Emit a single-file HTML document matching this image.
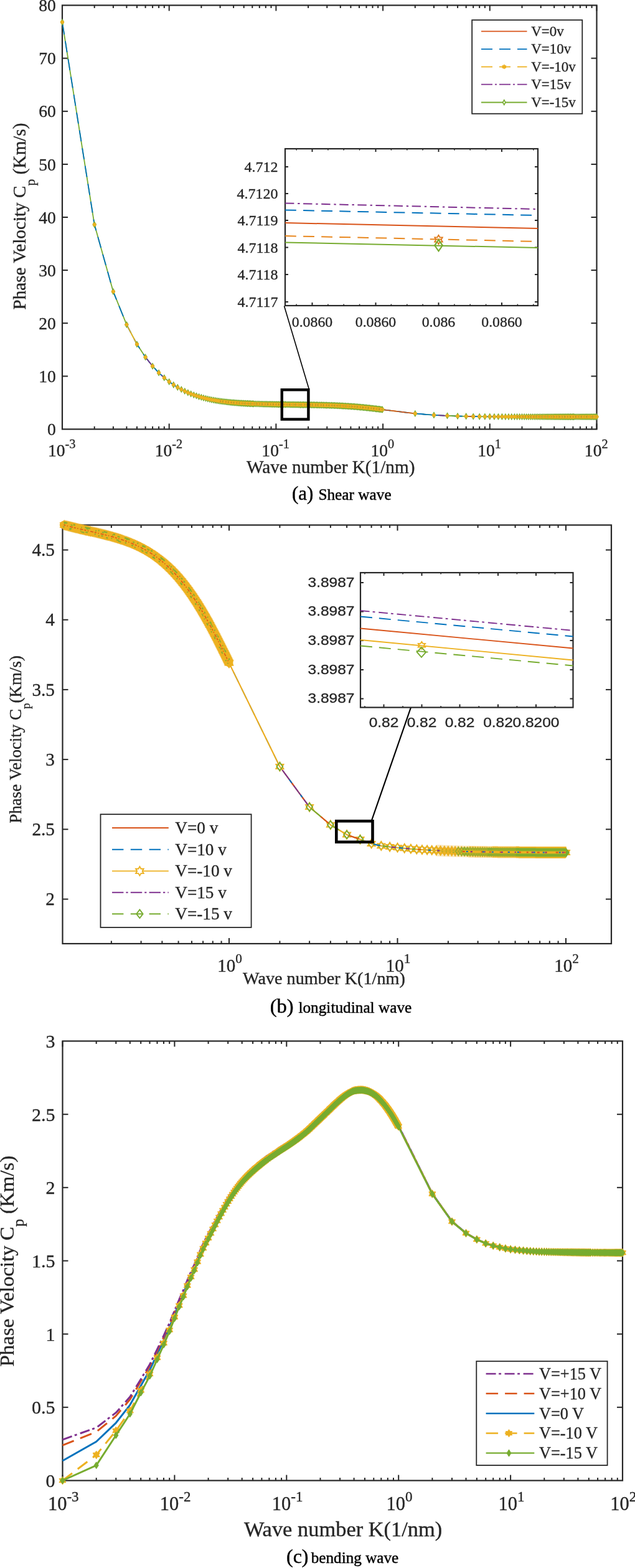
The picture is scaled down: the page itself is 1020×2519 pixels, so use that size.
<!DOCTYPE html>
<html lang="en"><head><meta charset="utf-8"><title>Phase velocity dispersion curves</title>
<style>html,body{margin:0;padding:0;background:#fff}svg{display:block}text{stroke:#262626;stroke-width:0.35px}text.cap{fill:#000;stroke:#000;stroke-width:0.45px}</style></head>
<body>
<svg width="1020" height="2519" viewBox="0 0 1020 2519" role="img" aria-label="Phase velocity versus wave number for shear, longitudinal and bending waves">
<rect width="1020" height="2519" fill="#fff"/>
<defs>
<marker id="aY" markerWidth="10" markerHeight="10" refX="5" refY="5" markerUnits="userSpaceOnUse" overflow="visible"><polygon points="5,2.1 3.9,3.1 2.5,3.5 2.8,5 2.5,6.4 3.9,6.9 5,7.9 6.1,6.9 7.5,6.5 7.2,5 7.5,3.5 6.1,3.1" fill="#EDB120" stroke="#EDB120" stroke-width="1"/></marker>
<marker id="aG" markerWidth="10" markerHeight="12" refX="5" refY="6" markerUnits="userSpaceOnUse" overflow="visible"><polygon points="5,1.5 7.6,6 5,10.5 2.4,6" fill="#77AC30" stroke="#77AC30" stroke-width="1.2"/></marker>
<marker id="bY" markerWidth="22" markerHeight="22" refX="11" refY="11" markerUnits="userSpaceOnUse" overflow="visible"><polygon points="11,3.9 9,7.4 4.9,7.4 6.9,11 4.9,14.5 9,14.6 11,18.1 13,14.6 17.1,14.6 15.1,11 17.1,7.5 13,7.5" fill="none" stroke="#EDB120" stroke-width="1.8"/></marker>
<marker id="bG" markerWidth="16" markerHeight="20" refX="8" refY="10" markerUnits="userSpaceOnUse" overflow="visible"><polygon points="8,3.6 12.8,10 8,16.4 3.2,10" fill="none" stroke="#77AC30" stroke-width="1.8"/></marker>
<marker id="cY" markerWidth="16" markerHeight="16" refX="8" refY="8" markerUnits="userSpaceOnUse" overflow="visible"><polygon points="8,1.6 6.1,4.7 2.5,4.8 4.2,8 2.5,11.2 6.1,11.3 8,14.4 9.9,11.3 13.5,11.2 11.8,8 13.5,4.8 9.9,4.7" fill="#EDB120" stroke="#EDB120" stroke-width="1"/></marker>
<marker id="cG" markerWidth="12" markerHeight="16" refX="6" refY="8" markerUnits="userSpaceOnUse" overflow="visible"><polygon points="6,2.6 9.6,8 6,13.4 2.4,8" fill="#77AC30" stroke="#77AC30" stroke-width="1"/></marker>
</defs>
<g id="panel-a">
<rect x="100" y="8.5" width="858.5" height="681" fill="none" stroke="#262626" stroke-width="2.2"/>
<line x1="100" y1="689.5" x2="100" y2="680.5" stroke="#262626" stroke-width="2"/>
<line x1="100" y1="8.5" x2="100" y2="17.5" stroke="#262626" stroke-width="2"/>
<line x1="151.7" y1="689.5" x2="151.7" y2="685" stroke="#262626" stroke-width="2"/>
<line x1="151.7" y1="8.5" x2="151.7" y2="13" stroke="#262626" stroke-width="2"/>
<line x1="181.9" y1="689.5" x2="181.9" y2="685" stroke="#262626" stroke-width="2"/>
<line x1="181.9" y1="8.5" x2="181.9" y2="13" stroke="#262626" stroke-width="2"/>
<line x1="203.4" y1="689.5" x2="203.4" y2="685" stroke="#262626" stroke-width="2"/>
<line x1="203.4" y1="8.5" x2="203.4" y2="13" stroke="#262626" stroke-width="2"/>
<line x1="220" y1="689.5" x2="220" y2="685" stroke="#262626" stroke-width="2"/>
<line x1="220" y1="8.5" x2="220" y2="13" stroke="#262626" stroke-width="2"/>
<line x1="233.6" y1="689.5" x2="233.6" y2="685" stroke="#262626" stroke-width="2"/>
<line x1="233.6" y1="8.5" x2="233.6" y2="13" stroke="#262626" stroke-width="2"/>
<line x1="245.1" y1="689.5" x2="245.1" y2="685" stroke="#262626" stroke-width="2"/>
<line x1="245.1" y1="8.5" x2="245.1" y2="13" stroke="#262626" stroke-width="2"/>
<line x1="255.1" y1="689.5" x2="255.1" y2="685" stroke="#262626" stroke-width="2"/>
<line x1="255.1" y1="8.5" x2="255.1" y2="13" stroke="#262626" stroke-width="2"/>
<line x1="263.8" y1="689.5" x2="263.8" y2="685" stroke="#262626" stroke-width="2"/>
<line x1="263.8" y1="8.5" x2="263.8" y2="13" stroke="#262626" stroke-width="2"/>
<line x1="271.7" y1="689.5" x2="271.7" y2="680.5" stroke="#262626" stroke-width="2"/>
<line x1="271.7" y1="8.5" x2="271.7" y2="17.5" stroke="#262626" stroke-width="2"/>
<line x1="323.4" y1="689.5" x2="323.4" y2="685" stroke="#262626" stroke-width="2"/>
<line x1="323.4" y1="8.5" x2="323.4" y2="13" stroke="#262626" stroke-width="2"/>
<line x1="353.6" y1="689.5" x2="353.6" y2="685" stroke="#262626" stroke-width="2"/>
<line x1="353.6" y1="8.5" x2="353.6" y2="13" stroke="#262626" stroke-width="2"/>
<line x1="375.1" y1="689.5" x2="375.1" y2="685" stroke="#262626" stroke-width="2"/>
<line x1="375.1" y1="8.5" x2="375.1" y2="13" stroke="#262626" stroke-width="2"/>
<line x1="391.7" y1="689.5" x2="391.7" y2="685" stroke="#262626" stroke-width="2"/>
<line x1="391.7" y1="8.5" x2="391.7" y2="13" stroke="#262626" stroke-width="2"/>
<line x1="405.3" y1="689.5" x2="405.3" y2="685" stroke="#262626" stroke-width="2"/>
<line x1="405.3" y1="8.5" x2="405.3" y2="13" stroke="#262626" stroke-width="2"/>
<line x1="416.8" y1="689.5" x2="416.8" y2="685" stroke="#262626" stroke-width="2"/>
<line x1="416.8" y1="8.5" x2="416.8" y2="13" stroke="#262626" stroke-width="2"/>
<line x1="426.8" y1="689.5" x2="426.8" y2="685" stroke="#262626" stroke-width="2"/>
<line x1="426.8" y1="8.5" x2="426.8" y2="13" stroke="#262626" stroke-width="2"/>
<line x1="435.5" y1="689.5" x2="435.5" y2="685" stroke="#262626" stroke-width="2"/>
<line x1="435.5" y1="8.5" x2="435.5" y2="13" stroke="#262626" stroke-width="2"/>
<line x1="443.4" y1="689.5" x2="443.4" y2="680.5" stroke="#262626" stroke-width="2"/>
<line x1="443.4" y1="8.5" x2="443.4" y2="17.5" stroke="#262626" stroke-width="2"/>
<line x1="495.1" y1="689.5" x2="495.1" y2="685" stroke="#262626" stroke-width="2"/>
<line x1="495.1" y1="8.5" x2="495.1" y2="13" stroke="#262626" stroke-width="2"/>
<line x1="525.3" y1="689.5" x2="525.3" y2="685" stroke="#262626" stroke-width="2"/>
<line x1="525.3" y1="8.5" x2="525.3" y2="13" stroke="#262626" stroke-width="2"/>
<line x1="546.8" y1="689.5" x2="546.8" y2="685" stroke="#262626" stroke-width="2"/>
<line x1="546.8" y1="8.5" x2="546.8" y2="13" stroke="#262626" stroke-width="2"/>
<line x1="563.4" y1="689.5" x2="563.4" y2="685" stroke="#262626" stroke-width="2"/>
<line x1="563.4" y1="8.5" x2="563.4" y2="13" stroke="#262626" stroke-width="2"/>
<line x1="577" y1="689.5" x2="577" y2="685" stroke="#262626" stroke-width="2"/>
<line x1="577" y1="8.5" x2="577" y2="13" stroke="#262626" stroke-width="2"/>
<line x1="588.5" y1="689.5" x2="588.5" y2="685" stroke="#262626" stroke-width="2"/>
<line x1="588.5" y1="8.5" x2="588.5" y2="13" stroke="#262626" stroke-width="2"/>
<line x1="598.5" y1="689.5" x2="598.5" y2="685" stroke="#262626" stroke-width="2"/>
<line x1="598.5" y1="8.5" x2="598.5" y2="13" stroke="#262626" stroke-width="2"/>
<line x1="607.2" y1="689.5" x2="607.2" y2="685" stroke="#262626" stroke-width="2"/>
<line x1="607.2" y1="8.5" x2="607.2" y2="13" stroke="#262626" stroke-width="2"/>
<line x1="615.1" y1="689.5" x2="615.1" y2="680.5" stroke="#262626" stroke-width="2"/>
<line x1="615.1" y1="8.5" x2="615.1" y2="17.5" stroke="#262626" stroke-width="2"/>
<line x1="666.8" y1="689.5" x2="666.8" y2="685" stroke="#262626" stroke-width="2"/>
<line x1="666.8" y1="8.5" x2="666.8" y2="13" stroke="#262626" stroke-width="2"/>
<line x1="697" y1="689.5" x2="697" y2="685" stroke="#262626" stroke-width="2"/>
<line x1="697" y1="8.5" x2="697" y2="13" stroke="#262626" stroke-width="2"/>
<line x1="718.5" y1="689.5" x2="718.5" y2="685" stroke="#262626" stroke-width="2"/>
<line x1="718.5" y1="8.5" x2="718.5" y2="13" stroke="#262626" stroke-width="2"/>
<line x1="735.1" y1="689.5" x2="735.1" y2="685" stroke="#262626" stroke-width="2"/>
<line x1="735.1" y1="8.5" x2="735.1" y2="13" stroke="#262626" stroke-width="2"/>
<line x1="748.7" y1="689.5" x2="748.7" y2="685" stroke="#262626" stroke-width="2"/>
<line x1="748.7" y1="8.5" x2="748.7" y2="13" stroke="#262626" stroke-width="2"/>
<line x1="760.2" y1="689.5" x2="760.2" y2="685" stroke="#262626" stroke-width="2"/>
<line x1="760.2" y1="8.5" x2="760.2" y2="13" stroke="#262626" stroke-width="2"/>
<line x1="770.2" y1="689.5" x2="770.2" y2="685" stroke="#262626" stroke-width="2"/>
<line x1="770.2" y1="8.5" x2="770.2" y2="13" stroke="#262626" stroke-width="2"/>
<line x1="778.9" y1="689.5" x2="778.9" y2="685" stroke="#262626" stroke-width="2"/>
<line x1="778.9" y1="8.5" x2="778.9" y2="13" stroke="#262626" stroke-width="2"/>
<line x1="786.8" y1="689.5" x2="786.8" y2="680.5" stroke="#262626" stroke-width="2"/>
<line x1="786.8" y1="8.5" x2="786.8" y2="17.5" stroke="#262626" stroke-width="2"/>
<line x1="838.5" y1="689.5" x2="838.5" y2="685" stroke="#262626" stroke-width="2"/>
<line x1="838.5" y1="8.5" x2="838.5" y2="13" stroke="#262626" stroke-width="2"/>
<line x1="868.7" y1="689.5" x2="868.7" y2="685" stroke="#262626" stroke-width="2"/>
<line x1="868.7" y1="8.5" x2="868.7" y2="13" stroke="#262626" stroke-width="2"/>
<line x1="890.2" y1="689.5" x2="890.2" y2="685" stroke="#262626" stroke-width="2"/>
<line x1="890.2" y1="8.5" x2="890.2" y2="13" stroke="#262626" stroke-width="2"/>
<line x1="906.8" y1="689.5" x2="906.8" y2="685" stroke="#262626" stroke-width="2"/>
<line x1="906.8" y1="8.5" x2="906.8" y2="13" stroke="#262626" stroke-width="2"/>
<line x1="920.4" y1="689.5" x2="920.4" y2="685" stroke="#262626" stroke-width="2"/>
<line x1="920.4" y1="8.5" x2="920.4" y2="13" stroke="#262626" stroke-width="2"/>
<line x1="931.9" y1="689.5" x2="931.9" y2="685" stroke="#262626" stroke-width="2"/>
<line x1="931.9" y1="8.5" x2="931.9" y2="13" stroke="#262626" stroke-width="2"/>
<line x1="941.9" y1="689.5" x2="941.9" y2="685" stroke="#262626" stroke-width="2"/>
<line x1="941.9" y1="8.5" x2="941.9" y2="13" stroke="#262626" stroke-width="2"/>
<line x1="950.6" y1="689.5" x2="950.6" y2="685" stroke="#262626" stroke-width="2"/>
<line x1="950.6" y1="8.5" x2="950.6" y2="13" stroke="#262626" stroke-width="2"/>
<line x1="958.5" y1="689.5" x2="958.5" y2="680.5" stroke="#262626" stroke-width="2"/>
<line x1="958.5" y1="8.5" x2="958.5" y2="17.5" stroke="#262626" stroke-width="2"/>
<text x="89.8" y="699.1" font-size="27.6" text-anchor="end" font-family="'Liberation Serif', 'Times New Roman', serif" fill="#262626">0</text>
<line x1="100" y1="604.4" x2="109" y2="604.4" stroke="#262626" stroke-width="2"/>
<line x1="958.5" y1="604.4" x2="949.5" y2="604.4" stroke="#262626" stroke-width="2"/>
<text x="89.8" y="614" font-size="27.6" text-anchor="end" font-family="'Liberation Serif', 'Times New Roman', serif" fill="#262626">10</text>
<line x1="100" y1="519.2" x2="109" y2="519.2" stroke="#262626" stroke-width="2"/>
<line x1="958.5" y1="519.2" x2="949.5" y2="519.2" stroke="#262626" stroke-width="2"/>
<text x="89.8" y="528.9" font-size="27.6" text-anchor="end" font-family="'Liberation Serif', 'Times New Roman', serif" fill="#262626">20</text>
<line x1="100" y1="434.1" x2="109" y2="434.1" stroke="#262626" stroke-width="2"/>
<line x1="958.5" y1="434.1" x2="949.5" y2="434.1" stroke="#262626" stroke-width="2"/>
<text x="89.8" y="443.7" font-size="27.6" text-anchor="end" font-family="'Liberation Serif', 'Times New Roman', serif" fill="#262626">30</text>
<line x1="100" y1="349" x2="109" y2="349" stroke="#262626" stroke-width="2"/>
<line x1="958.5" y1="349" x2="949.5" y2="349" stroke="#262626" stroke-width="2"/>
<text x="89.8" y="358.6" font-size="27.6" text-anchor="end" font-family="'Liberation Serif', 'Times New Roman', serif" fill="#262626">40</text>
<line x1="100" y1="263.9" x2="109" y2="263.9" stroke="#262626" stroke-width="2"/>
<line x1="958.5" y1="263.9" x2="949.5" y2="263.9" stroke="#262626" stroke-width="2"/>
<text x="89.8" y="273.5" font-size="27.6" text-anchor="end" font-family="'Liberation Serif', 'Times New Roman', serif" fill="#262626">50</text>
<line x1="100" y1="178.8" x2="109" y2="178.8" stroke="#262626" stroke-width="2"/>
<line x1="958.5" y1="178.8" x2="949.5" y2="178.8" stroke="#262626" stroke-width="2"/>
<text x="89.8" y="188.4" font-size="27.6" text-anchor="end" font-family="'Liberation Serif', 'Times New Roman', serif" fill="#262626">60</text>
<line x1="100" y1="93.6" x2="109" y2="93.6" stroke="#262626" stroke-width="2"/>
<line x1="958.5" y1="93.6" x2="949.5" y2="93.6" stroke="#262626" stroke-width="2"/>
<text x="89.8" y="103.2" font-size="27.6" text-anchor="end" font-family="'Liberation Serif', 'Times New Roman', serif" fill="#262626">70</text>
<text x="89.8" y="18.1" font-size="27.6" text-anchor="end" font-family="'Liberation Serif', 'Times New Roman', serif" fill="#262626">80</text>
<text x="99.2" y="733" font-size="27.6" text-anchor="middle" font-family="'Liberation Serif', 'Times New Roman', serif" fill="#262626">10<tspan dy="-12.6" font-size="20.3">-3</tspan></text>
<text x="270.9" y="733" font-size="27.6" text-anchor="middle" font-family="'Liberation Serif', 'Times New Roman', serif" fill="#262626">10<tspan dy="-12.6" font-size="20.3">-2</tspan></text>
<text x="442.6" y="733" font-size="27.6" text-anchor="middle" font-family="'Liberation Serif', 'Times New Roman', serif" fill="#262626">10<tspan dy="-12.6" font-size="20.3">-1</tspan></text>
<text x="614.3" y="733" font-size="27.6" text-anchor="middle" font-family="'Liberation Serif', 'Times New Roman', serif" fill="#262626">10<tspan dy="-12.6" font-size="20.3">0</tspan></text>
<text x="786" y="733" font-size="27.6" text-anchor="middle" font-family="'Liberation Serif', 'Times New Roman', serif" fill="#262626">10<tspan dy="-12.6" font-size="20.3">1</tspan></text>
<text x="957.7" y="733" font-size="27.6" text-anchor="middle" font-family="'Liberation Serif', 'Times New Roman', serif" fill="#262626">10<tspan dy="-12.6" font-size="20.3">2</tspan></text>
<text x="396" y="759.6" font-size="29.4" textLength="270.4" lengthAdjust="spacingAndGlyphs" font-family="'Liberation Serif', 'Times New Roman', serif" fill="#262626">Wave number K(1/nm)</text>
<text transform="translate(41.4,497.6) rotate(-90)" font-size="29.3" textLength="300.2" lengthAdjust="spacingAndGlyphs" font-family="'Liberation Serif', 'Times New Roman', serif" fill="#262626">Phase Velocity C<tspan dy="15" font-size="22">p</tspan><tspan dy="-15"> (Km/s)</tspan></text>
<text class="cap" x="469" y="802.5" font-size="31" font-family="'Liberation Serif', 'Times New Roman', serif" fill="#262626">(a)<tspan font-size="25.3" dx="8">Shear wave</tspan></text>
<polyline points="100,35.6 151.7,360.8 181.9,468.4 203.4,521.6 220,553.1 233.6,573.8 245.1,588.2 255.1,598.9 263.8,606.9 271.7,613.2 278.8,618.2 285.3,622.3 291.3,625.6 296.8,628.4 301.9,630.8 306.7,632.8 311.3,634.5 315.5,635.9 319.6,637.2 323.4,638.3 327,639.3 330.5,640.1 333.8,640.9 337,641.6 340,642.2 343,642.7 345.8,643.2 348.5,643.7 351.1,644.1 353.6,644.5 356.1,644.8 358.4,645.1 360.7,645.4 363,645.6 365.1,645.9 367.2,646.1 369.3,646.3 371.2,646.5 373.2,646.7 375.1,646.8 376.9,647 378.7,647.1 380.5,647.2 382.2,647.4 383.9,647.5 385.5,647.6 387.1,647.7 388.7,647.8 390.2,647.9 391.7,648 393.2,648 394.6,648.1 396.1,648.2 397.5,648.3 398.8,648.3 400.2,648.4 401.5,648.5 402.8,648.5 404.1,648.6 405.3,648.6 406.5,648.7 407.8,648.7 408.9,648.7 410.1,648.8 411.3,648.8 412.4,648.9 413.5,648.9 414.6,648.9 415.7,649 416.8,649 417.9,649 418.9,649.1 419.9,649.1 420.9,649.1 421.9,649.2 422.9,649.2 423.9,649.2 424.9,649.2 425.8,649.3 426.8,649.3 427.7,649.3 428.6,649.3 429.5,649.3 430.4,649.4 431.3,649.4 432.2,649.4 433,649.4 433.9,649.4 434.7,649.5 435.5,649.5 436.4,649.5 437.2,649.5 438,649.5 438.8,649.5 439.6,649.5 440.4,649.6 441.1,649.6 441.9,649.6 442.7,649.6 443.4,649.6 444.1,649.6 444.9,649.6 445.6,649.7 446.3,649.7 447,649.7 447.7,649.7 448.4,649.7 449.8,649.7 451.2,649.7 452.5,649.8 453.8,649.8 455.1,649.8 456.4,649.8 457.6,649.8 458.8,649.9 460,649.9 461.2,649.9 462.4,649.9 463.5,649.9 464.7,649.9 465.8,650 466.9,650 468,650 469,650 470.1,650 471.1,650 472.1,650 473.1,650.1 474.1,650.1 475.1,650.1 476.1,650.1 477,650.1 478,650.1 478.9,650.1 479.8,650.1 480.7,650.2 481.6,650.2 482.5,650.2 483.4,650.2 484.3,650.2 485.1,650.2 486,650.2 486.8,650.2 487.6,650.3 488.5,650.3 489.3,650.3 490.1,650.3 490.9,650.3 491.7,650.3 492.4,650.3 493.2,650.3 494,650.4 494.7,650.4 495.5,650.4 496.2,650.4 496.9,650.4 497.7,650.4 498.4,650.4 499.1,650.4 499.8,650.5 500.8,650.5 501.9,650.5 502.9,650.5 503.9,650.5 504.9,650.5 505.8,650.6 506.8,650.6 507.7,650.6 508.7,650.6 509.6,650.6 510.5,650.7 511.4,650.7 512.3,650.7 513.2,650.7 514.1,650.7 514.9,650.8 515.8,650.8 516.6,650.8 517.5,650.8 518.3,650.9 519.1,650.9 519.9,650.9 520.7,650.9 521.5,650.9 522.3,651 523.1,651 523.8,651 524.6,651 525.3,651.1 526.1,651.1 526.8,651.1 527.5,651.1 528.2,651.1 529,651.2 529.7,651.2 530.4,651.2 531.3,651.2 532.2,651.3 533.1,651.3 534,651.3 534.9,651.4 535.7,651.4 536.6,651.4 537.5,651.5 538.3,651.5 539.1,651.5 539.9,651.6 540.8,651.6 541.6,651.7 542.4,651.7 543.1,651.7 543.9,651.8 544.7,651.8 545.5,651.8 546.2,651.9 547,651.9 547.7,651.9 548.4,652 549.2,652 549.9,652.1 550.6,652.1 551.3,652.1 552.2,652.2 553,652.2 553.9,652.3 554.7,652.3 555.6,652.4 556.4,652.4 557.2,652.5 558,652.5 558.8,652.6 559.6,652.6 560.4,652.7 561.1,652.7 561.9,652.8 562.7,652.8 563.4,652.9 564.2,652.9 564.9,653 565.6,653 566.3,653.1 567.1,653.1 567.8,653.2 568.5,653.2 569.3,653.3 570.1,653.4 570.9,653.4 571.7,653.5 572.5,653.6 573.3,653.6 574.1,653.7 574.9,653.8 575.6,653.8 576.4,653.9 577.1,653.9 577.9,654 578.6,654.1 579.3,654.1 580.1,654.2 580.8,654.3 581.5,654.3 582.2,654.4 583,654.5 583.8,654.6 584.6,654.6 585.3,654.7 586.1,654.8 586.9,654.9 587.6,654.9 588.4,655 589.1,655.1 589.9,655.2 590.6,655.2 591.3,655.3 592,655.4 592.7,655.5 593.4,655.5 594.2,655.6 595,655.7 595.8,655.8 596.6,655.9 597.3,656 598.1,656.1 598.8,656.1 599.6,656.2 600.3,656.3 601,656.4 601.7,656.5 602.5,656.6 603.2,656.6 603.9,656.7 604.6,656.8 605.4,656.9 606.2,657 606.9,657.1 607.7,657.2 608.4,657.3 609.1,657.4 609.8,657.4 610.6,657.5 611.3,657.6 612,657.7 612.7,657.8 613.4,657.9 614.2,658 615,658.1 666.8,664.4 697,666.9 718.5,667.9 735.1,668.5 748.7,668.8 760.2,669.1 770.2,669.2 778.9,669.3 786.8,669.3 793.9,669.4 800.4,669.4 806.4,669.4 811.9,669.5 817,669.5 821.8,669.5 826.4,669.5 830.6,669.5 834.7,669.5 838.5,669.5 842.1,669.5 845.6,669.6 848.9,669.6 852.1,669.6 855.1,669.6 858.1,669.6 860.9,669.6 863.6,669.6 866.2,669.6 868.7,669.6 871.2,669.6 873.5,669.6 875.8,669.6 878.1,669.6 880.2,669.6 882.3,669.6 884.4,669.6 886.3,669.6 888.3,669.6 890.2,669.6 892,669.6 893.8,669.6 895.6,669.6 897.3,669.6 899,669.6 900.6,669.6 902.2,669.6 903.8,669.6 905.3,669.6 906.8,669.6 908.3,669.6 909.7,669.6 911.2,669.6 912.6,669.6 913.9,669.6 915.3,669.6 916.6,669.6 917.9,669.6 919.2,669.6 920.4,669.6 921.6,669.6 922.9,669.6 924,669.6 925.2,669.6 926.4,669.6 927.5,669.6 928.6,669.6 929.7,669.6 930.8,669.6 931.9,669.6 933,669.6 934,669.6 935,669.6 936,669.6 937,669.6 938,669.6 939,669.6 940,669.6 940.9,669.6 941.9,669.6 942.8,669.6 943.7,669.6 944.6,669.6 945.5,669.6 946.4,669.6 947.3,669.6 948.1,669.6 949,669.6 949.8,669.6 950.6,669.6 951.5,669.6 952.3,669.6 953.1,669.6 953.9,669.6 954.7,669.6 955.5,669.6 956.2,669.6 957,669.6 957.8,669.6 958.5,669.6" fill="none" stroke="#77AC30" stroke-width="1.8" stroke-linejoin="round"/>
<polyline points="100,35.6 151.7,360.8 181.9,468.4 203.4,521.6 220,553.1 233.6,573.8 245.1,588.2 255.1,598.9 263.8,606.9 271.7,613.2 278.8,618.2 285.3,622.3 291.3,625.6 296.8,628.4 301.9,630.8 306.7,632.8 311.3,634.5 315.5,635.9 319.6,637.2 323.4,638.3 327,639.3 330.5,640.1 333.8,640.9 337,641.6 340,642.2 343,642.7 345.8,643.2 348.5,643.7 351.1,644.1 353.6,644.5 356.1,644.8 358.4,645.1 360.7,645.4 363,645.6 365.1,645.9 367.2,646.1 369.3,646.3 371.2,646.5 373.2,646.7 375.1,646.8 376.9,647 378.7,647.1 380.5,647.2 382.2,647.4 383.9,647.5 385.5,647.6 387.1,647.7 388.7,647.8 390.2,647.9 391.7,648 393.2,648 394.6,648.1 396.1,648.2 397.5,648.3 398.8,648.3 400.2,648.4 401.5,648.5 402.8,648.5 404.1,648.6 405.3,648.6 406.5,648.7 407.8,648.7 408.9,648.7 410.1,648.8 411.3,648.8 412.4,648.9 413.5,648.9 414.6,648.9 415.7,649 416.8,649 417.9,649 418.9,649.1 419.9,649.1 420.9,649.1 421.9,649.2 422.9,649.2 423.9,649.2 424.9,649.2 425.8,649.3 426.8,649.3 427.7,649.3 428.6,649.3 429.5,649.3 430.4,649.4 431.3,649.4 432.2,649.4 433,649.4 433.9,649.4 434.7,649.5 435.5,649.5 436.4,649.5 437.2,649.5 438,649.5 438.8,649.5 439.6,649.5 440.4,649.6 441.1,649.6 441.9,649.6 442.7,649.6 443.4,649.6 444.1,649.6 444.9,649.6 445.6,649.7 446.3,649.7 447,649.7 447.7,649.7 448.4,649.7 449.8,649.7 451.2,649.7 452.5,649.8 453.8,649.8 455.1,649.8 456.4,649.8 457.6,649.8 458.8,649.9 460,649.9 461.2,649.9 462.4,649.9 463.5,649.9 464.7,649.9 465.8,650 466.9,650 468,650 469,650 470.1,650 471.1,650 472.1,650 473.1,650.1 474.1,650.1 475.1,650.1 476.1,650.1 477,650.1 478,650.1 478.9,650.1 479.8,650.1 480.7,650.2 481.6,650.2 482.5,650.2 483.4,650.2 484.3,650.2 485.1,650.2 486,650.2 486.8,650.2 487.6,650.3 488.5,650.3 489.3,650.3 490.1,650.3 490.9,650.3 491.7,650.3 492.4,650.3 493.2,650.3 494,650.4 494.7,650.4 495.5,650.4 496.2,650.4 496.9,650.4 497.7,650.4 498.4,650.4 499.1,650.4 499.8,650.5 500.8,650.5 501.9,650.5 502.9,650.5 503.9,650.5 504.9,650.5 505.8,650.6 506.8,650.6 507.7,650.6 508.7,650.6 509.6,650.6 510.5,650.7 511.4,650.7 512.3,650.7 513.2,650.7 514.1,650.7 514.9,650.8 515.8,650.8 516.6,650.8 517.5,650.8 518.3,650.9 519.1,650.9 519.9,650.9 520.7,650.9 521.5,650.9 522.3,651 523.1,651 523.8,651 524.6,651 525.3,651.1 526.1,651.1 526.8,651.1 527.5,651.1 528.2,651.1 529,651.2 529.7,651.2 530.4,651.2 531.3,651.2 532.2,651.3 533.1,651.3 534,651.3 534.9,651.4 535.7,651.4 536.6,651.4 537.5,651.5 538.3,651.5 539.1,651.5 539.9,651.6 540.8,651.6 541.6,651.7 542.4,651.7 543.1,651.7 543.9,651.8 544.7,651.8 545.5,651.8 546.2,651.9 547,651.9 547.7,651.9 548.4,652 549.2,652 549.9,652.1 550.6,652.1 551.3,652.1 552.2,652.2 553,652.2 553.9,652.3 554.7,652.3 555.6,652.4 556.4,652.4 557.2,652.5 558,652.5 558.8,652.6 559.6,652.6 560.4,652.7 561.1,652.7 561.9,652.8 562.7,652.8 563.4,652.9 564.2,652.9 564.9,653 565.6,653 566.3,653.1 567.1,653.1 567.8,653.2 568.5,653.2 569.3,653.3 570.1,653.4 570.9,653.4 571.7,653.5 572.5,653.6 573.3,653.6 574.1,653.7 574.9,653.8 575.6,653.8 576.4,653.9 577.1,653.9 577.9,654 578.6,654.1 579.3,654.1 580.1,654.2 580.8,654.3 581.5,654.3 582.2,654.4 583,654.5 583.8,654.6 584.6,654.6 585.3,654.7 586.1,654.8 586.9,654.9 587.6,654.9 588.4,655 589.1,655.1 589.9,655.2 590.6,655.2 591.3,655.3 592,655.4 592.7,655.5 593.4,655.5 594.2,655.6 595,655.7 595.8,655.8 596.6,655.9 597.3,656 598.1,656.1 598.8,656.1 599.6,656.2 600.3,656.3 601,656.4 601.7,656.5 602.5,656.6 603.2,656.6 603.9,656.7 604.6,656.8 605.4,656.9 606.2,657 606.9,657.1 607.7,657.2 608.4,657.3 609.1,657.4 609.8,657.4 610.6,657.5 611.3,657.6 612,657.7 612.7,657.8 613.4,657.9 614.2,658 615,658.1 666.8,664.4 697,666.9 718.5,667.9 735.1,668.5 748.7,668.8 760.2,669.1 770.2,669.2 778.9,669.3 786.8,669.3 793.9,669.4 800.4,669.4 806.4,669.4 811.9,669.5 817,669.5 821.8,669.5 826.4,669.5 830.6,669.5 834.7,669.5 838.5,669.5 842.1,669.5 845.6,669.6 848.9,669.6 852.1,669.6 855.1,669.6 858.1,669.6 860.9,669.6 863.6,669.6 866.2,669.6 868.7,669.6 871.2,669.6 873.5,669.6 875.8,669.6 878.1,669.6 880.2,669.6 882.3,669.6 884.4,669.6 886.3,669.6 888.3,669.6 890.2,669.6 892,669.6 893.8,669.6 895.6,669.6 897.3,669.6 899,669.6 900.6,669.6 902.2,669.6 903.8,669.6 905.3,669.6 906.8,669.6 908.3,669.6 909.7,669.6 911.2,669.6 912.6,669.6 913.9,669.6 915.3,669.6 916.6,669.6 917.9,669.6 919.2,669.6 920.4,669.6 921.6,669.6 922.9,669.6 924,669.6 925.2,669.6 926.4,669.6 927.5,669.6 928.6,669.6 929.7,669.6 930.8,669.6 931.9,669.6 933,669.6 934,669.6 935,669.6 936,669.6 937,669.6 938,669.6 939,669.6 940,669.6 940.9,669.6 941.9,669.6 942.8,669.6 943.7,669.6 944.6,669.6 945.5,669.6 946.4,669.6 947.3,669.6 948.1,669.6 949,669.6 949.8,669.6 950.6,669.6 951.5,669.6 952.3,669.6 953.1,669.6 953.9,669.6 954.7,669.6 955.5,669.6 956.2,669.6 957,669.6 957.8,669.6 958.5,669.6" fill="none" stroke="#0072BD" stroke-width="1.8" stroke-linejoin="round" stroke-dasharray="18 11" stroke-dashoffset="-2"/>
<polyline points="203.4,521.6 204.9,524.5 206.4,527.3 207.9,530.2 209.4,533.1 210.9,535.9 212.4,538.8 214,541.7 215.5,544.5 217,547.4 218.5,550.3 220,553.1" fill="none" stroke="#EDB120" stroke-width="1.6" stroke-linejoin="round"/>
<polyline points="233.6,573.8 234.7,575.1 235.7,576.4 236.7,577.7 237.8,579 238.8,580.4 239.9,581.7 240.9,583 242,584.3 243,585.6 244.1,586.9 245.1,588.2" fill="none" stroke="#7E2F8E" stroke-width="1.6" stroke-linejoin="round"/>
<polyline points="259.6,603 260.2,603.6 260.8,604.1 261.4,604.7 262,605.3 262.6,605.8 263.2,606.4 263.8,606.9 264.5,607.4 265.1,607.9 265.7,608.4 266.3,608.9" fill="none" stroke="#7E2F8E" stroke-width="1.6" stroke-linejoin="round"/>
<polyline points="615.1,658.1 619.8,658.7 624.5,659.2 629.2,659.8 633.9,660.4 638.6,661 643.3,661.5 648,662.1 652.7,662.7 657.4,663.2 662.1,663.8 666.8,664.4" fill="none" stroke="#D95319" stroke-width="1.6" stroke-linejoin="round"/>
<polyline points="673.9,665 675.8,665.1 677.6,665.3 679.5,665.4 681.4,665.6 683.3,665.7 685.1,665.9 687,666 688.9,666.2 690.7,666.3 692.6,666.5 694.5,666.7" fill="none" stroke="#0072BD" stroke-width="1.6" stroke-linejoin="round"/>
<polyline points="704.1,667.2 705.3,667.3 706.4,667.3 707.5,667.4 708.7,667.4 709.8,667.5 710.9,667.6 712.1,667.6 713.2,667.7 714.3,667.7 715.5,667.8 716.6,667.9" fill="none" stroke="#7E2F8E" stroke-width="1.6" stroke-linejoin="round"/>
<polyline points="722.1,668.1 723.2,668.1 724.2,668.2 725.2,668.2 726.3,668.2 727.3,668.3 728.4,668.3 729.4,668.3 730.5,668.4 731.5,668.4 732.6,668.5 733.6,668.5" fill="none" stroke="#77AC30" stroke-width="1.6" stroke-linejoin="round"/>
<polyline points="751.2,668.9 751.9,668.9 752.6,668.9 753.3,668.9 754.1,669 754.8,669 755.5,669 756.2,669 757,669 757.7,669 758.4,669.1 759.1,669.1" fill="none" stroke="#D95319" stroke-width="1.6" stroke-linejoin="round"/>
<polyline points="762.3,669.1 762.9,669.1 763.6,669.1 764.2,669.1 764.8,669.2 765.4,669.2 766.1,669.2 766.7,669.2 767.3,669.2 768,669.2 768.6,669.2 769.2,669.2" fill="none" stroke="#0072BD" stroke-width="1.6" stroke-linejoin="round"/>
<polyline points="100,35.6 151.7,360.8 181.9,468.4 203.4,521.6 220,553.1 233.6,573.8 245.1,588.2 255.1,598.9 263.8,606.9 271.7,613.2 278.8,618.2 285.3,622.3 291.3,625.6 296.8,628.4 301.9,630.8 306.7,632.8 311.3,634.5 315.5,635.9 319.6,637.2 323.4,638.3 327,639.3 330.5,640.1 333.8,640.9 337,641.6 340,642.2 343,642.7 345.8,643.2 348.5,643.7 351.1,644.1 353.6,644.5 356.1,644.8 358.4,645.1 360.7,645.4 363,645.6 365.1,645.9 367.2,646.1 369.3,646.3 371.2,646.5 373.2,646.7 375.1,646.8 376.9,647 378.7,647.1 380.5,647.2 382.2,647.4 383.9,647.5 385.5,647.6 387.1,647.7 388.7,647.8 390.2,647.9 391.7,648 393.2,648 394.6,648.1 396.1,648.2 397.5,648.3 398.8,648.3 400.2,648.4 401.5,648.5 402.8,648.5 404.1,648.6 405.3,648.6 406.5,648.7 407.8,648.7 410.1,648.8 412.4,648.9 414.6,648.9 416.8,649 418.9,649.1 420.9,649.1 422.9,649.2 424.9,649.2 426.8,649.3 428.6,649.3 430.4,649.4 432.2,649.4 433.9,649.4 435.5,649.5 437.2,649.5 438.8,649.5 440.4,649.6 441.9,649.6 443.4,649.6 444.9,649.6 446.3,649.7 447.7,649.7 449.1,649.7 450.5,649.7 451.9,649.8 453.2,649.8 454.5,649.8 455.7,649.8 457,649.8 458.2,649.8 459.4,649.9 461.2,649.9 463,649.9 464.7,649.9 466.3,650 468,650 469.5,650 471.1,650 472.6,650 474.1,650.1 475.6,650.1 477,650.1 478.4,650.1 479.8,650.1 481.2,650.2 482.5,650.2 483.8,650.2 485.1,650.2 486.4,650.2 487.6,650.3 488.9,650.3 490.1,650.3 491.7,650.3 493.2,650.3 494.7,650.4 496.2,650.4 497.7,650.4 499.1,650.4 500.5,650.5 501.9,650.5 503.2,650.5 504.5,650.5 505.8,650.6 507.1,650.6 508.4,650.6 509.6,650.6 510.8,650.7 512.3,650.7 513.8,650.7 515.2,650.8 516.6,650.8 518,650.8 519.4,650.9 520.7,650.9 522,651 523.3,651 524.6,651 525.8,651.1 527,651.1 528.2,651.1 529.7,651.2 531.1,651.2 532.4,651.3 533.8,651.3 535.1,651.4 536.4,651.4 537.7,651.5 538.9,651.5 540.1,651.6 541.4,651.6 542.8,651.7 544.1,651.8 545.5,651.8 546.8,651.9 548.1,652 549.3,652 550.6,652.1 551.8,652.2 553,652.2 554.4,652.3 555.7,652.4 557,652.5 558.3,652.5 559.6,652.6 560.8,652.7 562.1,652.8 563.3,652.9 564.6,653 565.9,653 567.2,653.1 568.5,653.2 569.7,653.3 570.9,653.4 572.1,653.5 573.4,653.6 574.7,653.7 576,653.8 577.3,654 578.5,654.1 579.7,654.2 581,654.3 582.3,654.4 583.5,654.5 584.8,654.7 586,654.8 587.2,654.9 588.5,655 589.8,655.2 591,655.3 592.2,655.4 593.4,655.5 594.7,655.7 596,655.8 597.2,656 598.5,656.1 599.7,656.2 600.9,656.4 602.2,656.5 603.4,656.7 604.6,656.8 605.8,657 607.1,657.1 608.3,657.3 609.5,657.4 610.7,657.5 612,657.7 613.2,657.9 614.4,658 666.8,664.4 697,666.9 718.5,667.9 735.1,668.5 748.7,668.8 760.2,669.1 770.2,669.2 778.9,669.3 786.8,669.3 793.9,669.4 800.4,669.4 806.4,669.4 811.9,669.5 817,669.5 821.8,669.5 826.4,669.5 830.6,669.5 834.7,669.5 838.5,669.5 842.1,669.5 845.6,669.6 848.9,669.6 852.1,669.6 855.1,669.6 858.1,669.6 860.9,669.6 863.6,669.6 866.2,669.6 868.7,669.6 871.2,669.6 873.5,669.6 875.8,669.6 878.1,669.6 880.2,669.6 882.3,669.6 884.4,669.6 886.3,669.6 888.3,669.6 890.2,669.6 892,669.6 893.8,669.6 895.6,669.6 897.3,669.6 899,669.6 900.6,669.6 902.2,669.6 903.8,669.6 905.3,669.6 906.8,669.6 908.3,669.6 909.7,669.6 911.2,669.6 912.6,669.6 913.9,669.6 915.3,669.6 916.6,669.6 917.9,669.6 919.2,669.6 920.4,669.6 921.6,669.6 922.9,669.6 925.2,669.6 927.5,669.6 929.7,669.6 931.9,669.6 934,669.6 936,669.6 938,669.6 940,669.6 941.9,669.6 943.7,669.6 945.5,669.6 947.3,669.6 949,669.6 950.6,669.6 952.3,669.6 953.9,669.6 955.5,669.6 957,669.6 958.5,669.6" fill="none" stroke="none" stroke-width="0" stroke-linejoin="round" marker-start="url(#aG)" marker-mid="url(#aG)" marker-end="url(#aG)"/>
<polyline points="100,35.6 151.7,360.8 181.9,468.4 203.4,521.6 220,553.1 233.6,573.8 245.1,588.2 255.1,598.9 263.8,606.9 271.7,613.2 278.8,618.2 285.3,622.3 291.3,625.6 296.8,628.4 301.9,630.8 306.7,632.8 311.3,634.5 315.5,635.9 319.6,637.2 323.4,638.3 327,639.3 330.5,640.1 333.8,640.9 337,641.6 340,642.2 343,642.7 345.8,643.2 348.5,643.7 351.1,644.1 353.6,644.5 356.1,644.8 358.4,645.1 360.7,645.4 363,645.6 365.1,645.9 367.2,646.1 369.3,646.3 371.2,646.5 373.2,646.7 375.1,646.8 376.9,647 378.7,647.1 380.5,647.2 382.2,647.4 383.9,647.5 385.5,647.6 387.1,647.7 388.7,647.8 390.2,647.9 391.7,648 393.2,648 394.6,648.1 396.1,648.2 397.5,648.3 398.8,648.3 400.2,648.4 401.5,648.5 402.8,648.5 404.1,648.6 405.3,648.6 406.5,648.7 407.8,648.7 410.1,648.8 412.4,648.9 414.6,648.9 416.8,649 418.9,649.1 420.9,649.1 422.9,649.2 424.9,649.2 426.8,649.3 428.6,649.3 430.4,649.4 432.2,649.4 433.9,649.4 435.5,649.5 437.2,649.5 438.8,649.5 440.4,649.6 441.9,649.6 443.4,649.6 444.9,649.6 446.3,649.7 447.7,649.7 449.1,649.7 450.5,649.7 451.9,649.8 453.2,649.8 454.5,649.8 455.7,649.8 457,649.8 458.2,649.8 459.4,649.9 461.2,649.9 463,649.9 464.7,649.9 466.3,650 468,650 469.5,650 471.1,650 472.6,650 474.1,650.1 475.6,650.1 477,650.1 478.4,650.1 479.8,650.1 481.2,650.2 482.5,650.2 483.8,650.2 485.1,650.2 486.4,650.2 487.6,650.3 488.9,650.3 490.1,650.3 491.7,650.3 493.2,650.3 494.7,650.4 496.2,650.4 497.7,650.4 499.1,650.4 500.5,650.5 501.9,650.5 503.2,650.5 504.5,650.5 505.8,650.6 507.1,650.6 508.4,650.6 509.6,650.6 510.8,650.7 512.3,650.7 513.8,650.7 515.2,650.8 516.6,650.8 518,650.8 519.4,650.9 520.7,650.9 522,651 523.3,651 524.6,651 525.8,651.1 527,651.1 528.2,651.1 529.7,651.2 531.1,651.2 532.4,651.3 533.8,651.3 535.1,651.4 536.4,651.4 537.7,651.5 538.9,651.5 540.1,651.6 541.4,651.6 542.8,651.7 544.1,651.8 545.5,651.8 546.8,651.9 548.1,652 549.3,652 550.6,652.1 551.8,652.2 553,652.2 554.4,652.3 555.7,652.4 557,652.5 558.3,652.5 559.6,652.6 560.8,652.7 562.1,652.8 563.3,652.9 564.6,653 565.9,653 567.2,653.1 568.5,653.2 569.7,653.3 570.9,653.4 572.1,653.5 573.4,653.6 574.7,653.7 576,653.8 577.3,654 578.5,654.1 579.7,654.2 581,654.3 582.3,654.4 583.5,654.5 584.8,654.7 586,654.8 587.2,654.9 588.5,655 589.8,655.2 591,655.3 592.2,655.4 593.4,655.5 594.7,655.7 596,655.8 597.2,656 598.5,656.1 599.7,656.2 600.9,656.4 602.2,656.5 603.4,656.7 604.6,656.8 605.8,657 607.1,657.1 608.3,657.3 609.5,657.4 610.7,657.5 612,657.7 613.2,657.9 614.4,658 666.8,664.4 697,666.9 718.5,667.9 735.1,668.5 748.7,668.8 760.2,669.1 770.2,669.2 778.9,669.3 786.8,669.3 793.9,669.4 800.4,669.4 806.4,669.4 811.9,669.5 817,669.5 821.8,669.5 826.4,669.5 830.6,669.5 834.7,669.5 838.5,669.5 842.1,669.5 845.6,669.6 848.9,669.6 852.1,669.6 855.1,669.6 858.1,669.6 860.9,669.6 863.6,669.6 866.2,669.6 868.7,669.6 871.2,669.6 873.5,669.6 875.8,669.6 878.1,669.6 880.2,669.6 882.3,669.6 884.4,669.6 886.3,669.6 888.3,669.6 890.2,669.6 892,669.6 893.8,669.6 895.6,669.6 897.3,669.6 899,669.6 900.6,669.6 902.2,669.6 903.8,669.6 905.3,669.6 906.8,669.6 908.3,669.6 909.7,669.6 911.2,669.6 912.6,669.6 913.9,669.6 915.3,669.6 916.6,669.6 917.9,669.6 919.2,669.6 920.4,669.6 921.6,669.6 922.9,669.6 925.2,669.6 927.5,669.6 929.7,669.6 931.9,669.6 934,669.6 936,669.6 938,669.6 940,669.6 941.9,669.6 943.7,669.6 945.5,669.6 947.3,669.6 949,669.6 950.6,669.6 952.3,669.6 953.9,669.6 955.5,669.6 957,669.6 958.5,669.6" fill="none" stroke="none" stroke-width="0" stroke-linejoin="round" marker-start="url(#aY)" marker-mid="url(#aY)" marker-end="url(#aY)"/>
<polyline points="353.6,644.5 355.8,644.8 358,645 360.2,645.3 362.4,645.6 364.6,645.8 366.8,646.1 369,646.3 371.2,646.5 373.4,646.7 375.6,646.9 377.8,647 380,647.2 382.2,647.4 384.4,647.5 386.6,647.7 388.8,647.8 391,647.9 393.2,648 395.4,648.2 397.6,648.3 399.8,648.4 402,648.5 404.2,648.6 406.4,648.7 408.6,648.7 410.8,648.8 412.9,648.9 415.1,649 417.3,649 419.5,649.1 421.7,649.2 423.9,649.2 426.1,649.3 428.3,649.3 430.5,649.4 432.7,649.4 434.9,649.5 437.1,649.5 439.3,649.5 441.5,649.6 443.7,649.6 445.9,649.7 448.1,649.7 450.3,649.7 452.5,649.8 454.7,649.8 456.9,649.8 459.1,649.9 461.3,649.9 463.5,649.9 465.7,650 467.9,650 470.1,650 472.3,650 474.5,650.1 476.7,650.1 478.9,650.1 481.1,650.2 483.3,650.2 485.5,650.2 487.7,650.3 489.9,650.3 492.1,650.3 494.2,650.4 496.4,650.4 498.6,650.4 500.8,650.5 503,650.5 505.2,650.6 507.4,650.6 509.6,650.6 511.8,650.7 514,650.7 516.2,650.8 518.4,650.9 520.6,650.9 522.8,651 525,651 527.2,651.1 529.4,651.2 531.6,651.3 533.8,651.3 536,651.4 538.2,651.5 540.4,651.6 542.6,651.7 544.8,651.8 547,651.9 549.2,652 551.4,652.1 553.6,652.3 555.8,652.4 558,652.5 560.2,652.7 562.4,652.8 564.6,653 566.8,653.1 569,653.3 571.2,653.4 573.4,653.6 575.5,653.8 577.7,654 579.9,654.2 582.1,654.4 584.3,654.6 586.5,654.8 588.7,655 590.9,655.3 593.1,655.5 595.3,655.7 597.5,656 599.7,656.2 601.9,656.5 604.1,656.8 606.3,657 608.5,657.3 610.7,657.5 612.9,657.8 615.1,658.1" fill="none" stroke="#77AC30" stroke-width="3.5" stroke-linejoin="round" stroke-dasharray="1 2.5 1.5 4" opacity="0.55"/>
<polyline points="353.6,644.5 355.8,644.8 358,645 360.2,645.3 362.4,645.6 364.6,645.8 366.8,646.1 369,646.3 371.2,646.5 373.4,646.7 375.6,646.9 377.8,647 380,647.2 382.2,647.4 384.4,647.5 386.6,647.7 388.8,647.8 391,647.9 393.2,648 395.4,648.2 397.6,648.3 399.8,648.4 402,648.5 404.2,648.6 406.4,648.7 408.6,648.7 410.8,648.8 412.9,648.9 415.1,649 417.3,649 419.5,649.1 421.7,649.2 423.9,649.2 426.1,649.3 428.3,649.3 430.5,649.4 432.7,649.4 434.9,649.5 437.1,649.5 439.3,649.5 441.5,649.6 443.7,649.6 445.9,649.7 448.1,649.7 450.3,649.7 452.5,649.8 454.7,649.8 456.9,649.8 459.1,649.9 461.3,649.9 463.5,649.9 465.7,650 467.9,650 470.1,650 472.3,650 474.5,650.1 476.7,650.1 478.9,650.1 481.1,650.2 483.3,650.2 485.5,650.2 487.7,650.3 489.9,650.3 492.1,650.3 494.2,650.4 496.4,650.4 498.6,650.4 500.8,650.5 503,650.5 505.2,650.6 507.4,650.6 509.6,650.6 511.8,650.7 514,650.7 516.2,650.8 518.4,650.9 520.6,650.9 522.8,651 525,651 527.2,651.1 529.4,651.2 531.6,651.3 533.8,651.3 536,651.4 538.2,651.5 540.4,651.6 542.6,651.7 544.8,651.8 547,651.9 549.2,652 551.4,652.1 553.6,652.3 555.8,652.4 558,652.5 560.2,652.7 562.4,652.8 564.6,653 566.8,653.1 569,653.3 571.2,653.4 573.4,653.6 575.5,653.8 577.7,654 579.9,654.2 582.1,654.4 584.3,654.6 586.5,654.8 588.7,655 590.9,655.3 593.1,655.5 595.3,655.7 597.5,656 599.7,656.2 601.9,656.5 604.1,656.8 606.3,657 608.5,657.3 610.7,657.5 612.9,657.8 615.1,658.1" fill="none" stroke="#D95319" stroke-width="1.1" stroke-linejoin="round" stroke-dasharray="1.5 2.5 1 3.5" opacity="0.7"/>
<polyline points="830.6,669.5 831.7,669.5 832.8,669.5 833.9,669.5 834.9,669.5 836,669.5 837.1,669.5 838.2,669.5 839.2,669.5 840.3,669.5 841.4,669.5 842.5,669.5 843.5,669.5 844.6,669.6 845.7,669.6 846.7,669.6 847.8,669.6 848.9,669.6 850,669.6 851,669.6 852.1,669.6 853.2,669.6 854.3,669.6 855.3,669.6 856.4,669.6 857.5,669.6 858.6,669.6 859.6,669.6 860.7,669.6 861.8,669.6 862.9,669.6 863.9,669.6 865,669.6 866.1,669.6 867.2,669.6 868.2,669.6 869.3,669.6 870.4,669.6 871.5,669.6 872.5,669.6 873.6,669.6 874.7,669.6 875.8,669.6 876.8,669.6 877.9,669.6 879,669.6 880.1,669.6 881.1,669.6 882.2,669.6 883.3,669.6 884.4,669.6 885.4,669.6 886.5,669.6 887.6,669.6 888.7,669.6 889.7,669.6 890.8,669.6 891.9,669.6 893,669.6 894,669.6 895.1,669.6 896.2,669.6 897.3,669.6 898.3,669.6 899.4,669.6 900.5,669.6 901.5,669.6 902.6,669.6 903.7,669.6 904.8,669.6 905.8,669.6 906.9,669.6 908,669.6 909.1,669.6 910.1,669.6 911.2,669.6 912.3,669.6 913.4,669.6 914.4,669.6 915.5,669.6 916.6,669.6 917.7,669.6 918.7,669.6 919.8,669.6 920.9,669.6 922,669.6 923,669.6 924.1,669.6 925.2,669.6 926.3,669.6 927.3,669.6 928.4,669.6 929.5,669.6 930.6,669.6 931.6,669.6 932.7,669.6 933.8,669.6 934.9,669.6 935.9,669.6 937,669.6 938.1,669.6 939.2,669.6 940.2,669.6 941.3,669.6 942.4,669.6 943.5,669.6 944.5,669.6 945.6,669.6 946.7,669.6 947.8,669.6 948.8,669.6 949.9,669.6 951,669.6 952.1,669.6 953.1,669.6 954.2,669.6 955.3,669.6 956.4,669.6 957.4,669.6 958.5,669.6" fill="none" stroke="#77AC30" stroke-width="3.5" stroke-linejoin="round" stroke-dasharray="1 2.5 1.5 4" opacity="0.55"/>
<polyline points="830.6,669.5 831.7,669.5 832.8,669.5 833.9,669.5 834.9,669.5 836,669.5 837.1,669.5 838.2,669.5 839.2,669.5 840.3,669.5 841.4,669.5 842.5,669.5 843.5,669.5 844.6,669.6 845.7,669.6 846.7,669.6 847.8,669.6 848.9,669.6 850,669.6 851,669.6 852.1,669.6 853.2,669.6 854.3,669.6 855.3,669.6 856.4,669.6 857.5,669.6 858.6,669.6 859.6,669.6 860.7,669.6 861.8,669.6 862.9,669.6 863.9,669.6 865,669.6 866.1,669.6 867.2,669.6 868.2,669.6 869.3,669.6 870.4,669.6 871.5,669.6 872.5,669.6 873.6,669.6 874.7,669.6 875.8,669.6 876.8,669.6 877.9,669.6 879,669.6 880.1,669.6 881.1,669.6 882.2,669.6 883.3,669.6 884.4,669.6 885.4,669.6 886.5,669.6 887.6,669.6 888.7,669.6 889.7,669.6 890.8,669.6 891.9,669.6 893,669.6 894,669.6 895.1,669.6 896.2,669.6 897.3,669.6 898.3,669.6 899.4,669.6 900.5,669.6 901.5,669.6 902.6,669.6 903.7,669.6 904.8,669.6 905.8,669.6 906.9,669.6 908,669.6 909.1,669.6 910.1,669.6 911.2,669.6 912.3,669.6 913.4,669.6 914.4,669.6 915.5,669.6 916.6,669.6 917.7,669.6 918.7,669.6 919.8,669.6 920.9,669.6 922,669.6 923,669.6 924.1,669.6 925.2,669.6 926.3,669.6 927.3,669.6 928.4,669.6 929.5,669.6 930.6,669.6 931.6,669.6 932.7,669.6 933.8,669.6 934.9,669.6 935.9,669.6 937,669.6 938.1,669.6 939.2,669.6 940.2,669.6 941.3,669.6 942.4,669.6 943.5,669.6 944.5,669.6 945.6,669.6 946.7,669.6 947.8,669.6 948.8,669.6 949.9,669.6 951,669.6 952.1,669.6 953.1,669.6 954.2,669.6 955.3,669.6 956.4,669.6 957.4,669.6 958.5,669.6" fill="none" stroke="#D95319" stroke-width="1.1" stroke-linejoin="round" stroke-dasharray="1.5 2.5 1 3.5" opacity="0.7"/>
<rect x="452.8" y="626.2" width="42.6" height="47.4" fill="none" stroke="#000" stroke-width="4.4"/>
<line x1="456.5" y1="491.5" x2="496.3" y2="625" stroke="#000" stroke-width="1.6"/>
<rect x="458" y="239" width="406" height="252" fill="#fff" stroke="none"/>
<rect x="458" y="239" width="406" height="252" fill="none" stroke="#262626" stroke-width="2.2"/>
<line x1="458" y1="268" x2="463" y2="268" stroke="#262626" stroke-width="2"/>
<line x1="864" y1="268" x2="859" y2="268" stroke="#262626" stroke-width="2"/>
<text x="446.5" y="276.2" font-size="24" text-anchor="end" font-family="'Liberation Serif', 'Times New Roman', serif" fill="#262626">4.712</text>
<line x1="458" y1="311" x2="463" y2="311" stroke="#262626" stroke-width="2"/>
<line x1="864" y1="311" x2="859" y2="311" stroke="#262626" stroke-width="2"/>
<text x="446.5" y="319.2" font-size="24" text-anchor="end" font-family="'Liberation Serif', 'Times New Roman', serif" fill="#262626">4.7120</text>
<line x1="458" y1="354" x2="463" y2="354" stroke="#262626" stroke-width="2"/>
<line x1="864" y1="354" x2="859" y2="354" stroke="#262626" stroke-width="2"/>
<text x="446.5" y="362.2" font-size="24" text-anchor="end" font-family="'Liberation Serif', 'Times New Roman', serif" fill="#262626">4.7119</text>
<line x1="458" y1="397.5" x2="463" y2="397.5" stroke="#262626" stroke-width="2"/>
<line x1="864" y1="397.5" x2="859" y2="397.5" stroke="#262626" stroke-width="2"/>
<text x="446.5" y="405.7" font-size="24" text-anchor="end" font-family="'Liberation Serif', 'Times New Roman', serif" fill="#262626">4.7118</text>
<line x1="458" y1="441" x2="463" y2="441" stroke="#262626" stroke-width="2"/>
<line x1="864" y1="441" x2="859" y2="441" stroke="#262626" stroke-width="2"/>
<text x="446.5" y="449.2" font-size="24" text-anchor="end" font-family="'Liberation Serif', 'Times New Roman', serif" fill="#262626">4.7118</text>
<line x1="458" y1="485" x2="463" y2="485" stroke="#262626" stroke-width="2"/>
<line x1="864" y1="485" x2="859" y2="485" stroke="#262626" stroke-width="2"/>
<text x="446.5" y="493.2" font-size="24" text-anchor="end" font-family="'Liberation Serif', 'Times New Roman', serif" fill="#262626">4.7117</text>
<line x1="501.5" y1="491" x2="501.5" y2="486" stroke="#262626" stroke-width="2"/>
<line x1="501.5" y1="239" x2="501.5" y2="244" stroke="#262626" stroke-width="2"/>
<text x="501.5" y="525" font-size="23.8" text-anchor="middle" font-family="'Liberation Serif', 'Times New Roman', serif" fill="#262626">0.0860</text>
<line x1="603.5" y1="491" x2="603.5" y2="486" stroke="#262626" stroke-width="2"/>
<line x1="603.5" y1="239" x2="603.5" y2="244" stroke="#262626" stroke-width="2"/>
<text x="603.5" y="525" font-size="23.8" text-anchor="middle" font-family="'Liberation Serif', 'Times New Roman', serif" fill="#262626">0.0860</text>
<line x1="704.5" y1="491" x2="704.5" y2="486" stroke="#262626" stroke-width="2"/>
<line x1="704.5" y1="239" x2="704.5" y2="244" stroke="#262626" stroke-width="2"/>
<text x="704.5" y="525" font-size="23.8" text-anchor="middle" font-family="'Liberation Serif', 'Times New Roman', serif" fill="#262626">0.086</text>
<line x1="806" y1="491" x2="806" y2="486" stroke="#262626" stroke-width="2"/>
<line x1="806" y1="239" x2="806" y2="244" stroke="#262626" stroke-width="2"/>
<text x="806" y="525" font-size="23.8" text-anchor="middle" font-family="'Liberation Serif', 'Times New Roman', serif" fill="#262626">0.0860</text>
<line x1="476.1" y1="491" x2="476.1" y2="488.5" stroke="#262626" stroke-width="1.5"/>
<line x1="476.1" y1="239" x2="476.1" y2="241.5" stroke="#262626" stroke-width="1.5"/>
<line x1="526.9" y1="491" x2="526.9" y2="488.5" stroke="#262626" stroke-width="1.5"/>
<line x1="526.9" y1="239" x2="526.9" y2="241.5" stroke="#262626" stroke-width="1.5"/>
<line x1="552.2" y1="491" x2="552.2" y2="488.5" stroke="#262626" stroke-width="1.5"/>
<line x1="552.2" y1="239" x2="552.2" y2="241.5" stroke="#262626" stroke-width="1.5"/>
<line x1="577.6" y1="491" x2="577.6" y2="488.5" stroke="#262626" stroke-width="1.5"/>
<line x1="577.6" y1="239" x2="577.6" y2="241.5" stroke="#262626" stroke-width="1.5"/>
<line x1="628.4" y1="491" x2="628.4" y2="488.5" stroke="#262626" stroke-width="1.5"/>
<line x1="628.4" y1="239" x2="628.4" y2="241.5" stroke="#262626" stroke-width="1.5"/>
<line x1="653.8" y1="491" x2="653.8" y2="488.5" stroke="#262626" stroke-width="1.5"/>
<line x1="653.8" y1="239" x2="653.8" y2="241.5" stroke="#262626" stroke-width="1.5"/>
<line x1="679.1" y1="491" x2="679.1" y2="488.5" stroke="#262626" stroke-width="1.5"/>
<line x1="679.1" y1="239" x2="679.1" y2="241.5" stroke="#262626" stroke-width="1.5"/>
<line x1="729.9" y1="491" x2="729.9" y2="488.5" stroke="#262626" stroke-width="1.5"/>
<line x1="729.9" y1="239" x2="729.9" y2="241.5" stroke="#262626" stroke-width="1.5"/>
<line x1="755.2" y1="491" x2="755.2" y2="488.5" stroke="#262626" stroke-width="1.5"/>
<line x1="755.2" y1="239" x2="755.2" y2="241.5" stroke="#262626" stroke-width="1.5"/>
<line x1="780.6" y1="491" x2="780.6" y2="488.5" stroke="#262626" stroke-width="1.5"/>
<line x1="780.6" y1="239" x2="780.6" y2="241.5" stroke="#262626" stroke-width="1.5"/>
<line x1="831.4" y1="491" x2="831.4" y2="488.5" stroke="#262626" stroke-width="1.5"/>
<line x1="831.4" y1="239" x2="831.4" y2="241.5" stroke="#262626" stroke-width="1.5"/>
<line x1="856.8" y1="491" x2="856.8" y2="488.5" stroke="#262626" stroke-width="1.5"/>
<line x1="856.8" y1="239" x2="856.8" y2="241.5" stroke="#262626" stroke-width="1.5"/>
<line x1="458" y1="326.5" x2="864" y2="336" stroke="#7E2F8E" stroke-width="2.0" stroke-dasharray="14.4 5.8 3.4 5.5"/>
<line x1="458" y1="337.5" x2="864" y2="346" stroke="#0072BD" stroke-width="2.0" stroke-dasharray="17.8 11.3"/>
<line x1="458" y1="358" x2="864" y2="367" stroke="#D95319" stroke-width="2.0"/>
<line x1="458" y1="379" x2="864" y2="388" stroke="#E8871E" stroke-width="2.0" stroke-dasharray="17.8 11.3"/>
<line x1="458" y1="389.5" x2="864" y2="398" stroke="#77AC30" stroke-width="2.0"/>
<polygon points="704.5,377.8 702.4,381.4 698.3,381.4 700.3,385 698.3,388.6 702.4,388.6 704.5,392.2 706.6,388.6 710.7,388.6 708.7,385 710.7,381.4 706.6,381.4" fill="none" stroke="#E07B1C" stroke-width="1.9"/>
<polygon points="704.5,385.2 710.8,394.3 704.5,403.4 698.2,394.3" fill="none" stroke="#77AC30" stroke-width="2.2"/>
<rect x="758.2" y="32.2" width="177.1" height="150.5" fill="#fff" stroke="#262626" stroke-width="1.8"/>
<line x1="773" y1="50.4" x2="846.5" y2="50.4" stroke="#D95319" stroke-width="1.8"/>
<line x1="773" y1="78.8" x2="846.5" y2="78.8" stroke="#0072BD" stroke-width="1.8" stroke-dasharray="18 11"/>
<line x1="773" y1="107.3" x2="846.5" y2="107.3" stroke="#EDB120" stroke-width="1.8" stroke-dasharray="18 11"/>
<polygon points="809.8,103.7 808.7,105.4 806.7,105.5 807.6,107.3 806.7,109.1 808.7,109.2 809.8,110.9 810.9,109.2 812.9,109.1 812,107.3 812.9,105.5 810.9,105.4" fill="#EDB120" stroke="#EDB120" stroke-width="1"/>
<line x1="773" y1="135.7" x2="846.5" y2="135.7" stroke="#7E2F8E" stroke-width="1.8" stroke-dasharray="18 4 3 4"/>
<line x1="773" y1="164.5" x2="846.5" y2="164.5" stroke="#77AC30" stroke-width="1.8"/>
<polygon points="809.8,160.7 812,164.5 809.8,168.3 807.6,164.5" fill="#fff" stroke="#77AC30" stroke-width="1.6"/>
<text x="853.3" y="58" font-size="22.9" text-anchor="start" font-family="'Liberation Serif', 'Times New Roman', serif" fill="#262626">V=0v</text>
<text x="853.3" y="86.4" font-size="22.9" text-anchor="start" font-family="'Liberation Serif', 'Times New Roman', serif" fill="#262626">V=10v</text>
<text x="853.3" y="114.9" font-size="22.9" text-anchor="start" font-family="'Liberation Serif', 'Times New Roman', serif" fill="#262626">V=-10v</text>
<text x="853.3" y="143.3" font-size="22.9" text-anchor="start" font-family="'Liberation Serif', 'Times New Roman', serif" fill="#262626">V=15v</text>
<text x="853.3" y="172.1" font-size="22.9" text-anchor="start" font-family="'Liberation Serif', 'Times New Roman', serif" fill="#262626">V=-15v</text>
</g>
<g id="panel-b">
<rect x="100.5" y="843.5" width="881.5" height="672.5" fill="none" stroke="#262626" stroke-width="2.2"/>
<line x1="178.9" y1="1516" x2="178.9" y2="1511.5" stroke="#262626" stroke-width="2"/>
<line x1="178.9" y1="843.5" x2="178.9" y2="848" stroke="#262626" stroke-width="2"/>
<line x1="226.6" y1="1516" x2="226.6" y2="1511.5" stroke="#262626" stroke-width="2"/>
<line x1="226.6" y1="843.5" x2="226.6" y2="848" stroke="#262626" stroke-width="2"/>
<line x1="260.4" y1="1516" x2="260.4" y2="1511.5" stroke="#262626" stroke-width="2"/>
<line x1="260.4" y1="843.5" x2="260.4" y2="848" stroke="#262626" stroke-width="2"/>
<line x1="286.6" y1="1516" x2="286.6" y2="1511.5" stroke="#262626" stroke-width="2"/>
<line x1="286.6" y1="843.5" x2="286.6" y2="848" stroke="#262626" stroke-width="2"/>
<line x1="308" y1="1516" x2="308" y2="1511.5" stroke="#262626" stroke-width="2"/>
<line x1="308" y1="843.5" x2="308" y2="848" stroke="#262626" stroke-width="2"/>
<line x1="326.1" y1="1516" x2="326.1" y2="1511.5" stroke="#262626" stroke-width="2"/>
<line x1="326.1" y1="843.5" x2="326.1" y2="848" stroke="#262626" stroke-width="2"/>
<line x1="341.8" y1="1516" x2="341.8" y2="1511.5" stroke="#262626" stroke-width="2"/>
<line x1="341.8" y1="843.5" x2="341.8" y2="848" stroke="#262626" stroke-width="2"/>
<line x1="355.6" y1="1516" x2="355.6" y2="1511.5" stroke="#262626" stroke-width="2"/>
<line x1="355.6" y1="843.5" x2="355.6" y2="848" stroke="#262626" stroke-width="2"/>
<line x1="368" y1="1516" x2="368" y2="1507" stroke="#262626" stroke-width="2"/>
<line x1="368" y1="843.5" x2="368" y2="852.5" stroke="#262626" stroke-width="2"/>
<line x1="449.4" y1="1516" x2="449.4" y2="1511.5" stroke="#262626" stroke-width="2"/>
<line x1="449.4" y1="843.5" x2="449.4" y2="848" stroke="#262626" stroke-width="2"/>
<line x1="497.1" y1="1516" x2="497.1" y2="1511.5" stroke="#262626" stroke-width="2"/>
<line x1="497.1" y1="843.5" x2="497.1" y2="848" stroke="#262626" stroke-width="2"/>
<line x1="530.9" y1="1516" x2="530.9" y2="1511.5" stroke="#262626" stroke-width="2"/>
<line x1="530.9" y1="843.5" x2="530.9" y2="848" stroke="#262626" stroke-width="2"/>
<line x1="557.1" y1="1516" x2="557.1" y2="1511.5" stroke="#262626" stroke-width="2"/>
<line x1="557.1" y1="843.5" x2="557.1" y2="848" stroke="#262626" stroke-width="2"/>
<line x1="578.5" y1="1516" x2="578.5" y2="1511.5" stroke="#262626" stroke-width="2"/>
<line x1="578.5" y1="843.5" x2="578.5" y2="848" stroke="#262626" stroke-width="2"/>
<line x1="596.6" y1="1516" x2="596.6" y2="1511.5" stroke="#262626" stroke-width="2"/>
<line x1="596.6" y1="843.5" x2="596.6" y2="848" stroke="#262626" stroke-width="2"/>
<line x1="612.3" y1="1516" x2="612.3" y2="1511.5" stroke="#262626" stroke-width="2"/>
<line x1="612.3" y1="843.5" x2="612.3" y2="848" stroke="#262626" stroke-width="2"/>
<line x1="626.1" y1="1516" x2="626.1" y2="1511.5" stroke="#262626" stroke-width="2"/>
<line x1="626.1" y1="843.5" x2="626.1" y2="848" stroke="#262626" stroke-width="2"/>
<line x1="638.5" y1="1516" x2="638.5" y2="1507" stroke="#262626" stroke-width="2"/>
<line x1="638.5" y1="843.5" x2="638.5" y2="852.5" stroke="#262626" stroke-width="2"/>
<line x1="719.9" y1="1516" x2="719.9" y2="1511.5" stroke="#262626" stroke-width="2"/>
<line x1="719.9" y1="843.5" x2="719.9" y2="848" stroke="#262626" stroke-width="2"/>
<line x1="767.6" y1="1516" x2="767.6" y2="1511.5" stroke="#262626" stroke-width="2"/>
<line x1="767.6" y1="843.5" x2="767.6" y2="848" stroke="#262626" stroke-width="2"/>
<line x1="801.4" y1="1516" x2="801.4" y2="1511.5" stroke="#262626" stroke-width="2"/>
<line x1="801.4" y1="843.5" x2="801.4" y2="848" stroke="#262626" stroke-width="2"/>
<line x1="827.6" y1="1516" x2="827.6" y2="1511.5" stroke="#262626" stroke-width="2"/>
<line x1="827.6" y1="843.5" x2="827.6" y2="848" stroke="#262626" stroke-width="2"/>
<line x1="849" y1="1516" x2="849" y2="1511.5" stroke="#262626" stroke-width="2"/>
<line x1="849" y1="843.5" x2="849" y2="848" stroke="#262626" stroke-width="2"/>
<line x1="867.1" y1="1516" x2="867.1" y2="1511.5" stroke="#262626" stroke-width="2"/>
<line x1="867.1" y1="843.5" x2="867.1" y2="848" stroke="#262626" stroke-width="2"/>
<line x1="882.8" y1="1516" x2="882.8" y2="1511.5" stroke="#262626" stroke-width="2"/>
<line x1="882.8" y1="843.5" x2="882.8" y2="848" stroke="#262626" stroke-width="2"/>
<line x1="896.6" y1="1516" x2="896.6" y2="1511.5" stroke="#262626" stroke-width="2"/>
<line x1="896.6" y1="843.5" x2="896.6" y2="848" stroke="#262626" stroke-width="2"/>
<line x1="909" y1="1516" x2="909" y2="1507" stroke="#262626" stroke-width="2"/>
<line x1="909" y1="843.5" x2="909" y2="852.5" stroke="#262626" stroke-width="2"/>
<line x1="100.5" y1="1444.5" x2="109.5" y2="1444.5" stroke="#262626" stroke-width="2"/>
<line x1="982" y1="1444.5" x2="973" y2="1444.5" stroke="#262626" stroke-width="2"/>
<text x="88" y="1454.1" font-size="29.3" text-anchor="end" font-family="'Liberation Serif', 'Times New Roman', serif" fill="#262626">2</text>
<line x1="100.5" y1="1332.3" x2="109.5" y2="1332.3" stroke="#262626" stroke-width="2"/>
<line x1="982" y1="1332.3" x2="973" y2="1332.3" stroke="#262626" stroke-width="2"/>
<text x="88" y="1341.9" font-size="29.3" text-anchor="end" font-family="'Liberation Serif', 'Times New Roman', serif" fill="#262626">2.5</text>
<line x1="100.5" y1="1220.1" x2="109.5" y2="1220.1" stroke="#262626" stroke-width="2"/>
<line x1="982" y1="1220.1" x2="973" y2="1220.1" stroke="#262626" stroke-width="2"/>
<text x="88" y="1229.7" font-size="29.3" text-anchor="end" font-family="'Liberation Serif', 'Times New Roman', serif" fill="#262626">3</text>
<line x1="100.5" y1="1107.9" x2="109.5" y2="1107.9" stroke="#262626" stroke-width="2"/>
<line x1="982" y1="1107.9" x2="973" y2="1107.9" stroke="#262626" stroke-width="2"/>
<text x="88" y="1117.5" font-size="29.3" text-anchor="end" font-family="'Liberation Serif', 'Times New Roman', serif" fill="#262626">3.5</text>
<line x1="100.5" y1="995.7" x2="109.5" y2="995.7" stroke="#262626" stroke-width="2"/>
<line x1="982" y1="995.7" x2="973" y2="995.7" stroke="#262626" stroke-width="2"/>
<text x="88" y="1005.3" font-size="29.3" text-anchor="end" font-family="'Liberation Serif', 'Times New Roman', serif" fill="#262626">4</text>
<line x1="100.5" y1="883.5" x2="109.5" y2="883.5" stroke="#262626" stroke-width="2"/>
<line x1="982" y1="883.5" x2="973" y2="883.5" stroke="#262626" stroke-width="2"/>
<text x="88" y="893.1" font-size="29.3" text-anchor="end" font-family="'Liberation Serif', 'Times New Roman', serif" fill="#262626">4.5</text>
<text x="369" y="1560.5" font-size="29" text-anchor="middle" font-family="'Liberation Serif', 'Times New Roman', serif" fill="#262626">10<tspan dy="-13.8" font-size="21.2">0</tspan></text>
<text x="639.5" y="1560.5" font-size="29" text-anchor="middle" font-family="'Liberation Serif', 'Times New Roman', serif" fill="#262626">10<tspan dy="-13.8" font-size="21.2">1</tspan></text>
<text x="910" y="1560.5" font-size="29" text-anchor="middle" font-family="'Liberation Serif', 'Times New Roman', serif" fill="#262626">10<tspan dy="-13.8" font-size="21.2">2</tspan></text>
<text x="390.1" y="1581" font-size="26.5" textLength="260.7" lengthAdjust="spacingAndGlyphs" font-family="'Liberation Serif', 'Times New Roman', serif" fill="#262626">Wave number K(1/nm)</text>
<text transform="translate(34.3,1322.6) rotate(-90)" font-size="27.8" textLength="269.5" lengthAdjust="spacingAndGlyphs" font-family="'Liberation Serif', 'Times New Roman', serif" fill="#262626">Phase Velocity C<tspan dy="13.6" font-size="19.8">p</tspan><tspan dy="-13.6">(Km/s)</tspan></text>
<text class="cap" x="433.8" y="1627" font-size="32.5" font-family="'Liberation Serif', 'Times New Roman', serif" fill="#262626">(b)<tspan font-size="25.3" x="479.4">longitudinal wave</tspan></text>
<polyline points="102.4,843.3 103.3,843.6 104.2,843.8 105.1,844.1 106,844.3 106.9,844.5 107.8,844.8 108.7,845 109.6,845.2 110.4,845.5 111.3,845.7 112.2,845.9 113.1,846.1 114,846.4 114.9,846.6 115.8,846.8 116.7,847 117.5,847.2 118.4,847.4 119.3,847.7 120.2,847.9 121.1,848.1 122,848.3 122.9,848.5 123.8,848.7 124.6,848.9 125.5,849.1 126.4,849.3 127.3,849.5 128.2,849.8 129.1,850 130,850.2 130.9,850.4 131.8,850.6 132.6,850.8 133.5,851 134.4,851.2 135.3,851.4 136.2,851.6 137.1,851.8 138,852 138.9,852.2 139.7,852.4 140.6,852.6 141.5,852.8 142.4,853 143.3,853.2 144.2,853.4 145.1,853.6 146,853.8 146.9,854 147.7,854.2 148.6,854.4 149.5,854.6 150.4,854.8 151.3,855 152.2,855.2 153.1,855.4 154,855.6 154.8,855.8 155.7,856 156.6,856.2 157.5,856.4 158.4,856.7 159.3,856.9 160.2,857.1 161.1,857.3 162,857.5 162.8,857.7 163.7,857.9 164.6,858.2 165.5,858.4 166.4,858.6 167.3,858.8 168.2,859 169.1,859.3 169.9,859.5 170.8,859.7 171.7,859.9 172.6,860.2 173.5,860.4 174.4,860.6 175.3,860.9 176.2,861.1 177,861.4 177.9,861.6 178.8,861.8 179.7,862.1 180.6,862.3 181.5,862.6 182.4,862.8 183.3,863.1 184.2,863.4 185,863.6 185.9,863.9 186.8,864.2 187.7,864.4 188.6,864.7 189.5,865 190.4,865.2 191.3,865.5 192.1,865.8 193,866.1 193.9,866.4 194.8,866.7 195.7,867 196.6,867.3 197.5,867.6 198.4,867.9 199.3,868.2 200.1,868.5 201,868.8 201.9,869.1 202.8,869.5 203.7,869.8 204.6,870.1 205.5,870.5 206.4,870.8 207.2,871.1 208.1,871.5 209,871.8 209.9,872.2 210.8,872.6 211.7,872.9 212.6,873.3 213.5,873.7 214.4,874.1 215.2,874.4 216.1,874.8 217,875.2 217.9,875.6 218.8,876 219.7,876.4 220.6,876.8 221.5,877.3 222.3,877.7 223.2,878.1 224.1,878.5 225,879 225.9,879.4 226.8,879.9 227.7,880.3 228.6,880.8 229.5,881.3 230.3,881.8 231.2,882.2 232.1,882.7 233,883.2 233.9,883.7 234.8,884.2 235.7,884.7 236.6,885.3 237.4,885.8 238.3,886.3 239.2,886.9 240.1,887.4 241,888 241.9,888.5 242.8,889.1 243.7,889.7 244.5,890.2 245.4,890.8 246.3,891.4 247.2,892 248.1,892.7 249,893.3 249.9,893.9 250.8,894.5 251.7,895.2 252.5,895.8 253.4,896.5 254.3,897.2 255.2,897.8 256.1,898.5 257,899.2 257.9,899.9 258.8,900.6 259.6,901.4 260.5,902.1 261.4,902.8 262.3,903.6 263.2,904.3 264.1,905.1 265,905.9 265.9,906.7 266.8,907.5 267.6,908.3 268.5,909.1 269.4,909.9 270.3,910.7 271.2,911.6 272.1,912.4 273,913.3 273.9,914.2 274.7,915 275.6,915.9 276.5,916.8 277.4,917.7 278.3,918.7 279.2,919.6 280.1,920.5 281,921.5 281.9,922.5 282.7,923.4 283.6,924.4 284.5,925.4 285.4,926.4 286.3,927.4 287.2,928.5 288.1,929.5 289,930.6 289.8,931.6 290.7,932.7 291.6,933.8 292.5,934.9 293.4,936 294.3,937.1 295.2,938.2 296.1,939.4 296.9,940.5 297.8,941.7 298.7,942.8 299.6,944 300.5,945.2 301.4,946.4 302.3,947.7 303.2,948.9 304.1,950.1 304.9,951.4 305.8,952.6 306.7,953.9 307.6,955.2 308.5,956.5 309.4,957.8 310.3,959.1 311.2,960.5 312,961.8 312.9,963.2 313.8,964.5 314.7,965.9 315.6,967.3 316.5,968.7 317.4,970.1 318.3,971.5 319.2,972.9 320,974.4 320.9,975.8 321.8,977.3 322.7,978.8 323.6,980.3 324.5,981.7 325.4,983.3 326.3,984.8 327.1,986.3 328,987.8 328.9,989.4 329.8,990.9 330.7,992.5 331.6,994.1 332.5,995.7 333.4,997.2 334.3,998.8 335.1,1000.5 336,1002.1 336.9,1003.7 337.8,1005.4 338.7,1007 339.6,1008.7 340.5,1010.3 341.4,1012 342.2,1013.7 343.1,1015.4 344,1017.1 344.9,1018.8 345.8,1020.5 346.7,1022.2 347.6,1023.9 348.5,1025.6 349.3,1027.4 350.2,1029.1 351.1,1030.9 352,1032.6 352.9,1034.4 353.8,1036.2 354.7,1037.9 355.6,1039.7 356.5,1041.5 357.3,1043.3 358.2,1045.1 359.1,1046.9 360,1048.7 360.9,1050.5 361.8,1052.3 362.7,1054.1 363.6,1056 364.4,1057.8 365.3,1059.6 366.2,1061.4 367.1,1063.3 368,1065.1 449.4,1231.5 497.1,1296.5 530.9,1325.1 557.1,1340.9 578.5,1348.5 596.6,1355.4 612.3,1358.9 626.1,1360.5 638.5,1361.7 649.7,1362.8 659.9,1363.7 669.3,1364.5 678,1365.1 686.1,1365.5 693.7,1365.9 700.8,1366.3 707.6,1366.6 713.9,1366.9 719.9,1367.1 721.8,1367.2 723.7,1367.2 725.7,1367.3 727.6,1367.4 729.5,1367.4 731.4,1367.5 733.3,1367.5 735.2,1367.6 737.1,1367.7 739,1367.7 740.9,1367.8 742.8,1367.8 744.8,1367.9 746.7,1368 748.6,1368 750.5,1368.1 752.4,1368.1 754.3,1368.2 756.2,1368.2 758.1,1368.2 760,1368.3 761.9,1368.3 763.9,1368.4 765.8,1368.4 767.7,1368.4 769.6,1368.5 771.5,1368.5 773.4,1368.5 775.3,1368.5 777.2,1368.6 779.1,1368.6 781,1368.6 783,1368.7 784.9,1368.7 786.8,1368.7 788.7,1368.7 790.6,1368.8 792.5,1368.8 794.4,1368.8 796.3,1368.8 798.2,1368.8 800.1,1368.9 802.1,1368.9 804,1368.9 805.9,1368.9 807.8,1368.9 809.7,1369 811.6,1369 813.5,1369 815.4,1369 817.3,1369 819.2,1369 821.1,1369.1 823.1,1369.1 825,1369.1 826.9,1369.1 828.8,1369.1 830.7,1369.1 832.6,1369.1 834.5,1369.2 836.4,1369.2 838.3,1369.2 840.2,1369.2 842.2,1369.2 844.1,1369.2 846,1369.2 847.9,1369.3 849.8,1369.3 851.7,1369.3 853.6,1369.3 855.5,1369.3 857.4,1369.3 859.3,1369.3 861.3,1369.4 863.2,1369.4 865.1,1369.4 867,1369.4 868.9,1369.4 870.8,1369.4 872.7,1369.4 874.6,1369.4 876.5,1369.5 878.4,1369.5 880.4,1369.5 882.3,1369.5 884.2,1369.5 886.1,1369.5 888,1369.5 889.9,1369.5 891.8,1369.5 893.7,1369.5 895.6,1369.5 897.5,1369.5 899.5,1369.5 901.4,1369.5 903.3,1369.5 905.2,1369.5 907.1,1369.5 909,1369.6" fill="none" stroke="#D95319" stroke-width="1.6" stroke-linejoin="round"/>
<polyline points="102.4,843.3 103.3,843.6 104.2,843.8 105.1,844.1 106,844.3 106.9,844.5 107.8,844.8 108.7,845 109.6,845.2 110.4,845.5 111.3,845.7 112.2,845.9 113.1,846.1 114,846.4 114.9,846.6 115.8,846.8 116.7,847 117.5,847.2 118.4,847.4 119.3,847.7 120.2,847.9 121.1,848.1 122,848.3 122.9,848.5 123.8,848.7 124.6,848.9 125.5,849.1 126.4,849.3 127.3,849.5 128.2,849.8 129.1,850 130,850.2 130.9,850.4 131.8,850.6 132.6,850.8 133.5,851 134.4,851.2 135.3,851.4 136.2,851.6 137.1,851.8 138,852 138.9,852.2 139.7,852.4 140.6,852.6 141.5,852.8 142.4,853 143.3,853.2 144.2,853.4 145.1,853.6 146,853.8 146.9,854 147.7,854.2 148.6,854.4 149.5,854.6 150.4,854.8 151.3,855 152.2,855.2 153.1,855.4 154,855.6 154.8,855.8 155.7,856 156.6,856.2 157.5,856.4 158.4,856.7 159.3,856.9 160.2,857.1 161.1,857.3 162,857.5 162.8,857.7 163.7,857.9 164.6,858.2 165.5,858.4 166.4,858.6 167.3,858.8 168.2,859 169.1,859.3 169.9,859.5 170.8,859.7 171.7,859.9 172.6,860.2 173.5,860.4 174.4,860.6 175.3,860.9 176.2,861.1 177,861.4 177.9,861.6 178.8,861.8 179.7,862.1 180.6,862.3 181.5,862.6 182.4,862.8 183.3,863.1 184.2,863.4 185,863.6 185.9,863.9 186.8,864.2 187.7,864.4 188.6,864.7 189.5,865 190.4,865.2 191.3,865.5 192.1,865.8 193,866.1 193.9,866.4 194.8,866.7 195.7,867 196.6,867.3 197.5,867.6 198.4,867.9 199.3,868.2 200.1,868.5 201,868.8 201.9,869.1 202.8,869.5 203.7,869.8 204.6,870.1 205.5,870.5 206.4,870.8 207.2,871.1 208.1,871.5 209,871.8 209.9,872.2 210.8,872.6 211.7,872.9 212.6,873.3 213.5,873.7 214.4,874.1 215.2,874.4 216.1,874.8 217,875.2 217.9,875.6 218.8,876 219.7,876.4 220.6,876.8 221.5,877.3 222.3,877.7 223.2,878.1 224.1,878.5 225,879 225.9,879.4 226.8,879.9 227.7,880.3 228.6,880.8 229.5,881.3 230.3,881.8 231.2,882.2 232.1,882.7 233,883.2 233.9,883.7 234.8,884.2 235.7,884.7 236.6,885.3 237.4,885.8 238.3,886.3 239.2,886.9 240.1,887.4 241,888 241.9,888.5 242.8,889.1 243.7,889.7 244.5,890.2 245.4,890.8 246.3,891.4 247.2,892 248.1,892.7 249,893.3 249.9,893.9 250.8,894.5 251.7,895.2 252.5,895.8 253.4,896.5 254.3,897.2 255.2,897.8 256.1,898.5 257,899.2 257.9,899.9 258.8,900.6 259.6,901.4 260.5,902.1 261.4,902.8 262.3,903.6 263.2,904.3 264.1,905.1 265,905.9 265.9,906.7 266.8,907.5 267.6,908.3 268.5,909.1 269.4,909.9 270.3,910.7 271.2,911.6 272.1,912.4 273,913.3 273.9,914.2 274.7,915 275.6,915.9 276.5,916.8 277.4,917.7 278.3,918.7 279.2,919.6 280.1,920.5 281,921.5 281.9,922.5 282.7,923.4 283.6,924.4 284.5,925.4 285.4,926.4 286.3,927.4 287.2,928.5 288.1,929.5 289,930.6 289.8,931.6 290.7,932.7 291.6,933.8 292.5,934.9 293.4,936 294.3,937.1 295.2,938.2 296.1,939.4 296.9,940.5 297.8,941.7 298.7,942.8 299.6,944 300.5,945.2 301.4,946.4 302.3,947.7 303.2,948.9 304.1,950.1 304.9,951.4 305.8,952.6 306.7,953.9 307.6,955.2 308.5,956.5 309.4,957.8 310.3,959.1 311.2,960.5 312,961.8 312.9,963.2 313.8,964.5 314.7,965.9 315.6,967.3 316.5,968.7 317.4,970.1 318.3,971.5 319.2,972.9 320,974.4 320.9,975.8 321.8,977.3 322.7,978.8 323.6,980.3 324.5,981.7 325.4,983.3 326.3,984.8 327.1,986.3 328,987.8 328.9,989.4 329.8,990.9 330.7,992.5 331.6,994.1 332.5,995.7 333.4,997.2 334.3,998.8 335.1,1000.5 336,1002.1 336.9,1003.7 337.8,1005.4 338.7,1007 339.6,1008.7 340.5,1010.3 341.4,1012 342.2,1013.7 343.1,1015.4 344,1017.1 344.9,1018.8 345.8,1020.5 346.7,1022.2 347.6,1023.9 348.5,1025.6 349.3,1027.4 350.2,1029.1 351.1,1030.9 352,1032.6 352.9,1034.4 353.8,1036.2 354.7,1037.9 355.6,1039.7 356.5,1041.5 357.3,1043.3 358.2,1045.1 359.1,1046.9 360,1048.7 360.9,1050.5 361.8,1052.3 362.7,1054.1 363.6,1056 364.4,1057.8 365.3,1059.6 366.2,1061.4 367.1,1063.3 368,1065.1 449.4,1231.5 497.1,1296.5 530.9,1325.1 557.1,1340.9 578.5,1348.5 596.6,1355.4 612.3,1358.9 626.1,1360.5 638.5,1361.7 649.7,1362.8 659.9,1363.7 669.3,1364.5 678,1365.1 686.1,1365.5 693.7,1365.9 700.8,1366.3 707.6,1366.6 713.9,1366.9 719.9,1367.1 721.8,1367.2 723.7,1367.2 725.7,1367.3 727.6,1367.4 729.5,1367.4 731.4,1367.5 733.3,1367.5 735.2,1367.6 737.1,1367.7 739,1367.7 740.9,1367.8 742.8,1367.8 744.8,1367.9 746.7,1368 748.6,1368 750.5,1368.1 752.4,1368.1 754.3,1368.2 756.2,1368.2 758.1,1368.2 760,1368.3 761.9,1368.3 763.9,1368.4 765.8,1368.4 767.7,1368.4 769.6,1368.5 771.5,1368.5 773.4,1368.5 775.3,1368.5 777.2,1368.6 779.1,1368.6 781,1368.6 783,1368.7 784.9,1368.7 786.8,1368.7 788.7,1368.7 790.6,1368.8 792.5,1368.8 794.4,1368.8 796.3,1368.8 798.2,1368.8 800.1,1368.9 802.1,1368.9 804,1368.9 805.9,1368.9 807.8,1368.9 809.7,1369 811.6,1369 813.5,1369 815.4,1369 817.3,1369 819.2,1369 821.1,1369.1 823.1,1369.1 825,1369.1 826.9,1369.1 828.8,1369.1 830.7,1369.1 832.6,1369.1 834.5,1369.2 836.4,1369.2 838.3,1369.2 840.2,1369.2 842.2,1369.2 844.1,1369.2 846,1369.2 847.9,1369.3 849.8,1369.3 851.7,1369.3 853.6,1369.3 855.5,1369.3 857.4,1369.3 859.3,1369.3 861.3,1369.4 863.2,1369.4 865.1,1369.4 867,1369.4 868.9,1369.4 870.8,1369.4 872.7,1369.4 874.6,1369.4 876.5,1369.5 878.4,1369.5 880.4,1369.5 882.3,1369.5 884.2,1369.5 886.1,1369.5 888,1369.5 889.9,1369.5 891.8,1369.5 893.7,1369.5 895.6,1369.5 897.5,1369.5 899.5,1369.5 901.4,1369.5 903.3,1369.5 905.2,1369.5 907.1,1369.5 909,1369.6" fill="none" stroke="#0072BD" stroke-width="1.6" stroke-linejoin="round" stroke-dasharray="18 11.5"/>
<polyline points="102.4,843.3 103.3,843.6 104.2,843.8 105.1,844.1 106,844.3 106.9,844.5 107.8,844.8 108.7,845 109.6,845.2 110.4,845.5 111.3,845.7 112.2,845.9 113.1,846.1 114,846.4 114.9,846.6 115.8,846.8 116.7,847 117.5,847.2 118.4,847.4 119.3,847.7 120.2,847.9 121.1,848.1 122,848.3 122.9,848.5 123.8,848.7 124.6,848.9 125.5,849.1 126.4,849.3 127.3,849.5 128.2,849.8 129.1,850 130,850.2 130.9,850.4 131.8,850.6 132.6,850.8 133.5,851 134.4,851.2 135.3,851.4 136.2,851.6 137.1,851.8 138,852 138.9,852.2 139.7,852.4 140.6,852.6 141.5,852.8 142.4,853 143.3,853.2 144.2,853.4 145.1,853.6 146,853.8 146.9,854 147.7,854.2 148.6,854.4 149.5,854.6 150.4,854.8 151.3,855 152.2,855.2 153.1,855.4 154,855.6 154.8,855.8 155.7,856 156.6,856.2 157.5,856.4 158.4,856.7 159.3,856.9 160.2,857.1 161.1,857.3 162,857.5 162.8,857.7 163.7,857.9 164.6,858.2 165.5,858.4 166.4,858.6 167.3,858.8 168.2,859 169.1,859.3 169.9,859.5 170.8,859.7 171.7,859.9 172.6,860.2 173.5,860.4 174.4,860.6 175.3,860.9 176.2,861.1 177,861.4 177.9,861.6 178.8,861.8 179.7,862.1 180.6,862.3 181.5,862.6 182.4,862.8 183.3,863.1 184.2,863.4 185,863.6 185.9,863.9 186.8,864.2 187.7,864.4 188.6,864.7 189.5,865 190.4,865.2 191.3,865.5 192.1,865.8 193,866.1 193.9,866.4 194.8,866.7 195.7,867 196.6,867.3 197.5,867.6 198.4,867.9 199.3,868.2 200.1,868.5 201,868.8 201.9,869.1 202.8,869.5 203.7,869.8 204.6,870.1 205.5,870.5 206.4,870.8 207.2,871.1 208.1,871.5 209,871.8 209.9,872.2 210.8,872.6 211.7,872.9 212.6,873.3 213.5,873.7 214.4,874.1 215.2,874.4 216.1,874.8 217,875.2 217.9,875.6 218.8,876 219.7,876.4 220.6,876.8 221.5,877.3 222.3,877.7 223.2,878.1 224.1,878.5 225,879 225.9,879.4 226.8,879.9 227.7,880.3 228.6,880.8 229.5,881.3 230.3,881.8 231.2,882.2 232.1,882.7 233,883.2 233.9,883.7 234.8,884.2 235.7,884.7 236.6,885.3 237.4,885.8 238.3,886.3 239.2,886.9 240.1,887.4 241,888 241.9,888.5 242.8,889.1 243.7,889.7 244.5,890.2 245.4,890.8 246.3,891.4 247.2,892 248.1,892.7 249,893.3 249.9,893.9 250.8,894.5 251.7,895.2 252.5,895.8 253.4,896.5 254.3,897.2 255.2,897.8 256.1,898.5 257,899.2 257.9,899.9 258.8,900.6 259.6,901.4 260.5,902.1 261.4,902.8 262.3,903.6 263.2,904.3 264.1,905.1 265,905.9 265.9,906.7 266.8,907.5 267.6,908.3 268.5,909.1 269.4,909.9 270.3,910.7 271.2,911.6 272.1,912.4 273,913.3 273.9,914.2 274.7,915 275.6,915.9 276.5,916.8 277.4,917.7 278.3,918.7 279.2,919.6 280.1,920.5 281,921.5 281.9,922.5 282.7,923.4 283.6,924.4 284.5,925.4 285.4,926.4 286.3,927.4 287.2,928.5 288.1,929.5 289,930.6 289.8,931.6 290.7,932.7 291.6,933.8 292.5,934.9 293.4,936 294.3,937.1 295.2,938.2 296.1,939.4 296.9,940.5 297.8,941.7 298.7,942.8 299.6,944 300.5,945.2 301.4,946.4 302.3,947.7 303.2,948.9 304.1,950.1 304.9,951.4 305.8,952.6 306.7,953.9 307.6,955.2 308.5,956.5 309.4,957.8 310.3,959.1 311.2,960.5 312,961.8 312.9,963.2 313.8,964.5 314.7,965.9 315.6,967.3 316.5,968.7 317.4,970.1 318.3,971.5 319.2,972.9 320,974.4 320.9,975.8 321.8,977.3 322.7,978.8 323.6,980.3 324.5,981.7 325.4,983.3 326.3,984.8 327.1,986.3 328,987.8 328.9,989.4 329.8,990.9 330.7,992.5 331.6,994.1 332.5,995.7 333.4,997.2 334.3,998.8 335.1,1000.5 336,1002.1 336.9,1003.7 337.8,1005.4 338.7,1007 339.6,1008.7 340.5,1010.3 341.4,1012 342.2,1013.7 343.1,1015.4 344,1017.1 344.9,1018.8 345.8,1020.5 346.7,1022.2 347.6,1023.9 348.5,1025.6 349.3,1027.4 350.2,1029.1 351.1,1030.9 352,1032.6 352.9,1034.4 353.8,1036.2 354.7,1037.9 355.6,1039.7 356.5,1041.5 357.3,1043.3 358.2,1045.1 359.1,1046.9 360,1048.7 360.9,1050.5 361.8,1052.3 362.7,1054.1 363.6,1056 364.4,1057.8 365.3,1059.6 366.2,1061.4 367.1,1063.3 368,1065.1 449.4,1231.5 497.1,1296.5 530.9,1325.1 557.1,1340.9 578.5,1348.5 596.6,1355.4 612.3,1358.9 626.1,1360.5 638.5,1361.7 649.7,1362.8 659.9,1363.7 669.3,1364.5 678,1365.1 686.1,1365.5 693.7,1365.9 700.8,1366.3 707.6,1366.6 713.9,1366.9 719.9,1367.1 721.8,1367.2 723.7,1367.2 725.7,1367.3 727.6,1367.4 729.5,1367.4 731.4,1367.5 733.3,1367.5 735.2,1367.6 737.1,1367.7 739,1367.7 740.9,1367.8 742.8,1367.8 744.8,1367.9 746.7,1368 748.6,1368 750.5,1368.1 752.4,1368.1 754.3,1368.2 756.2,1368.2 758.1,1368.2 760,1368.3 761.9,1368.3 763.9,1368.4 765.8,1368.4 767.7,1368.4 769.6,1368.5 771.5,1368.5 773.4,1368.5 775.3,1368.5 777.2,1368.6 779.1,1368.6 781,1368.6 783,1368.7 784.9,1368.7 786.8,1368.7 788.7,1368.7 790.6,1368.8 792.5,1368.8 794.4,1368.8 796.3,1368.8 798.2,1368.8 800.1,1368.9 802.1,1368.9 804,1368.9 805.9,1368.9 807.8,1368.9 809.7,1369 811.6,1369 813.5,1369 815.4,1369 817.3,1369 819.2,1369 821.1,1369.1 823.1,1369.1 825,1369.1 826.9,1369.1 828.8,1369.1 830.7,1369.1 832.6,1369.1 834.5,1369.2 836.4,1369.2 838.3,1369.2 840.2,1369.2 842.2,1369.2 844.1,1369.2 846,1369.2 847.9,1369.3 849.8,1369.3 851.7,1369.3 853.6,1369.3 855.5,1369.3 857.4,1369.3 859.3,1369.3 861.3,1369.4 863.2,1369.4 865.1,1369.4 867,1369.4 868.9,1369.4 870.8,1369.4 872.7,1369.4 874.6,1369.4 876.5,1369.5 878.4,1369.5 880.4,1369.5 882.3,1369.5 884.2,1369.5 886.1,1369.5 888,1369.5 889.9,1369.5 891.8,1369.5 893.7,1369.5 895.6,1369.5 897.5,1369.5 899.5,1369.5 901.4,1369.5 903.3,1369.5 905.2,1369.5 907.1,1369.5 909,1369.6" fill="none" stroke="#EDB120" stroke-width="2.0" stroke-linejoin="round"/>
<polyline points="103.2,843.6 105.4,844.2 107.6,844.7 109.8,845.3 111.9,845.8 113.9,846.3 115.9,846.8 117.9,847.3 119.9,847.8 121.8,848.3 123.7,848.7 125.6,849.1 127.4,849.6 129.2,850 131,850.4 132.8,850.8 134.5,851.2 136.2,851.6 137.9,852 139.5,852.3 141.2,852.7 142.8,853.1 144.3,853.4 145.9,853.8 148.2,854.3 150.5,854.8 152.7,855.3 154.9,855.8 157,856.3 159.1,856.8 161.2,857.3 163.2,857.8 165.2,858.3 167.2,858.8 169.1,859.3 171,859.8 172.9,860.3 174.7,860.7 176.6,861.2 178.3,861.7 180.1,862.2 181.8,862.7 183.5,863.2 185.2,863.7 186.9,864.2 188.5,864.7 190.1,865.2 191.7,865.7 193.3,866.2 194.8,866.7 196.4,867.2 198.4,867.9 200.3,868.6 202.3,869.3 204.2,870 206.1,870.7 207.9,871.4 209.8,872.1 211.5,872.9 213.3,873.6 215.1,874.4 216.8,875.1 218.5,875.9 220.1,876.6 221.8,877.4 223.4,878.2 225,879 226.6,879.8 228.1,880.6 229.7,881.4 231.2,882.2 232.7,883 234.1,883.9 235.6,884.7 237,885.5 238.5,886.4 239.9,887.3 241.3,888.1 242.6,889 244,889.9 245.3,890.8 246.7,891.7 248.3,892.8 249.9,893.9 251.5,895.1 253.1,896.2 254.6,897.4 256.2,898.6 257.7,899.8 259.2,901 260.7,902.2 262.1,903.4 263.5,904.6 265,905.9 266.4,907.1 267.8,908.4 269.1,909.6 270.5,910.9 271.8,912.2 273.1,913.5 274.5,914.7 275.7,916 277,917.3 278.3,918.7 279.6,920 280.8,921.3 282,922.6 283.2,924 284.4,925.3 285.6,926.7 286.8,928 288,929.4 289.1,930.8 290.3,932.1 291.4,933.5 292.5,934.9 293.6,936.3 294.7,937.7 295.8,939.1 296.9,940.5 298,941.9 299,943.3 300.1,944.7 301.1,946.1 302.2,947.5 303.2,948.9 304.2,950.3 305.2,951.8 306.2,953.2 307.2,954.6 308.2,956 309.2,957.5 310.1,958.9 311.1,960.3 312,961.8 313,963.2 313.9,964.7 314.8,966.1 315.8,967.5 316.7,969 317.6,970.4 318.5,971.8 319.4,973.3 320.2,974.7 321.1,976.2 322,977.6 322.9,979 323.7,980.5 324.6,981.9 325.4,983.4 326.3,984.8 327.1,986.2 327.9,987.7 328.8,989.1 329.6,990.5 330.4,991.9 331.2,993.4 332,994.8 332.8,996.2 333.6,997.6 334.4,999 335.1,1000.5 335.9,1001.9 336.7,1003.3 337.4,1004.7 338.4,1006.4 339.3,1008.1 340.2,1009.7 341,1011.4 341.9,1013.1 342.8,1014.7 343.7,1016.4 344.5,1018.1 345.4,1019.7 346.3,1021.4 347.1,1023 347.9,1024.6 348.8,1026.2 349.6,1027.9 350.4,1029.5 351.2,1031.1 352,1032.7 352.8,1034.3 353.6,1035.9 354.4,1037.5 355.2,1039.1 356,1040.6 356.8,1042.2 357.6,1043.8 358.3,1045.3 359.1,1046.9 359.9,1048.4 360.6,1049.9 361.4,1051.4 362.1,1053 362.8,1054.5 363.6,1056 364.3,1057.5 365,1059 365.7,1060.5 366.5,1061.9 367.2,1063.4 367.9,1064.9 368,1065.1" fill="none" stroke="none" stroke-width="0" stroke-linejoin="round" marker-start="url(#bG)" marker-mid="url(#bG)" marker-end="url(#bG)"/>
<polyline points="103.2,843.6 105.4,844.2 107.6,844.7 109.8,845.3 111.9,845.8 113.9,846.3 115.9,846.8 117.9,847.3 119.9,847.8 121.8,848.3 123.7,848.7 125.6,849.1 127.4,849.6 129.2,850 131,850.4 132.8,850.8 134.5,851.2 136.2,851.6 137.9,852 139.5,852.3 141.2,852.7 142.8,853.1 144.3,853.4 145.9,853.8 148.2,854.3 150.5,854.8 152.7,855.3 154.9,855.8 157,856.3 159.1,856.8 161.2,857.3 163.2,857.8 165.2,858.3 167.2,858.8 169.1,859.3 171,859.8 172.9,860.3 174.7,860.7 176.6,861.2 178.3,861.7 180.1,862.2 181.8,862.7 183.5,863.2 185.2,863.7 186.9,864.2 188.5,864.7 190.1,865.2 191.7,865.7 193.3,866.2 194.8,866.7 196.4,867.2 198.4,867.9 200.3,868.6 202.3,869.3 204.2,870 206.1,870.7 207.9,871.4 209.8,872.1 211.5,872.9 213.3,873.6 215.1,874.4 216.8,875.1 218.5,875.9 220.1,876.6 221.8,877.4 223.4,878.2 225,879 226.6,879.8 228.1,880.6 229.7,881.4 231.2,882.2 232.7,883 234.1,883.9 235.6,884.7 237,885.5 238.5,886.4 239.9,887.3 241.3,888.1 242.6,889 244,889.9 245.3,890.8 246.7,891.7 248.3,892.8 249.9,893.9 251.5,895.1 253.1,896.2 254.6,897.4 256.2,898.6 257.7,899.8 259.2,901 260.7,902.2 262.1,903.4 263.5,904.6 265,905.9 266.4,907.1 267.8,908.4 269.1,909.6 270.5,910.9 271.8,912.2 273.1,913.5 274.5,914.7 275.7,916 277,917.3 278.3,918.7 279.6,920 280.8,921.3 282,922.6 283.2,924 284.4,925.3 285.6,926.7 286.8,928 288,929.4 289.1,930.8 290.3,932.1 291.4,933.5 292.5,934.9 293.6,936.3 294.7,937.7 295.8,939.1 296.9,940.5 298,941.9 299,943.3 300.1,944.7 301.1,946.1 302.2,947.5 303.2,948.9 304.2,950.3 305.2,951.8 306.2,953.2 307.2,954.6 308.2,956 309.2,957.5 310.1,958.9 311.1,960.3 312,961.8 313,963.2 313.9,964.7 314.8,966.1 315.8,967.5 316.7,969 317.6,970.4 318.5,971.8 319.4,973.3 320.2,974.7 321.1,976.2 322,977.6 322.9,979 323.7,980.5 324.6,981.9 325.4,983.4 326.3,984.8 327.1,986.2 327.9,987.7 328.8,989.1 329.6,990.5 330.4,991.9 331.2,993.4 332,994.8 332.8,996.2 333.6,997.6 334.4,999 335.1,1000.5 335.9,1001.9 336.7,1003.3 337.4,1004.7 338.4,1006.4 339.3,1008.1 340.2,1009.7 341,1011.4 341.9,1013.1 342.8,1014.7 343.7,1016.4 344.5,1018.1 345.4,1019.7 346.3,1021.4 347.1,1023 347.9,1024.6 348.8,1026.2 349.6,1027.9 350.4,1029.5 351.2,1031.1 352,1032.7 352.8,1034.3 353.6,1035.9 354.4,1037.5 355.2,1039.1 356,1040.6 356.8,1042.2 357.6,1043.8 358.3,1045.3 359.1,1046.9 359.9,1048.4 360.6,1049.9 361.4,1051.4 362.1,1053 362.8,1054.5 363.6,1056 364.3,1057.5 365,1059 365.7,1060.5 366.5,1061.9 367.2,1063.4 367.9,1064.9 368,1065.1" fill="none" stroke="none" stroke-width="0" stroke-linejoin="round" marker-start="url(#bY)" marker-mid="url(#bY)" marker-end="url(#bY)"/>
<polyline points="449.4,1231.5 497.1,1296.5 530.9,1325.1 557.1,1340.9 578.5,1348.5" fill="none" stroke="none" stroke-width="0" stroke-linejoin="round" marker-start="url(#bY)" marker-mid="url(#bY)" marker-end="url(#bY)"/>
<polyline points="449.4,1231.5 497.1,1296.5 530.9,1325.1 557.1,1340.9 578.5,1348.5" fill="none" stroke="none" stroke-width="0" stroke-linejoin="round" marker-start="url(#bG)" marker-mid="url(#bG)" marker-end="url(#bG)"/>
<polyline points="596.6,1355.4 612.3,1358.9 626.1,1360.5 638.5,1361.7 649.7,1362.8 659.9,1363.7 669.3,1364.5 678,1365.1 686.1,1365.5 693.7,1365.9 700.8,1366.3 707.6,1366.6 713.9,1366.9 719.9,1367.1 725.7,1367.3 731.1,1367.5" fill="none" stroke="none" stroke-width="0" stroke-linejoin="round" marker-start="url(#bG)" marker-mid="url(#bG)" marker-end="url(#bG)"/>
<polyline points="596.6,1355.4 612.3,1358.9 626.1,1360.5 638.5,1361.7 649.7,1362.8 659.9,1363.7 669.3,1364.5 678,1365.1 686.1,1365.5 693.7,1365.9 700.8,1366.3 707.6,1366.6 713.9,1366.9 719.9,1367.1 725.7,1367.3 731.1,1367.5" fill="none" stroke="none" stroke-width="0" stroke-linejoin="round" marker-start="url(#bY)" marker-mid="url(#bY)" marker-end="url(#bY)"/>
<polyline points="736.3,1367.6 741.3,1367.8 746.1,1367.9 750.8,1368.1 755.2,1368.2 759.5,1368.3 763.6,1368.4 767.6,1368.4 771.4,1368.5 775.1,1368.5 778.8,1368.6 782.3,1368.6 785.7,1368.7 789,1368.7 792.2,1368.8 795.3,1368.8 798.4,1368.8 801.4,1368.9 804.3,1368.9 807.1,1368.9 809.9,1369 812.6,1369 815.2,1369 817.8,1369 820.3,1369 822.8,1369.1 825.2,1369.1 827.6,1369.1 829.9,1369.1 832.2,1369.1 834.4,1369.2 836.6,1369.2 838.8,1369.2 840.9,1369.2 843,1369.2 845,1369.2 847,1369.3 849,1369.3 850.9,1369.3 852.8,1369.3 854.7,1369.3 856.6,1369.3 858.4,1369.3 860.2,1369.3 862,1369.4 863.7,1369.4 865.4,1369.4 867.1,1369.4 868.8,1369.4 870.4,1369.4 872,1369.4 873.6,1369.4 875.2,1369.4 876.8,1369.5 878.3,1369.5 879.8,1369.5 881.3,1369.5 882.8,1369.5 884.2,1369.5 885.7,1369.5 887.1,1369.5 888.5,1369.5 889.9,1369.5 891.3,1369.5 892.6,1369.5 894,1369.5 895.3,1369.5 896.6,1369.5 897.9,1369.5 899.2,1369.5 900.5,1369.5 901.7,1369.5 903,1369.5 904.2,1369.5 905.4,1369.5 906.6,1369.5 907.8,1369.6 909,1369.6" fill="none" stroke="none" stroke-width="0" stroke-linejoin="round" marker-start="url(#bY)" marker-mid="url(#bY)" marker-end="url(#bY)"/>
<polyline points="736.3,1367.6 741.3,1367.8 746.1,1367.9 750.8,1368.1 755.2,1368.2 759.5,1368.3 763.6,1368.4 767.6,1368.4 771.4,1368.5 775.1,1368.5 778.8,1368.6 782.3,1368.6 785.7,1368.7 789,1368.7 792.2,1368.8 795.3,1368.8 798.4,1368.8 801.4,1368.9 804.3,1368.9 807.1,1368.9 809.9,1369 812.6,1369 815.2,1369 817.8,1369 820.3,1369 822.8,1369.1 825.2,1369.1 827.6,1369.1 829.9,1369.1 832.2,1369.1 834.4,1369.2 836.6,1369.2 838.8,1369.2 840.9,1369.2 843,1369.2 845,1369.2 847,1369.3 849,1369.3 850.9,1369.3 852.8,1369.3 854.7,1369.3 856.6,1369.3 858.4,1369.3 860.2,1369.3 862,1369.4 863.7,1369.4 865.4,1369.4 867.1,1369.4 868.8,1369.4 870.4,1369.4 872,1369.4 873.6,1369.4 875.2,1369.4 876.8,1369.5 878.3,1369.5 879.8,1369.5 881.3,1369.5 882.8,1369.5 884.2,1369.5 885.7,1369.5 887.1,1369.5 888.5,1369.5 889.9,1369.5 891.3,1369.5 892.6,1369.5 894,1369.5 895.3,1369.5 896.6,1369.5 897.9,1369.5 899.2,1369.5 900.5,1369.5 901.7,1369.5 903,1369.5 904.2,1369.5 905.4,1369.5 906.6,1369.5 907.8,1369.6 909,1369.6" fill="none" stroke="none" stroke-width="0" stroke-linejoin="round" marker-start="url(#bG)" marker-mid="url(#bG)" marker-end="url(#bG)"/>
<polyline points="102.4,843.3 103.3,843.6 104.2,843.8 105.1,844.1 106,844.3 106.9,844.5 107.8,844.8 108.7,845 109.6,845.2 110.4,845.5 111.3,845.7 112.2,845.9 113.1,846.1 114,846.4 114.9,846.6 115.8,846.8 116.7,847 117.5,847.2 118.4,847.4 119.3,847.7 120.2,847.9 121.1,848.1 122,848.3 122.9,848.5 123.8,848.7 124.6,848.9 125.5,849.1 126.4,849.3 127.3,849.5 128.2,849.8 129.1,850 130,850.2 130.9,850.4 131.8,850.6 132.6,850.8 133.5,851 134.4,851.2 135.3,851.4 136.2,851.6 137.1,851.8 138,852 138.9,852.2 139.7,852.4 140.6,852.6 141.5,852.8 142.4,853 143.3,853.2 144.2,853.4 145.1,853.6 146,853.8 146.9,854 147.7,854.2 148.6,854.4 149.5,854.6 150.4,854.8 151.3,855 152.2,855.2 153.1,855.4 154,855.6 154.8,855.8 155.7,856 156.6,856.2 157.5,856.4 158.4,856.7 159.3,856.9 160.2,857.1 161.1,857.3 162,857.5 162.8,857.7 163.7,857.9 164.6,858.2 165.5,858.4 166.4,858.6 167.3,858.8 168.2,859 169.1,859.3 169.9,859.5 170.8,859.7 171.7,859.9 172.6,860.2 173.5,860.4 174.4,860.6 175.3,860.9 176.2,861.1 177,861.4 177.9,861.6 178.8,861.8 179.7,862.1 180.6,862.3 181.5,862.6 182.4,862.8 183.3,863.1 184.2,863.4 185,863.6 185.9,863.9 186.8,864.2 187.7,864.4 188.6,864.7 189.5,865 190.4,865.2 191.3,865.5 192.1,865.8 193,866.1 193.9,866.4 194.8,866.7 195.7,867 196.6,867.3 197.5,867.6 198.4,867.9 199.3,868.2 200.1,868.5 201,868.8 201.9,869.1 202.8,869.5 203.7,869.8 204.6,870.1 205.5,870.5 206.4,870.8 207.2,871.1 208.1,871.5 209,871.8 209.9,872.2 210.8,872.6 211.7,872.9 212.6,873.3 213.5,873.7 214.4,874.1 215.2,874.4 216.1,874.8 217,875.2 217.9,875.6 218.8,876 219.7,876.4 220.6,876.8 221.5,877.3 222.3,877.7 223.2,878.1 224.1,878.5 225,879 225.9,879.4 226.8,879.9 227.7,880.3 228.6,880.8 229.5,881.3 230.3,881.8 231.2,882.2 232.1,882.7 233,883.2 233.9,883.7 234.8,884.2 235.7,884.7 236.6,885.3 237.4,885.8 238.3,886.3 239.2,886.9 240.1,887.4 241,888 241.9,888.5 242.8,889.1 243.7,889.7 244.5,890.2 245.4,890.8 246.3,891.4 247.2,892 248.1,892.7 249,893.3 249.9,893.9 250.8,894.5 251.7,895.2 252.5,895.8 253.4,896.5 254.3,897.2 255.2,897.8 256.1,898.5 257,899.2 257.9,899.9 258.8,900.6 259.6,901.4 260.5,902.1 261.4,902.8 262.3,903.6 263.2,904.3 264.1,905.1 265,905.9 265.9,906.7 266.8,907.5 267.6,908.3 268.5,909.1 269.4,909.9 270.3,910.7 271.2,911.6 272.1,912.4 273,913.3 273.9,914.2 274.7,915 275.6,915.9 276.5,916.8 277.4,917.7 278.3,918.7 279.2,919.6 280.1,920.5 281,921.5 281.9,922.5 282.7,923.4 283.6,924.4 284.5,925.4 285.4,926.4 286.3,927.4 287.2,928.5 288.1,929.5 289,930.6 289.8,931.6 290.7,932.7 291.6,933.8 292.5,934.9 293.4,936 294.3,937.1 295.2,938.2 296.1,939.4 296.9,940.5 297.8,941.7 298.7,942.8 299.6,944 300.5,945.2 301.4,946.4 302.3,947.7 303.2,948.9 304.1,950.1 304.9,951.4 305.8,952.6 306.7,953.9 307.6,955.2 308.5,956.5 309.4,957.8 310.3,959.1 311.2,960.5 312,961.8 312.9,963.2 313.8,964.5 314.7,965.9 315.6,967.3 316.5,968.7 317.4,970.1 318.3,971.5 319.2,972.9 320,974.4 320.9,975.8 321.8,977.3 322.7,978.8 323.6,980.3 324.5,981.7 325.4,983.3 326.3,984.8 327.1,986.3 328,987.8 328.9,989.4 329.8,990.9 330.7,992.5 331.6,994.1 332.5,995.7 333.4,997.2 334.3,998.8 335.1,1000.5 336,1002.1 336.9,1003.7 337.8,1005.4 338.7,1007 339.6,1008.7 340.5,1010.3 341.4,1012 342.2,1013.7 343.1,1015.4 344,1017.1 344.9,1018.8 345.8,1020.5 346.7,1022.2 347.6,1023.9 348.5,1025.6 349.3,1027.4 350.2,1029.1 351.1,1030.9 352,1032.6 352.9,1034.4 353.8,1036.2 354.7,1037.9 355.6,1039.7 356.5,1041.5 357.3,1043.3 358.2,1045.1 359.1,1046.9 360,1048.7 360.9,1050.5 361.8,1052.3 362.7,1054.1 363.6,1056 364.4,1057.8 365.3,1059.6 366.2,1061.4 367.1,1063.3 368,1065.1" fill="none" stroke="#EDB120" stroke-width="13" stroke-linejoin="round" stroke-linecap="round"/>
<polyline points="102.4,843.3 103.3,843.6 104.2,843.8 105.1,844.1 106,844.3 106.9,844.5 107.8,844.8 108.7,845 109.6,845.2 110.4,845.5 111.3,845.7 112.2,845.9 113.1,846.1 114,846.4 114.9,846.6 115.8,846.8 116.7,847 117.5,847.2 118.4,847.4 119.3,847.7 120.2,847.9 121.1,848.1 122,848.3 122.9,848.5 123.8,848.7 124.6,848.9 125.5,849.1 126.4,849.3 127.3,849.5 128.2,849.8 129.1,850 130,850.2 130.9,850.4 131.8,850.6 132.6,850.8 133.5,851 134.4,851.2 135.3,851.4 136.2,851.6 137.1,851.8 138,852 138.9,852.2 139.7,852.4 140.6,852.6 141.5,852.8 142.4,853 143.3,853.2 144.2,853.4 145.1,853.6 146,853.8 146.9,854 147.7,854.2 148.6,854.4 149.5,854.6 150.4,854.8 151.3,855 152.2,855.2 153.1,855.4 154,855.6 154.8,855.8 155.7,856 156.6,856.2 157.5,856.4 158.4,856.7 159.3,856.9 160.2,857.1 161.1,857.3 162,857.5 162.8,857.7 163.7,857.9 164.6,858.2 165.5,858.4 166.4,858.6 167.3,858.8 168.2,859 169.1,859.3 169.9,859.5 170.8,859.7 171.7,859.9 172.6,860.2 173.5,860.4 174.4,860.6 175.3,860.9 176.2,861.1 177,861.4 177.9,861.6 178.8,861.8 179.7,862.1 180.6,862.3 181.5,862.6 182.4,862.8 183.3,863.1 184.2,863.4 185,863.6 185.9,863.9 186.8,864.2 187.7,864.4 188.6,864.7 189.5,865 190.4,865.2 191.3,865.5 192.1,865.8 193,866.1 193.9,866.4 194.8,866.7 195.7,867 196.6,867.3 197.5,867.6 198.4,867.9 199.3,868.2 200.1,868.5 201,868.8 201.9,869.1 202.8,869.5 203.7,869.8 204.6,870.1 205.5,870.5 206.4,870.8 207.2,871.1 208.1,871.5 209,871.8 209.9,872.2 210.8,872.6 211.7,872.9 212.6,873.3 213.5,873.7 214.4,874.1 215.2,874.4 216.1,874.8 217,875.2 217.9,875.6 218.8,876 219.7,876.4 220.6,876.8 221.5,877.3 222.3,877.7 223.2,878.1 224.1,878.5 225,879 225.9,879.4 226.8,879.9 227.7,880.3 228.6,880.8 229.5,881.3 230.3,881.8 231.2,882.2 232.1,882.7 233,883.2 233.9,883.7 234.8,884.2 235.7,884.7 236.6,885.3 237.4,885.8 238.3,886.3 239.2,886.9 240.1,887.4 241,888 241.9,888.5 242.8,889.1 243.7,889.7 244.5,890.2 245.4,890.8 246.3,891.4 247.2,892 248.1,892.7 249,893.3 249.9,893.9 250.8,894.5 251.7,895.2 252.5,895.8 253.4,896.5 254.3,897.2 255.2,897.8 256.1,898.5 257,899.2 257.9,899.9 258.8,900.6 259.6,901.4 260.5,902.1 261.4,902.8 262.3,903.6 263.2,904.3 264.1,905.1 265,905.9 265.9,906.7 266.8,907.5 267.6,908.3 268.5,909.1 269.4,909.9 270.3,910.7 271.2,911.6 272.1,912.4 273,913.3 273.9,914.2 274.7,915 275.6,915.9 276.5,916.8 277.4,917.7 278.3,918.7 279.2,919.6 280.1,920.5 281,921.5 281.9,922.5 282.7,923.4 283.6,924.4 284.5,925.4 285.4,926.4 286.3,927.4 287.2,928.5 288.1,929.5 289,930.6 289.8,931.6 290.7,932.7 291.6,933.8 292.5,934.9 293.4,936 294.3,937.1 295.2,938.2 296.1,939.4 296.9,940.5 297.8,941.7 298.7,942.8 299.6,944 300.5,945.2 301.4,946.4 302.3,947.7 303.2,948.9 304.1,950.1 304.9,951.4 305.8,952.6 306.7,953.9 307.6,955.2 308.5,956.5 309.4,957.8 310.3,959.1 311.2,960.5 312,961.8 312.9,963.2 313.8,964.5 314.7,965.9 315.6,967.3 316.5,968.7 317.4,970.1 318.3,971.5 319.2,972.9 320,974.4 320.9,975.8 321.8,977.3 322.7,978.8 323.6,980.3 324.5,981.7 325.4,983.3 326.3,984.8 327.1,986.3 328,987.8 328.9,989.4 329.8,990.9 330.7,992.5 331.6,994.1 332.5,995.7 333.4,997.2 334.3,998.8 335.1,1000.5 336,1002.1 336.9,1003.7 337.8,1005.4 338.7,1007 339.6,1008.7 340.5,1010.3 341.4,1012 342.2,1013.7 343.1,1015.4 344,1017.1 344.9,1018.8 345.8,1020.5 346.7,1022.2 347.6,1023.9 348.5,1025.6 349.3,1027.4 350.2,1029.1 351.1,1030.9 352,1032.6 352.9,1034.4 353.8,1036.2 354.7,1037.9 355.6,1039.7 356.5,1041.5 357.3,1043.3 358.2,1045.1 359.1,1046.9 360,1048.7 360.9,1050.5 361.8,1052.3 362.7,1054.1 363.6,1056 364.4,1057.8 365.3,1059.6 366.2,1061.4 367.1,1063.3 368,1065.1" fill="none" stroke="#77AC30" stroke-width="8" stroke-linejoin="round" stroke-dasharray="2 9 3 14 1.5 7 4 11" opacity="0.75"/>
<polyline points="102.4,838.8 103.3,839.1 104.2,839.3 105.1,839.6 106,839.8 106.9,840 107.8,840.3 108.7,840.5 109.6,840.7 110.4,841 111.3,841.2 112.2,841.4 113.1,841.6 114,841.9 114.9,842.1 115.8,842.3 116.7,842.5 117.5,842.7 118.4,842.9 119.3,843.2 120.2,843.4 121.1,843.6 122,843.8 122.9,844 123.8,844.2 124.6,844.4 125.5,844.6 126.4,844.8 127.3,845 128.2,845.3 129.1,845.5 130,845.7 130.9,845.9 131.8,846.1 132.6,846.3 133.5,846.5 134.4,846.7 135.3,846.9 136.2,847.1 137.1,847.3 138,847.5 138.9,847.7 139.7,847.9 140.6,848.1 141.5,848.3 142.4,848.5 143.3,848.7 144.2,848.9 145.1,849.1 146,849.3 146.9,849.5 147.7,849.7 148.6,849.9 149.5,850.1 150.4,850.3 151.3,850.5 152.2,850.7 153.1,850.9 154,851.1 154.8,851.3 155.7,851.5 156.6,851.7 157.5,851.9 158.4,852.2 159.3,852.4 160.2,852.6 161.1,852.8 162,853 162.8,853.2 163.7,853.4 164.6,853.7 165.5,853.9 166.4,854.1 167.3,854.3 168.2,854.5 169.1,854.8 169.9,855 170.8,855.2 171.7,855.4 172.6,855.7 173.5,855.9 174.4,856.1 175.3,856.4 176.2,856.6 177,856.9 177.9,857.1 178.8,857.3 179.7,857.6 180.6,857.8 181.5,858.1 182.4,858.3 183.3,858.6 184.2,858.9 185,859.1 185.9,859.4 186.8,859.7 187.7,859.9 188.6,860.2 189.5,860.5 190.4,860.7 191.3,861 192.1,861.3 193,861.6 193.9,861.9 194.8,862.2 195.7,862.5 196.6,862.8 197.5,863.1 198.4,863.4 199.3,863.7 200.1,864 201,864.3 201.9,864.6 202.8,865 203.7,865.3 204.6,865.6 205.5,866 206.4,866.3 207.2,866.6 208.1,867 209,867.3 209.9,867.7 210.8,868.1 211.7,868.4 212.6,868.8 213.5,869.2 214.4,869.6 215.2,869.9 216.1,870.3 217,870.7 217.9,871.1 218.8,871.5 219.7,871.9 220.6,872.3 221.5,872.8 222.3,873.2 223.2,873.6 224.1,874 225,874.5 225.9,874.9 226.8,875.4 227.7,875.8 228.6,876.3 229.5,876.8 230.3,877.3 231.2,877.7 232.1,878.2 233,878.7 233.9,879.2 234.8,879.7 235.7,880.2 236.6,880.8 237.4,881.3 238.3,881.8 239.2,882.4 240.1,882.9 241,883.5 241.9,884 242.8,884.6 243.7,885.2 244.5,885.7 245.4,886.3 246.3,886.9 247.2,887.5 248.1,888.2 249,888.8 249.9,889.4 250.8,890 251.7,890.7 252.5,891.3 253.4,892 254.3,892.7 255.2,893.3 256.1,894 257,894.7 257.9,895.4 258.8,896.1 259.6,896.9 260.5,897.6 261.4,898.3 262.3,899.1 263.2,899.8 264.1,900.6 265,901.4 265.9,902.2 266.8,903 267.6,903.8 268.5,904.6 269.4,905.4 270.3,906.2 271.2,907.1 272.1,907.9 273,908.8 273.9,909.7 274.7,910.5 275.6,911.4 276.5,912.3 277.4,913.2 278.3,914.2 279.2,915.1 280.1,916 281,917 281.9,918 282.7,918.9 283.6,919.9 284.5,920.9 285.4,921.9 286.3,922.9 287.2,924 288.1,925 289,926.1 289.8,927.1 290.7,928.2 291.6,929.3 292.5,930.4 293.4,931.5 294.3,932.6 295.2,933.7 296.1,934.9 296.9,936 297.8,937.2 298.7,938.3 299.6,939.5 300.5,940.7 301.4,941.9 302.3,943.2 303.2,944.4 304.1,945.6 304.9,946.9 305.8,948.1 306.7,949.4 307.6,950.7 308.5,952 309.4,953.3 310.3,954.6 311.2,956 312,957.3 312.9,958.7 313.8,960 314.7,961.4 315.6,962.8 316.5,964.2 317.4,965.6 318.3,967 319.2,968.4 320,969.9 320.9,971.3 321.8,972.8 322.7,974.3 323.6,975.8 324.5,977.2 325.4,978.8 326.3,980.3 327.1,981.8 328,983.3 328.9,984.9 329.8,986.4 330.7,988 331.6,989.6 332.5,991.2 333.4,992.7 334.3,994.3 335.1,996 336,997.6 336.9,999.2 337.8,1000.9 338.7,1002.5 339.6,1004.2 340.5,1005.8 341.4,1007.5 342.2,1009.2 343.1,1010.9 344,1012.6 344.9,1014.3 345.8,1016 346.7,1017.7 347.6,1019.4 348.5,1021.1 349.3,1022.9 350.2,1024.6 351.1,1026.4 352,1028.1 352.9,1029.9 353.8,1031.7 354.7,1033.4 355.6,1035.2 356.5,1037 357.3,1038.8 358.2,1040.6 359.1,1042.4 360,1044.2 360.9,1046 361.8,1047.8 362.7,1049.6 363.6,1051.5 364.4,1053.3 365.3,1055.1 366.2,1056.9 367.1,1058.8 368,1060.6" fill="none" stroke="#77AC30" stroke-width="2.6" stroke-linejoin="round" stroke-dasharray="6 10 3 16 9 13 2 7" opacity="0.8"/>
<polyline points="102.4,847.5 103.3,847.8 104.2,848 105.1,848.3 106,848.5 106.9,848.7 107.8,849 108.7,849.2 109.6,849.4 110.4,849.7 111.3,849.9 112.2,850.1 113.1,850.3 114,850.6 114.9,850.8 115.8,851 116.7,851.2 117.5,851.4 118.4,851.6 119.3,851.9 120.2,852.1 121.1,852.3 122,852.5 122.9,852.7 123.8,852.9 124.6,853.1 125.5,853.3 126.4,853.5 127.3,853.7 128.2,854 129.1,854.2 130,854.4 130.9,854.6 131.8,854.8 132.6,855 133.5,855.2 134.4,855.4 135.3,855.6 136.2,855.8 137.1,856 138,856.2 138.9,856.4 139.7,856.6 140.6,856.8 141.5,857 142.4,857.2 143.3,857.4 144.2,857.6 145.1,857.8 146,858 146.9,858.2 147.7,858.4 148.6,858.6 149.5,858.8 150.4,859 151.3,859.2 152.2,859.4 153.1,859.6 154,859.8 154.8,860 155.7,860.2 156.6,860.4 157.5,860.6 158.4,860.9 159.3,861.1 160.2,861.3 161.1,861.5 162,861.7 162.8,861.9 163.7,862.1 164.6,862.4 165.5,862.6 166.4,862.8 167.3,863 168.2,863.2 169.1,863.5 169.9,863.7 170.8,863.9 171.7,864.1 172.6,864.4 173.5,864.6 174.4,864.8 175.3,865.1 176.2,865.3 177,865.6 177.9,865.8 178.8,866 179.7,866.3 180.6,866.5 181.5,866.8 182.4,867 183.3,867.3 184.2,867.6 185,867.8 185.9,868.1 186.8,868.4 187.7,868.6 188.6,868.9 189.5,869.2 190.4,869.4 191.3,869.7 192.1,870 193,870.3 193.9,870.6 194.8,870.9 195.7,871.2 196.6,871.5 197.5,871.8 198.4,872.1 199.3,872.4 200.1,872.7 201,873 201.9,873.3 202.8,873.7 203.7,874 204.6,874.3 205.5,874.7 206.4,875 207.2,875.3 208.1,875.7 209,876 209.9,876.4 210.8,876.8 211.7,877.1 212.6,877.5 213.5,877.9 214.4,878.3 215.2,878.6 216.1,879 217,879.4 217.9,879.8 218.8,880.2 219.7,880.6 220.6,881 221.5,881.5 222.3,881.9 223.2,882.3 224.1,882.7 225,883.2 225.9,883.6 226.8,884.1 227.7,884.5 228.6,885 229.5,885.5 230.3,886 231.2,886.4 232.1,886.9 233,887.4 233.9,887.9 234.8,888.4 235.7,888.9 236.6,889.5 237.4,890 238.3,890.5 239.2,891.1 240.1,891.6 241,892.2 241.9,892.7 242.8,893.3 243.7,893.9 244.5,894.4 245.4,895 246.3,895.6 247.2,896.2 248.1,896.9 249,897.5 249.9,898.1 250.8,898.7 251.7,899.4 252.5,900 253.4,900.7 254.3,901.4 255.2,902 256.1,902.7 257,903.4 257.9,904.1 258.8,904.8 259.6,905.6 260.5,906.3 261.4,907 262.3,907.8 263.2,908.5 264.1,909.3 265,910.1 265.9,910.9 266.8,911.7 267.6,912.5 268.5,913.3 269.4,914.1 270.3,914.9 271.2,915.8 272.1,916.6 273,917.5 273.9,918.4 274.7,919.2 275.6,920.1 276.5,921 277.4,921.9 278.3,922.9 279.2,923.8 280.1,924.7 281,925.7 281.9,926.7 282.7,927.6 283.6,928.6 284.5,929.6 285.4,930.6 286.3,931.6 287.2,932.7 288.1,933.7 289,934.8 289.8,935.8 290.7,936.9 291.6,938 292.5,939.1 293.4,940.2 294.3,941.3 295.2,942.4 296.1,943.6 296.9,944.7 297.8,945.9 298.7,947 299.6,948.2 300.5,949.4 301.4,950.6 302.3,951.9 303.2,953.1 304.1,954.3 304.9,955.6 305.8,956.8 306.7,958.1 307.6,959.4 308.5,960.7 309.4,962 310.3,963.3 311.2,964.7 312,966 312.9,967.4 313.8,968.7 314.7,970.1 315.6,971.5 316.5,972.9 317.4,974.3 318.3,975.7 319.2,977.1 320,978.6 320.9,980 321.8,981.5 322.7,983 323.6,984.5 324.5,985.9 325.4,987.5 326.3,989 327.1,990.5 328,992 328.9,993.6 329.8,995.1 330.7,996.7 331.6,998.3 332.5,999.9 333.4,1001.4 334.3,1003 335.1,1004.7 336,1006.3 336.9,1007.9 337.8,1009.6 338.7,1011.2 339.6,1012.9 340.5,1014.5 341.4,1016.2 342.2,1017.9 343.1,1019.6 344,1021.3 344.9,1023 345.8,1024.7 346.7,1026.4 347.6,1028.1 348.5,1029.8 349.3,1031.6 350.2,1033.3 351.1,1035.1 352,1036.8 352.9,1038.6 353.8,1040.4 354.7,1042.1 355.6,1043.9 356.5,1045.7 357.3,1047.5 358.2,1049.3 359.1,1051.1 360,1052.9 360.9,1054.7 361.8,1056.5 362.7,1058.3 363.6,1060.2 364.4,1062 365.3,1063.8 366.2,1065.6 367.1,1067.5 368,1069.3" fill="none" stroke="#77AC30" stroke-width="2.2" stroke-linejoin="round" stroke-dasharray="3 17 5 23 2 11" opacity="0.8" stroke-dashoffset="-9"/>
<polyline points="102.4,843.3 103.3,843.6 104.2,843.8 105.1,844.1 106,844.3 106.9,844.5 107.8,844.8 108.7,845 109.6,845.2 110.4,845.5 111.3,845.7 112.2,845.9 113.1,846.1 114,846.4 114.9,846.6 115.8,846.8 116.7,847 117.5,847.2 118.4,847.4 119.3,847.7 120.2,847.9 121.1,848.1 122,848.3 122.9,848.5 123.8,848.7 124.6,848.9 125.5,849.1 126.4,849.3 127.3,849.5 128.2,849.8 129.1,850 130,850.2 130.9,850.4 131.8,850.6 132.6,850.8 133.5,851 134.4,851.2 135.3,851.4 136.2,851.6 137.1,851.8 138,852 138.9,852.2 139.7,852.4 140.6,852.6 141.5,852.8 142.4,853 143.3,853.2 144.2,853.4 145.1,853.6 146,853.8 146.9,854 147.7,854.2 148.6,854.4 149.5,854.6 150.4,854.8 151.3,855 152.2,855.2 153.1,855.4 154,855.6 154.8,855.8 155.7,856 156.6,856.2 157.5,856.4 158.4,856.7 159.3,856.9 160.2,857.1 161.1,857.3 162,857.5 162.8,857.7 163.7,857.9 164.6,858.2 165.5,858.4 166.4,858.6 167.3,858.8 168.2,859 169.1,859.3 169.9,859.5 170.8,859.7 171.7,859.9 172.6,860.2 173.5,860.4 174.4,860.6 175.3,860.9 176.2,861.1 177,861.4 177.9,861.6 178.8,861.8 179.7,862.1 180.6,862.3 181.5,862.6 182.4,862.8 183.3,863.1 184.2,863.4 185,863.6 185.9,863.9 186.8,864.2 187.7,864.4 188.6,864.7 189.5,865 190.4,865.2 191.3,865.5 192.1,865.8 193,866.1 193.9,866.4 194.8,866.7 195.7,867 196.6,867.3 197.5,867.6 198.4,867.9 199.3,868.2 200.1,868.5 201,868.8 201.9,869.1 202.8,869.5 203.7,869.8 204.6,870.1 205.5,870.5 206.4,870.8 207.2,871.1 208.1,871.5 209,871.8 209.9,872.2 210.8,872.6 211.7,872.9 212.6,873.3 213.5,873.7 214.4,874.1 215.2,874.4 216.1,874.8 217,875.2 217.9,875.6 218.8,876 219.7,876.4 220.6,876.8 221.5,877.3 222.3,877.7 223.2,878.1 224.1,878.5 225,879 225.9,879.4 226.8,879.9 227.7,880.3 228.6,880.8 229.5,881.3 230.3,881.8 231.2,882.2 232.1,882.7 233,883.2 233.9,883.7 234.8,884.2 235.7,884.7 236.6,885.3 237.4,885.8 238.3,886.3 239.2,886.9 240.1,887.4 241,888 241.9,888.5 242.8,889.1 243.7,889.7 244.5,890.2 245.4,890.8 246.3,891.4 247.2,892 248.1,892.7 249,893.3 249.9,893.9 250.8,894.5 251.7,895.2 252.5,895.8 253.4,896.5 254.3,897.2 255.2,897.8 256.1,898.5 257,899.2 257.9,899.9 258.8,900.6 259.6,901.4 260.5,902.1 261.4,902.8 262.3,903.6 263.2,904.3 264.1,905.1 265,905.9 265.9,906.7 266.8,907.5 267.6,908.3 268.5,909.1 269.4,909.9 270.3,910.7 271.2,911.6 272.1,912.4 273,913.3 273.9,914.2 274.7,915 275.6,915.9 276.5,916.8 277.4,917.7 278.3,918.7 279.2,919.6 280.1,920.5 281,921.5 281.9,922.5 282.7,923.4 283.6,924.4 284.5,925.4 285.4,926.4 286.3,927.4 287.2,928.5 288.1,929.5 289,930.6 289.8,931.6 290.7,932.7 291.6,933.8 292.5,934.9 293.4,936 294.3,937.1 295.2,938.2 296.1,939.4 296.9,940.5 297.8,941.7 298.7,942.8 299.6,944 300.5,945.2 301.4,946.4 302.3,947.7 303.2,948.9 304.1,950.1 304.9,951.4 305.8,952.6 306.7,953.9 307.6,955.2 308.5,956.5 309.4,957.8 310.3,959.1 311.2,960.5 312,961.8 312.9,963.2 313.8,964.5 314.7,965.9 315.6,967.3 316.5,968.7 317.4,970.1 318.3,971.5 319.2,972.9 320,974.4 320.9,975.8 321.8,977.3 322.7,978.8 323.6,980.3 324.5,981.7 325.4,983.3 326.3,984.8 327.1,986.3 328,987.8 328.9,989.4 329.8,990.9 330.7,992.5 331.6,994.1 332.5,995.7 333.4,997.2 334.3,998.8 335.1,1000.5 336,1002.1 336.9,1003.7 337.8,1005.4 338.7,1007 339.6,1008.7 340.5,1010.3 341.4,1012 342.2,1013.7 343.1,1015.4 344,1017.1 344.9,1018.8 345.8,1020.5 346.7,1022.2 347.6,1023.9 348.5,1025.6 349.3,1027.4 350.2,1029.1 351.1,1030.9 352,1032.6 352.9,1034.4 353.8,1036.2 354.7,1037.9 355.6,1039.7 356.5,1041.5 357.3,1043.3 358.2,1045.1 359.1,1046.9 360,1048.7 360.9,1050.5 361.8,1052.3 362.7,1054.1 363.6,1056 364.4,1057.8 365.3,1059.6 366.2,1061.4 367.1,1063.3 368,1065.1" fill="none" stroke="#EDB120" stroke-width="3.4" stroke-linejoin="round"/>
<polyline points="102.4,843.3 103.3,843.6 104.2,843.8 105.1,844.1 106,844.3 106.9,844.5 107.8,844.8 108.7,845 109.6,845.2 110.4,845.5 111.3,845.7 112.2,845.9 113.1,846.1 114,846.4 114.9,846.6 115.8,846.8 116.7,847 117.5,847.2 118.4,847.4 119.3,847.7 120.2,847.9 121.1,848.1 122,848.3 122.9,848.5 123.8,848.7 124.6,848.9 125.5,849.1 126.4,849.3 127.3,849.5 128.2,849.8 129.1,850 130,850.2 130.9,850.4 131.8,850.6 132.6,850.8 133.5,851 134.4,851.2 135.3,851.4 136.2,851.6 137.1,851.8 138,852 138.9,852.2 139.7,852.4 140.6,852.6 141.5,852.8 142.4,853 143.3,853.2 144.2,853.4 145.1,853.6 146,853.8 146.9,854 147.7,854.2 148.6,854.4 149.5,854.6 150.4,854.8 151.3,855 152.2,855.2 153.1,855.4 154,855.6 154.8,855.8 155.7,856 156.6,856.2 157.5,856.4 158.4,856.7 159.3,856.9 160.2,857.1 161.1,857.3 162,857.5 162.8,857.7 163.7,857.9 164.6,858.2 165.5,858.4 166.4,858.6 167.3,858.8 168.2,859 169.1,859.3 169.9,859.5 170.8,859.7 171.7,859.9 172.6,860.2 173.5,860.4 174.4,860.6 175.3,860.9 176.2,861.1 177,861.4 177.9,861.6 178.8,861.8 179.7,862.1 180.6,862.3 181.5,862.6 182.4,862.8 183.3,863.1 184.2,863.4 185,863.6 185.9,863.9 186.8,864.2 187.7,864.4 188.6,864.7 189.5,865 190.4,865.2 191.3,865.5 192.1,865.8 193,866.1 193.9,866.4 194.8,866.7 195.7,867 196.6,867.3 197.5,867.6 198.4,867.9 199.3,868.2 200.1,868.5 201,868.8 201.9,869.1 202.8,869.5 203.7,869.8 204.6,870.1 205.5,870.5 206.4,870.8 207.2,871.1 208.1,871.5 209,871.8 209.9,872.2 210.8,872.6 211.7,872.9 212.6,873.3 213.5,873.7 214.4,874.1 215.2,874.4 216.1,874.8 217,875.2 217.9,875.6 218.8,876 219.7,876.4 220.6,876.8 221.5,877.3 222.3,877.7 223.2,878.1 224.1,878.5 225,879 225.9,879.4 226.8,879.9 227.7,880.3 228.6,880.8 229.5,881.3 230.3,881.8 231.2,882.2 232.1,882.7 233,883.2 233.9,883.7 234.8,884.2 235.7,884.7 236.6,885.3 237.4,885.8 238.3,886.3 239.2,886.9 240.1,887.4 241,888 241.9,888.5 242.8,889.1 243.7,889.7 244.5,890.2 245.4,890.8 246.3,891.4 247.2,892 248.1,892.7 249,893.3 249.9,893.9 250.8,894.5 251.7,895.2 252.5,895.8 253.4,896.5 254.3,897.2 255.2,897.8 256.1,898.5 257,899.2 257.9,899.9 258.8,900.6 259.6,901.4 260.5,902.1 261.4,902.8 262.3,903.6 263.2,904.3 264.1,905.1 265,905.9 265.9,906.7 266.8,907.5 267.6,908.3 268.5,909.1 269.4,909.9 270.3,910.7 271.2,911.6 272.1,912.4 273,913.3 273.9,914.2 274.7,915 275.6,915.9 276.5,916.8 277.4,917.7 278.3,918.7 279.2,919.6 280.1,920.5 281,921.5 281.9,922.5 282.7,923.4 283.6,924.4 284.5,925.4 285.4,926.4 286.3,927.4 287.2,928.5 288.1,929.5 289,930.6 289.8,931.6 290.7,932.7 291.6,933.8 292.5,934.9 293.4,936 294.3,937.1 295.2,938.2 296.1,939.4 296.9,940.5 297.8,941.7 298.7,942.8 299.6,944 300.5,945.2 301.4,946.4 302.3,947.7 303.2,948.9 304.1,950.1 304.9,951.4 305.8,952.6 306.7,953.9 307.6,955.2 308.5,956.5 309.4,957.8 310.3,959.1 311.2,960.5 312,961.8 312.9,963.2 313.8,964.5 314.7,965.9 315.6,967.3 316.5,968.7 317.4,970.1 318.3,971.5 319.2,972.9 320,974.4 320.9,975.8 321.8,977.3 322.7,978.8 323.6,980.3 324.5,981.7 325.4,983.3 326.3,984.8 327.1,986.3 328,987.8 328.9,989.4 329.8,990.9 330.7,992.5 331.6,994.1 332.5,995.7 333.4,997.2 334.3,998.8 335.1,1000.5 336,1002.1 336.9,1003.7 337.8,1005.4 338.7,1007 339.6,1008.7 340.5,1010.3 341.4,1012 342.2,1013.7 343.1,1015.4 344,1017.1 344.9,1018.8 345.8,1020.5 346.7,1022.2 347.6,1023.9 348.5,1025.6 349.3,1027.4 350.2,1029.1 351.1,1030.9 352,1032.6 352.9,1034.4 353.8,1036.2 354.7,1037.9 355.6,1039.7 356.5,1041.5 357.3,1043.3 358.2,1045.1 359.1,1046.9 360,1048.7 360.9,1050.5 361.8,1052.3 362.7,1054.1 363.6,1056 364.4,1057.8 365.3,1059.6 366.2,1061.4 367.1,1063.3 368,1065.1" fill="none" stroke="#D95319" stroke-width="1.5" stroke-linejoin="round" stroke-dasharray="3 2.5 1.5 3 5 2"/>
<polyline points="700.8,1366.3 707.6,1366.6 713.9,1366.9 719.9,1367.1 721.8,1367.2 723.7,1367.2 725.7,1367.3 727.6,1367.4 729.5,1367.4 731.4,1367.5 733.3,1367.5 735.2,1367.6 737.1,1367.7 739,1367.7 740.9,1367.8 742.8,1367.8 744.8,1367.9 746.7,1368 748.6,1368 750.5,1368.1 752.4,1368.1 754.3,1368.2 756.2,1368.2 758.1,1368.2 760,1368.3 761.9,1368.3 763.9,1368.4 765.8,1368.4 767.7,1368.4 769.6,1368.5 771.5,1368.5 773.4,1368.5 775.3,1368.5 777.2,1368.6 779.1,1368.6 781,1368.6 783,1368.7 784.9,1368.7 786.8,1368.7 788.7,1368.7 790.6,1368.8 792.5,1368.8 794.4,1368.8 796.3,1368.8 798.2,1368.8 800.1,1368.9 802.1,1368.9 804,1368.9 805.9,1368.9 807.8,1368.9 809.7,1369 811.6,1369 813.5,1369 815.4,1369 817.3,1369 819.2,1369 821.1,1369.1 823.1,1369.1 825,1369.1 826.9,1369.1 828.8,1369.1 830.7,1369.1 832.6,1369.1 834.5,1369.2 836.4,1369.2 838.3,1369.2 840.2,1369.2 842.2,1369.2 844.1,1369.2 846,1369.2 847.9,1369.3 849.8,1369.3 851.7,1369.3 853.6,1369.3 855.5,1369.3 857.4,1369.3 859.3,1369.3 861.3,1369.4 863.2,1369.4 865.1,1369.4 867,1369.4 868.9,1369.4 870.8,1369.4 872.7,1369.4 874.6,1369.4 876.5,1369.5 878.4,1369.5 880.4,1369.5 882.3,1369.5 884.2,1369.5 886.1,1369.5 888,1369.5 889.9,1369.5 891.8,1369.5 893.7,1369.5 895.6,1369.5 897.5,1369.5 899.5,1369.5 901.4,1369.5 903.3,1369.5 905.2,1369.5 907.1,1369.5 909,1369.6" fill="none" stroke="#EDB120" stroke-width="18.5" stroke-linejoin="round" opacity="0.3"/>
<polyline points="752.4,1368.1 754.3,1368.2 756.2,1368.2 758.1,1368.2 760,1368.3 761.9,1368.3 763.9,1368.4 765.8,1368.4 767.7,1368.4 769.6,1368.5 771.5,1368.5 773.4,1368.5 775.3,1368.5 777.2,1368.6 779.1,1368.6 781,1368.6 783,1368.7 784.9,1368.7 786.8,1368.7 788.7,1368.7 790.6,1368.8 792.5,1368.8 794.4,1368.8 796.3,1368.8 798.2,1368.8 800.1,1368.9 802.1,1368.9 804,1368.9 805.9,1368.9 807.8,1368.9 809.7,1369 811.6,1369 813.5,1369 815.4,1369 817.3,1369 819.2,1369 821.1,1369.1 823.1,1369.1 825,1369.1 826.9,1369.1 828.8,1369.1 830.7,1369.1 832.6,1369.1 834.5,1369.2 836.4,1369.2 838.3,1369.2 840.2,1369.2 842.2,1369.2 844.1,1369.2 846,1369.2 847.9,1369.3 849.8,1369.3 851.7,1369.3 853.6,1369.3 855.5,1369.3 857.4,1369.3 859.3,1369.3 861.3,1369.4 863.2,1369.4 865.1,1369.4 867,1369.4 868.9,1369.4 870.8,1369.4 872.7,1369.4 874.6,1369.4 876.5,1369.5 878.4,1369.5 880.4,1369.5 882.3,1369.5 884.2,1369.5 886.1,1369.5 888,1369.5 889.9,1369.5 891.8,1369.5 893.7,1369.5 895.6,1369.5 897.5,1369.5 899.5,1369.5 901.4,1369.5 903.3,1369.5 905.2,1369.5 907.1,1369.5 909,1369.6" fill="none" stroke="#EDB120" stroke-width="18.5" stroke-linejoin="round" opacity="0.35"/>
<polyline points="790.6,1368.8 792.5,1368.8 794.4,1368.8 796.3,1368.8 798.2,1368.8 800.1,1368.9 802.1,1368.9 804,1368.9 805.9,1368.9 807.8,1368.9 809.7,1369 811.6,1369 813.5,1369 815.4,1369 817.3,1369 819.2,1369 821.1,1369.1 823.1,1369.1 825,1369.1 826.9,1369.1 828.8,1369.1 830.7,1369.1 832.6,1369.1 834.5,1369.2 836.4,1369.2 838.3,1369.2 840.2,1369.2 842.2,1369.2 844.1,1369.2 846,1369.2 847.9,1369.3 849.8,1369.3 851.7,1369.3 853.6,1369.3 855.5,1369.3 857.4,1369.3 859.3,1369.3 861.3,1369.4 863.2,1369.4 865.1,1369.4 867,1369.4 868.9,1369.4 870.8,1369.4 872.7,1369.4 874.6,1369.4 876.5,1369.5 878.4,1369.5 880.4,1369.5 882.3,1369.5 884.2,1369.5 886.1,1369.5 888,1369.5 889.9,1369.5 891.8,1369.5 893.7,1369.5 895.6,1369.5 897.5,1369.5 899.5,1369.5 901.4,1369.5 903.3,1369.5 905.2,1369.5 907.1,1369.5 909,1369.6" fill="none" stroke="#EDB120" stroke-width="18.5" stroke-linejoin="round" opacity="0.5"/>
<polyline points="828.8,1369.1 830.7,1369.1 832.6,1369.1 834.5,1369.2 836.4,1369.2 838.3,1369.2 840.2,1369.2 842.2,1369.2 844.1,1369.2 846,1369.2 847.9,1369.3 849.8,1369.3 851.7,1369.3 853.6,1369.3 855.5,1369.3 857.4,1369.3 859.3,1369.3 861.3,1369.4 863.2,1369.4 865.1,1369.4 867,1369.4 868.9,1369.4 870.8,1369.4 872.7,1369.4 874.6,1369.4 876.5,1369.5 878.4,1369.5 880.4,1369.5 882.3,1369.5 884.2,1369.5 886.1,1369.5 888,1369.5 889.9,1369.5 891.8,1369.5 893.7,1369.5 895.6,1369.5 897.5,1369.5 899.5,1369.5 901.4,1369.5 903.3,1369.5 905.2,1369.5 907.1,1369.5 909,1369.6" fill="none" stroke="#EDB120" stroke-width="18.5" stroke-linejoin="round" opacity="0.8"/>
<polyline points="742.8,1367.8 744.8,1367.9 746.7,1368 748.6,1368 750.5,1368.1 752.4,1368.1 754.3,1368.2 756.2,1368.2 758.1,1368.2 760,1368.3 761.9,1368.3 763.9,1368.4 765.8,1368.4 767.7,1368.4 769.6,1368.5 771.5,1368.5 773.4,1368.5 775.3,1368.5 777.2,1368.6 779.1,1368.6 781,1368.6 783,1368.7 784.9,1368.7 786.8,1368.7 788.7,1368.7 790.6,1368.8 792.5,1368.8 794.4,1368.8 796.3,1368.8 798.2,1368.8 800.1,1368.9 802.1,1368.9 804,1368.9 805.9,1368.9 807.8,1368.9 809.7,1369 811.6,1369 813.5,1369 815.4,1369 817.3,1369 819.2,1369 821.1,1369.1 823.1,1369.1 825,1369.1 826.9,1369.1 828.8,1369.1 830.7,1369.1 832.6,1369.1 834.5,1369.2 836.4,1369.2 838.3,1369.2 840.2,1369.2 842.2,1369.2 844.1,1369.2 846,1369.2 847.9,1369.3 849.8,1369.3 851.7,1369.3 853.6,1369.3 855.5,1369.3 857.4,1369.3 859.3,1369.3 861.3,1369.4 863.2,1369.4 865.1,1369.4 867,1369.4 868.9,1369.4 870.8,1369.4 872.7,1369.4 874.6,1369.4 876.5,1369.5 878.4,1369.5 880.4,1369.5 882.3,1369.5 884.2,1369.5 886.1,1369.5 888,1369.5 889.9,1369.5 891.8,1369.5 893.7,1369.5 895.6,1369.5 897.5,1369.5 899.5,1369.5 901.4,1369.5 903.3,1369.5 905.2,1369.5 907.1,1369.5 909,1369.6" fill="none" stroke="#77AC30" stroke-width="13.5" stroke-linejoin="round" opacity="0.4"/>
<polyline points="783,1368.7 784.9,1368.7 786.8,1368.7 788.7,1368.7 790.6,1368.8 792.5,1368.8 794.4,1368.8 796.3,1368.8 798.2,1368.8 800.1,1368.9 802.1,1368.9 804,1368.9 805.9,1368.9 807.8,1368.9 809.7,1369 811.6,1369 813.5,1369 815.4,1369 817.3,1369 819.2,1369 821.1,1369.1 823.1,1369.1 825,1369.1 826.9,1369.1 828.8,1369.1 830.7,1369.1 832.6,1369.1 834.5,1369.2 836.4,1369.2 838.3,1369.2 840.2,1369.2 842.2,1369.2 844.1,1369.2 846,1369.2 847.9,1369.3 849.8,1369.3 851.7,1369.3 853.6,1369.3 855.5,1369.3 857.4,1369.3 859.3,1369.3 861.3,1369.4 863.2,1369.4 865.1,1369.4 867,1369.4 868.9,1369.4 870.8,1369.4 872.7,1369.4 874.6,1369.4 876.5,1369.5 878.4,1369.5 880.4,1369.5 882.3,1369.5 884.2,1369.5 886.1,1369.5 888,1369.5 889.9,1369.5 891.8,1369.5 893.7,1369.5 895.6,1369.5 897.5,1369.5 899.5,1369.5 901.4,1369.5 903.3,1369.5 905.2,1369.5 907.1,1369.5 909,1369.6" fill="none" stroke="#77AC30" stroke-width="13.5" stroke-linejoin="round" opacity="0.5"/>
<polyline points="828.8,1369.1 830.7,1369.1 832.6,1369.1 834.5,1369.2 836.4,1369.2 838.3,1369.2 840.2,1369.2 842.2,1369.2 844.1,1369.2 846,1369.2 847.9,1369.3 849.8,1369.3 851.7,1369.3 853.6,1369.3 855.5,1369.3 857.4,1369.3 859.3,1369.3 861.3,1369.4 863.2,1369.4 865.1,1369.4 867,1369.4 868.9,1369.4 870.8,1369.4 872.7,1369.4 874.6,1369.4 876.5,1369.5 878.4,1369.5 880.4,1369.5 882.3,1369.5 884.2,1369.5 886.1,1369.5 888,1369.5 889.9,1369.5 891.8,1369.5 893.7,1369.5 895.6,1369.5 897.5,1369.5 899.5,1369.5 901.4,1369.5 903.3,1369.5 905.2,1369.5 907.1,1369.5 909,1369.6" fill="none" stroke="#77AC30" stroke-width="13.5" stroke-linejoin="round" opacity="0.8"/>
<polyline points="742.8,1367.8 744.8,1367.9 746.7,1368 748.6,1368 750.5,1368.1 752.4,1368.1 754.3,1368.2 756.2,1368.2 758.1,1368.2 760,1368.3 761.9,1368.3 763.9,1368.4 765.8,1368.4 767.7,1368.4 769.6,1368.5 771.5,1368.5 773.4,1368.5 775.3,1368.5 777.2,1368.6 779.1,1368.6 781,1368.6 783,1368.7 784.9,1368.7 786.8,1368.7 788.7,1368.7 790.6,1368.8 792.5,1368.8 794.4,1368.8 796.3,1368.8 798.2,1368.8 800.1,1368.9 802.1,1368.9 804,1368.9 805.9,1368.9 807.8,1368.9 809.7,1369 811.6,1369 813.5,1369 815.4,1369 817.3,1369 819.2,1369 821.1,1369.1 823.1,1369.1 825,1369.1 826.9,1369.1 828.8,1369.1 830.7,1369.1 832.6,1369.1 834.5,1369.2 836.4,1369.2 838.3,1369.2 840.2,1369.2 842.2,1369.2 844.1,1369.2 846,1369.2 847.9,1369.3 849.8,1369.3 851.7,1369.3 853.6,1369.3 855.5,1369.3 857.4,1369.3 859.3,1369.3 861.3,1369.4 863.2,1369.4 865.1,1369.4 867,1369.4 868.9,1369.4 870.8,1369.4 872.7,1369.4 874.6,1369.4 876.5,1369.5 878.4,1369.5 880.4,1369.5 882.3,1369.5 884.2,1369.5 886.1,1369.5 888,1369.5 889.9,1369.5 891.8,1369.5 893.7,1369.5 895.6,1369.5 897.5,1369.5 899.5,1369.5 901.4,1369.5 903.3,1369.5 905.2,1369.5 907.1,1369.5 909,1369.6" fill="none" stroke="#EDB120" stroke-width="4" stroke-linejoin="round"/>
<polyline points="742.8,1367.8 744.8,1367.9 746.7,1368 748.6,1368 750.5,1368.1 752.4,1368.1 754.3,1368.2 756.2,1368.2 758.1,1368.2 760,1368.3 761.9,1368.3 763.9,1368.4 765.8,1368.4 767.7,1368.4 769.6,1368.5 771.5,1368.5 773.4,1368.5 775.3,1368.5 777.2,1368.6 779.1,1368.6 781,1368.6 783,1368.7 784.9,1368.7 786.8,1368.7 788.7,1368.7 790.6,1368.8 792.5,1368.8 794.4,1368.8 796.3,1368.8 798.2,1368.8 800.1,1368.9 802.1,1368.9 804,1368.9 805.9,1368.9 807.8,1368.9 809.7,1369 811.6,1369 813.5,1369 815.4,1369 817.3,1369 819.2,1369 821.1,1369.1 823.1,1369.1 825,1369.1 826.9,1369.1 828.8,1369.1 830.7,1369.1 832.6,1369.1 834.5,1369.2 836.4,1369.2 838.3,1369.2 840.2,1369.2 842.2,1369.2 844.1,1369.2 846,1369.2 847.9,1369.3 849.8,1369.3 851.7,1369.3 853.6,1369.3 855.5,1369.3 857.4,1369.3 859.3,1369.3 861.3,1369.4 863.2,1369.4 865.1,1369.4 867,1369.4 868.9,1369.4 870.8,1369.4 872.7,1369.4 874.6,1369.4 876.5,1369.5 878.4,1369.5 880.4,1369.5 882.3,1369.5 884.2,1369.5 886.1,1369.5 888,1369.5 889.9,1369.5 891.8,1369.5 893.7,1369.5 895.6,1369.5 897.5,1369.5 899.5,1369.5 901.4,1369.5 903.3,1369.5 905.2,1369.5 907.1,1369.5 909,1369.6" fill="none" stroke="#D95319" stroke-width="2" stroke-linejoin="round" stroke-dasharray="4 9 3 14"/>
<polyline points="742.8,1367.8 744.8,1367.9 746.7,1368 748.6,1368 750.5,1368.1 752.4,1368.1 754.3,1368.2 756.2,1368.2 758.1,1368.2 760,1368.3 761.9,1368.3 763.9,1368.4 765.8,1368.4 767.7,1368.4 769.6,1368.5 771.5,1368.5 773.4,1368.5 775.3,1368.5 777.2,1368.6 779.1,1368.6 781,1368.6 783,1368.7 784.9,1368.7 786.8,1368.7 788.7,1368.7 790.6,1368.8 792.5,1368.8 794.4,1368.8 796.3,1368.8 798.2,1368.8 800.1,1368.9 802.1,1368.9 804,1368.9 805.9,1368.9 807.8,1368.9 809.7,1369 811.6,1369 813.5,1369 815.4,1369 817.3,1369 819.2,1369 821.1,1369.1 823.1,1369.1 825,1369.1 826.9,1369.1 828.8,1369.1 830.7,1369.1 832.6,1369.1 834.5,1369.2 836.4,1369.2 838.3,1369.2 840.2,1369.2 842.2,1369.2 844.1,1369.2 846,1369.2 847.9,1369.3 849.8,1369.3 851.7,1369.3 853.6,1369.3 855.5,1369.3 857.4,1369.3 859.3,1369.3 861.3,1369.4 863.2,1369.4 865.1,1369.4 867,1369.4 868.9,1369.4 870.8,1369.4 872.7,1369.4 874.6,1369.4 876.5,1369.5 878.4,1369.5 880.4,1369.5 882.3,1369.5 884.2,1369.5 886.1,1369.5 888,1369.5 889.9,1369.5 891.8,1369.5 893.7,1369.5 895.6,1369.5 897.5,1369.5 899.5,1369.5 901.4,1369.5 903.3,1369.5 905.2,1369.5 907.1,1369.5 909,1369.6" fill="none" stroke="#0072BD" stroke-width="2" stroke-linejoin="round" stroke-dasharray="3 23 3 12" stroke-dashoffset="-6"/>
<polyline points="742.8,1367.8 744.8,1367.9 746.7,1368 748.6,1368 750.5,1368.1 752.4,1368.1 754.3,1368.2 756.2,1368.2 758.1,1368.2 760,1368.3 761.9,1368.3 763.9,1368.4 765.8,1368.4 767.7,1368.4 769.6,1368.5 771.5,1368.5 773.4,1368.5 775.3,1368.5 777.2,1368.6 779.1,1368.6 781,1368.6 783,1368.7 784.9,1368.7 786.8,1368.7 788.7,1368.7 790.6,1368.8 792.5,1368.8 794.4,1368.8 796.3,1368.8 798.2,1368.8 800.1,1368.9 802.1,1368.9 804,1368.9 805.9,1368.9 807.8,1368.9 809.7,1369 811.6,1369 813.5,1369 815.4,1369 817.3,1369 819.2,1369 821.1,1369.1 823.1,1369.1 825,1369.1 826.9,1369.1 828.8,1369.1 830.7,1369.1 832.6,1369.1 834.5,1369.2 836.4,1369.2 838.3,1369.2 840.2,1369.2 842.2,1369.2 844.1,1369.2 846,1369.2 847.9,1369.3 849.8,1369.3 851.7,1369.3 853.6,1369.3 855.5,1369.3 857.4,1369.3 859.3,1369.3 861.3,1369.4 863.2,1369.4 865.1,1369.4 867,1369.4 868.9,1369.4 870.8,1369.4 872.7,1369.4 874.6,1369.4 876.5,1369.5 878.4,1369.5 880.4,1369.5 882.3,1369.5 884.2,1369.5 886.1,1369.5 888,1369.5 889.9,1369.5 891.8,1369.5 893.7,1369.5 895.6,1369.5 897.5,1369.5 899.5,1369.5 901.4,1369.5 903.3,1369.5 905.2,1369.5 907.1,1369.5 909,1369.6" fill="none" stroke="#7E2F8E" stroke-width="2" stroke-linejoin="round" stroke-dasharray="3 19 2 25" stroke-dashoffset="-13"/>
<polyline points="453.5,1237 457.2,1242.1 460.9,1247.1 464.6,1252.2 468.3,1257.3 472,1262.3 475.7,1267.4 479.4,1272.5 483.2,1277.5 486.9,1282.6 490.6,1287.7 494.3,1292.7" fill="none" stroke="#7E2F8E" stroke-width="2.0" stroke-linejoin="round"/>
<polyline points="464.8,1252.5 465.2,1253 465.6,1253.5 465.9,1254 466.3,1254.5 466.7,1255 467,1255.5 467.4,1256 467.8,1256.5 468.1,1257 468.5,1257.5 468.9,1258" fill="none" stroke="#0072BD" stroke-width="2.0" stroke-linejoin="round"/>
<polyline points="468.9,1258 469.1,1258.4 469.4,1258.8 469.7,1259.1 469.9,1259.5 470.2,1259.9 470.5,1260.2 470.7,1260.6 471,1261 471.3,1261.3 471.6,1261.7 471.8,1262.1" fill="none" stroke="#D95319" stroke-width="2.0" stroke-linejoin="round"/>
<polyline points="482.9,1277.2 483.2,1277.5 483.4,1277.9 483.6,1278.2 483.9,1278.5 484.1,1278.8 484.4,1279.2 484.6,1279.5 484.8,1279.8 485.1,1280.1 485.3,1280.5 485.6,1280.8" fill="none" stroke="#0072BD" stroke-width="2.0" stroke-linejoin="round"/>
<polyline points="485.6,1280.8 485.8,1281.1 486,1281.4 486.2,1281.8 486.5,1282.1 486.7,1282.4 486.9,1282.7 487.2,1283 487.4,1283.3 487.6,1283.7 487.9,1284 488.1,1284.3" fill="none" stroke="#D95319" stroke-width="2.0" stroke-linejoin="round"/>
<polyline points="500.9,1299.8 502.2,1300.9 503.5,1302 504.8,1303.1 506.1,1304.2 507.4,1305.2 508.7,1306.3 510,1307.4 511.3,1308.5 512.6,1309.6 513.9,1310.7 515.2,1311.8" fill="none" stroke="#77AC30" stroke-width="2.0" stroke-linejoin="round"/>
<polyline points="515.2,1311.8 516.3,1312.8 517.5,1313.8 518.6,1314.8 519.8,1315.7 520.9,1316.7 522.1,1317.7 523.3,1318.7 524.4,1319.6 525.6,1320.6 526.7,1321.6 527.9,1322.6" fill="none" stroke="#D95319" stroke-width="2.0" stroke-linejoin="round"/>
<polyline points="535.2,1327.7 536,1328.2 536.9,1328.7 537.8,1329.3 538.6,1329.8 539.5,1330.3 540.4,1330.8 541.2,1331.4 542.1,1331.9 543,1332.4 543.8,1332.9 544.7,1333.4" fill="none" stroke="#77AC30" stroke-width="2.0" stroke-linejoin="round"/>
<polyline points="560.5,1342.1 562,1342.6 563.4,1343.2 564.9,1343.7 566.4,1344.2 567.8,1344.7 569.3,1345.2 570.7,1345.7 572.2,1346.3 573.6,1346.8 575.1,1347.3 576.5,1347.8" fill="none" stroke="#D95319" stroke-width="2.0" stroke-linejoin="round"/>
<polyline points="580.4,1349.2 580.8,1349.4 581.1,1349.5 581.5,1349.6 581.8,1349.8 582.2,1349.9 582.5,1350 582.8,1350.2 583.2,1350.3 583.5,1350.4 583.9,1350.6 584.2,1350.7" fill="none" stroke="#77AC30" stroke-width="2.0" stroke-linejoin="round"/>
<polyline points="599.9,1356.1 600.9,1356.4 601.9,1356.6 602.9,1356.8 603.9,1357 604.9,1357.2 605.9,1357.5 606.8,1357.7 607.8,1357.9 608.8,1358.1 609.8,1358.3 610.8,1358.6" fill="none" stroke="#0072BD" stroke-width="2.0" stroke-linejoin="round"/>
<polyline points="615.2,1359.2 615.9,1359.3 616.7,1359.4 617.4,1359.5 618.2,1359.6 619,1359.7 619.7,1359.8 620.5,1359.9 621.2,1360 622,1360 622.7,1360.1 623.5,1360.2" fill="none" stroke="#77AC30" stroke-width="2.0" stroke-linejoin="round"/>
<polyline points="628.7,1360.8 629.4,1360.8 630.1,1360.9 630.7,1361 631.4,1361 632.1,1361.1 632.8,1361.2 633.4,1361.2 634.1,1361.3 634.8,1361.3 635.5,1361.4 636.1,1361.5" fill="none" stroke="#7E2F8E" stroke-width="2.0" stroke-linejoin="round"/>
<polyline points="640.8,1361.9 641.4,1362 642,1362 642.7,1362.1 643.3,1362.2 643.9,1362.2 644.5,1362.3 645.1,1362.3 645.7,1362.4 646.3,1362.4 646.9,1362.5 647.5,1362.6" fill="none" stroke="#0072BD" stroke-width="2.0" stroke-linejoin="round"/>
<polyline points="651.8,1363 652.4,1363 652.9,1363.1 653.5,1363.1 654,1363.2 654.6,1363.2 655.2,1363.3 655.7,1363.3 656.3,1363.4 656.8,1363.4 657.4,1363.5 657.9,1363.5" fill="none" stroke="#7E2F8E" stroke-width="2.0" stroke-linejoin="round"/>
<polyline points="661.9,1363.9 662.4,1363.9 662.9,1363.9 663.4,1364 663.9,1364 664.4,1364.1 664.9,1364.1 665.4,1364.1 666,1364.2 666.5,1364.2 667,1364.3 667.5,1364.3" fill="none" stroke="#77AC30" stroke-width="2.0" stroke-linejoin="round"/>
<polyline points="671.1,1364.6 671.6,1364.6 672.1,1364.7 672.5,1364.7 673,1364.7 673.5,1364.7 674,1364.8 674.4,1364.8 674.9,1364.8 675.4,1364.9 675.9,1364.9 676.3,1364.9" fill="none" stroke="#D95319" stroke-width="2.0" stroke-linejoin="round"/>
<polyline points="687.7,1365.6 688.1,1365.6 688.5,1365.7 688.9,1365.7 689.3,1365.7 689.8,1365.7 690.2,1365.8 690.6,1365.8 691,1365.8 691.4,1365.8 691.8,1365.8 692.2,1365.9" fill="none" stroke="#0072BD" stroke-width="2.0" stroke-linejoin="round"/>
<polyline points="702.2,1366.4 702.6,1366.4 702.9,1366.4 703.3,1366.4 703.7,1366.4 704,1366.4 704.4,1366.5 704.8,1366.5 705.1,1366.5 705.5,1366.5 705.9,1366.5 706.2,1366.5" fill="none" stroke="#7E2F8E" stroke-width="2.0" stroke-linejoin="round"/>
<rect x="540.3" y="1319.1" width="58.2" height="33.6" fill="none" stroke="#000" stroke-width="4.6"/>
<line x1="660" y1="1136.5" x2="597" y2="1318" stroke="#000" stroke-width="2.2"/>
<rect x="579" y="920" width="341.5" height="216.5" fill="#fff" stroke="none"/>
<rect x="579" y="920" width="341.5" height="216.5" fill="none" stroke="#262626" stroke-width="2.2"/>
<line x1="579" y1="936" x2="584" y2="936" stroke="#262626" stroke-width="2"/>
<line x1="920.5" y1="936" x2="915.5" y2="936" stroke="#262626" stroke-width="2"/>
<text transform="translate(569.5,942.7) scale(1.09,1)" font-size="22.5" text-anchor="end" font-family="'Liberation Sans', Arial, sans-serif" fill="#262626">3.8987</text>
<line x1="579" y1="982.5" x2="584" y2="982.5" stroke="#262626" stroke-width="2"/>
<line x1="920.5" y1="982.5" x2="915.5" y2="982.5" stroke="#262626" stroke-width="2"/>
<text transform="translate(569.5,989.2) scale(1.09,1)" font-size="22.5" text-anchor="end" font-family="'Liberation Sans', Arial, sans-serif" fill="#262626">3.8987</text>
<line x1="579" y1="1029" x2="584" y2="1029" stroke="#262626" stroke-width="2"/>
<line x1="920.5" y1="1029" x2="915.5" y2="1029" stroke="#262626" stroke-width="2"/>
<text transform="translate(569.5,1035.7) scale(1.09,1)" font-size="22.5" text-anchor="end" font-family="'Liberation Sans', Arial, sans-serif" fill="#262626">3.8987</text>
<line x1="579" y1="1076" x2="584" y2="1076" stroke="#262626" stroke-width="2"/>
<line x1="920.5" y1="1076" x2="915.5" y2="1076" stroke="#262626" stroke-width="2"/>
<text transform="translate(569.5,1082.7) scale(1.09,1)" font-size="22.5" text-anchor="end" font-family="'Liberation Sans', Arial, sans-serif" fill="#262626">3.8987</text>
<line x1="579" y1="1122.5" x2="584" y2="1122.5" stroke="#262626" stroke-width="2"/>
<line x1="920.5" y1="1122.5" x2="915.5" y2="1122.5" stroke="#262626" stroke-width="2"/>
<text transform="translate(569.5,1129.2) scale(1.09,1)" font-size="22.5" text-anchor="end" font-family="'Liberation Sans', Arial, sans-serif" fill="#262626">3.8987</text>
<line x1="616.5" y1="1136.5" x2="616.5" y2="1131.5" stroke="#262626" stroke-width="2"/>
<line x1="616.5" y1="920" x2="616.5" y2="925" stroke="#262626" stroke-width="2"/>
<text transform="translate(616.5,1167.5) scale(1.09,1)" font-size="22.5" text-anchor="middle" font-family="'Liberation Sans', Arial, sans-serif" fill="#262626">0.82</text>
<line x1="677.5" y1="1136.5" x2="677.5" y2="1131.5" stroke="#262626" stroke-width="2"/>
<line x1="677.5" y1="920" x2="677.5" y2="925" stroke="#262626" stroke-width="2"/>
<text transform="translate(677.5,1167.5) scale(1.09,1)" font-size="22.5" text-anchor="middle" font-family="'Liberation Sans', Arial, sans-serif" fill="#262626">0.82</text>
<line x1="738.5" y1="1136.5" x2="738.5" y2="1131.5" stroke="#262626" stroke-width="2"/>
<line x1="738.5" y1="920" x2="738.5" y2="925" stroke="#262626" stroke-width="2"/>
<text transform="translate(738.5,1167.5) scale(1.09,1)" font-size="22.5" text-anchor="middle" font-family="'Liberation Sans', Arial, sans-serif" fill="#262626">0.82</text>
<line x1="800" y1="1136.5" x2="800" y2="1131.5" stroke="#262626" stroke-width="2"/>
<line x1="800" y1="920" x2="800" y2="925" stroke="#262626" stroke-width="2"/>
<text transform="translate(800,1167.5) scale(1.09,1)" font-size="22.5" text-anchor="middle" font-family="'Liberation Sans', Arial, sans-serif" fill="#262626">0.82</text>
<line x1="861" y1="1136.5" x2="861" y2="1131.5" stroke="#262626" stroke-width="2"/>
<line x1="861" y1="920" x2="861" y2="925" stroke="#262626" stroke-width="2"/>
<text transform="translate(861,1167.5) scale(1.09,1)" font-size="22.5" text-anchor="middle" font-family="'Liberation Sans', Arial, sans-serif" fill="#262626">0.8200</text>
<line x1="586" y1="1136.5" x2="586" y2="1134" stroke="#262626" stroke-width="1.5"/>
<line x1="586" y1="920" x2="586" y2="922.5" stroke="#262626" stroke-width="1.5"/>
<line x1="647.1" y1="1136.5" x2="647.1" y2="1134" stroke="#262626" stroke-width="1.5"/>
<line x1="647.1" y1="920" x2="647.1" y2="922.5" stroke="#262626" stroke-width="1.5"/>
<line x1="708.2" y1="1136.5" x2="708.2" y2="1134" stroke="#262626" stroke-width="1.5"/>
<line x1="708.2" y1="920" x2="708.2" y2="922.5" stroke="#262626" stroke-width="1.5"/>
<line x1="769.3" y1="1136.5" x2="769.3" y2="1134" stroke="#262626" stroke-width="1.5"/>
<line x1="769.3" y1="920" x2="769.3" y2="922.5" stroke="#262626" stroke-width="1.5"/>
<line x1="830.4" y1="1136.5" x2="830.4" y2="1134" stroke="#262626" stroke-width="1.5"/>
<line x1="830.4" y1="920" x2="830.4" y2="922.5" stroke="#262626" stroke-width="1.5"/>
<line x1="891.5" y1="1136.5" x2="891.5" y2="1134" stroke="#262626" stroke-width="1.5"/>
<line x1="891.5" y1="920" x2="891.5" y2="922.5" stroke="#262626" stroke-width="1.5"/>
<line x1="579" y1="981" x2="920.5" y2="1013" stroke="#7E2F8E" stroke-width="1.9" stroke-dasharray="14.7 5 3.8 5.9"/>
<line x1="579" y1="990.5" x2="920.5" y2="1022.5" stroke="#0072BD" stroke-width="1.9" stroke-dasharray="19 11"/>
<line x1="579" y1="1009.5" x2="920.5" y2="1041.5" stroke="#D95319" stroke-width="1.9"/>
<line x1="579" y1="1028" x2="920.5" y2="1060.5" stroke="#EDB120" stroke-width="1.9"/>
<line x1="579" y1="1037.5" x2="920.5" y2="1069.5" stroke="#77AC30" stroke-width="1.9" stroke-dasharray="19 11"/>
<polygon transform="translate(677.4,1036.8) scale(1.12,1)" points="0,-5.8 -1.7,-2.9 -5,-2.9 -3.3,-0 -5,2.9 -1.7,2.9 -0,5.8 1.7,2.9 5,2.9 3.3,0 5,-2.9 1.7,-2.9" fill="none" stroke="#EDB120" stroke-width="1.8"/>
<polygon points="677,1039.8 684.2,1047.7 677,1055.8 669.8,1047.7" fill="none" stroke="#77AC30" stroke-width="1.9"/>
<rect x="161.5" y="1308.2" width="242.1" height="181.7" fill="#fff" stroke="#262626" stroke-width="1.8"/>
<line x1="180" y1="1330" x2="270.8" y2="1330" stroke="#D95319" stroke-width="1.9"/>
<line x1="180" y1="1364.7" x2="270.8" y2="1364.7" stroke="#0072BD" stroke-width="1.9" stroke-dasharray="18.4 11.4"/>
<line x1="180" y1="1399.4" x2="270.8" y2="1399.4" stroke="#EDB120" stroke-width="1.9"/>
<polygon points="224.4,1392.1 222.3,1395.8 218.1,1395.8 220.2,1399.4 218.1,1403.1 222.3,1403.1 224.4,1406.7 226.5,1403.1 230.7,1403.1 228.6,1399.4 230.7,1395.8 226.5,1395.8" fill="#fff" stroke="#EDB120" stroke-width="1.9"/>
<line x1="180" y1="1433.8" x2="270.8" y2="1433.8" stroke="#7E2F8E" stroke-width="1.9" stroke-dasharray="18.4 4 3.2 4.2"/>
<line x1="180" y1="1468.2" x2="270.8" y2="1468.2" stroke="#77AC30" stroke-width="1.9" stroke-dasharray="18.4 11.4"/>
<polygon points="224.4,1461.4 229.6,1468.2 224.4,1475 219.2,1468.2" fill="none" stroke="#77AC30" stroke-width="1.9"/>
<text x="281.3" y="1338.8" font-size="27.2" text-anchor="start" font-family="'Liberation Serif', 'Times New Roman', serif" fill="#262626">V=0 v</text>
<text x="281.3" y="1373.5" font-size="27.2" text-anchor="start" font-family="'Liberation Serif', 'Times New Roman', serif" fill="#262626">V=10 v</text>
<text x="281.3" y="1408.2" font-size="27.2" text-anchor="start" font-family="'Liberation Serif', 'Times New Roman', serif" fill="#262626">V=-10 v</text>
<text x="281.3" y="1442.6" font-size="27.2" text-anchor="start" font-family="'Liberation Serif', 'Times New Roman', serif" fill="#262626">V=15 v</text>
<text x="281.3" y="1477" font-size="27.2" text-anchor="start" font-family="'Liberation Serif', 'Times New Roman', serif" fill="#262626">V=-15 v</text>
</g>
<g id="panel-c">
<rect x="100.5" y="1672.5" width="899.5" height="706" fill="none" stroke="#262626" stroke-width="2.2"/>
<line x1="100.5" y1="2378.5" x2="100.5" y2="2369.5" stroke="#262626" stroke-width="2"/>
<line x1="100.5" y1="1672.5" x2="100.5" y2="1681.5" stroke="#262626" stroke-width="2"/>
<line x1="154.7" y1="2378.5" x2="154.7" y2="2374" stroke="#262626" stroke-width="2"/>
<line x1="154.7" y1="1672.5" x2="154.7" y2="1677" stroke="#262626" stroke-width="2"/>
<line x1="186.3" y1="2378.5" x2="186.3" y2="2374" stroke="#262626" stroke-width="2"/>
<line x1="186.3" y1="1672.5" x2="186.3" y2="1677" stroke="#262626" stroke-width="2"/>
<line x1="208.8" y1="2378.5" x2="208.8" y2="2374" stroke="#262626" stroke-width="2"/>
<line x1="208.8" y1="1672.5" x2="208.8" y2="1677" stroke="#262626" stroke-width="2"/>
<line x1="226.2" y1="2378.5" x2="226.2" y2="2374" stroke="#262626" stroke-width="2"/>
<line x1="226.2" y1="1672.5" x2="226.2" y2="1677" stroke="#262626" stroke-width="2"/>
<line x1="240.5" y1="2378.5" x2="240.5" y2="2374" stroke="#262626" stroke-width="2"/>
<line x1="240.5" y1="1672.5" x2="240.5" y2="1677" stroke="#262626" stroke-width="2"/>
<line x1="252.5" y1="2378.5" x2="252.5" y2="2374" stroke="#262626" stroke-width="2"/>
<line x1="252.5" y1="1672.5" x2="252.5" y2="1677" stroke="#262626" stroke-width="2"/>
<line x1="263" y1="2378.5" x2="263" y2="2374" stroke="#262626" stroke-width="2"/>
<line x1="263" y1="1672.5" x2="263" y2="1677" stroke="#262626" stroke-width="2"/>
<line x1="272.2" y1="2378.5" x2="272.2" y2="2374" stroke="#262626" stroke-width="2"/>
<line x1="272.2" y1="1672.5" x2="272.2" y2="1677" stroke="#262626" stroke-width="2"/>
<line x1="280.4" y1="2378.5" x2="280.4" y2="2369.5" stroke="#262626" stroke-width="2"/>
<line x1="280.4" y1="1672.5" x2="280.4" y2="1681.5" stroke="#262626" stroke-width="2"/>
<line x1="334.6" y1="2378.5" x2="334.6" y2="2374" stroke="#262626" stroke-width="2"/>
<line x1="334.6" y1="1672.5" x2="334.6" y2="1677" stroke="#262626" stroke-width="2"/>
<line x1="366.2" y1="2378.5" x2="366.2" y2="2374" stroke="#262626" stroke-width="2"/>
<line x1="366.2" y1="1672.5" x2="366.2" y2="1677" stroke="#262626" stroke-width="2"/>
<line x1="388.7" y1="2378.5" x2="388.7" y2="2374" stroke="#262626" stroke-width="2"/>
<line x1="388.7" y1="1672.5" x2="388.7" y2="1677" stroke="#262626" stroke-width="2"/>
<line x1="406.1" y1="2378.5" x2="406.1" y2="2374" stroke="#262626" stroke-width="2"/>
<line x1="406.1" y1="1672.5" x2="406.1" y2="1677" stroke="#262626" stroke-width="2"/>
<line x1="420.4" y1="2378.5" x2="420.4" y2="2374" stroke="#262626" stroke-width="2"/>
<line x1="420.4" y1="1672.5" x2="420.4" y2="1677" stroke="#262626" stroke-width="2"/>
<line x1="432.4" y1="2378.5" x2="432.4" y2="2374" stroke="#262626" stroke-width="2"/>
<line x1="432.4" y1="1672.5" x2="432.4" y2="1677" stroke="#262626" stroke-width="2"/>
<line x1="442.9" y1="2378.5" x2="442.9" y2="2374" stroke="#262626" stroke-width="2"/>
<line x1="442.9" y1="1672.5" x2="442.9" y2="1677" stroke="#262626" stroke-width="2"/>
<line x1="452.1" y1="2378.5" x2="452.1" y2="2374" stroke="#262626" stroke-width="2"/>
<line x1="452.1" y1="1672.5" x2="452.1" y2="1677" stroke="#262626" stroke-width="2"/>
<line x1="460.3" y1="2378.5" x2="460.3" y2="2369.5" stroke="#262626" stroke-width="2"/>
<line x1="460.3" y1="1672.5" x2="460.3" y2="1681.5" stroke="#262626" stroke-width="2"/>
<line x1="514.5" y1="2378.5" x2="514.5" y2="2374" stroke="#262626" stroke-width="2"/>
<line x1="514.5" y1="1672.5" x2="514.5" y2="1677" stroke="#262626" stroke-width="2"/>
<line x1="546.1" y1="2378.5" x2="546.1" y2="2374" stroke="#262626" stroke-width="2"/>
<line x1="546.1" y1="1672.5" x2="546.1" y2="1677" stroke="#262626" stroke-width="2"/>
<line x1="568.6" y1="2378.5" x2="568.6" y2="2374" stroke="#262626" stroke-width="2"/>
<line x1="568.6" y1="1672.5" x2="568.6" y2="1677" stroke="#262626" stroke-width="2"/>
<line x1="586" y1="2378.5" x2="586" y2="2374" stroke="#262626" stroke-width="2"/>
<line x1="586" y1="1672.5" x2="586" y2="1677" stroke="#262626" stroke-width="2"/>
<line x1="600.3" y1="2378.5" x2="600.3" y2="2374" stroke="#262626" stroke-width="2"/>
<line x1="600.3" y1="1672.5" x2="600.3" y2="1677" stroke="#262626" stroke-width="2"/>
<line x1="612.3" y1="2378.5" x2="612.3" y2="2374" stroke="#262626" stroke-width="2"/>
<line x1="612.3" y1="1672.5" x2="612.3" y2="1677" stroke="#262626" stroke-width="2"/>
<line x1="622.8" y1="2378.5" x2="622.8" y2="2374" stroke="#262626" stroke-width="2"/>
<line x1="622.8" y1="1672.5" x2="622.8" y2="1677" stroke="#262626" stroke-width="2"/>
<line x1="632" y1="2378.5" x2="632" y2="2374" stroke="#262626" stroke-width="2"/>
<line x1="632" y1="1672.5" x2="632" y2="1677" stroke="#262626" stroke-width="2"/>
<line x1="640.2" y1="2378.5" x2="640.2" y2="2369.5" stroke="#262626" stroke-width="2"/>
<line x1="640.2" y1="1672.5" x2="640.2" y2="1681.5" stroke="#262626" stroke-width="2"/>
<line x1="694.4" y1="2378.5" x2="694.4" y2="2374" stroke="#262626" stroke-width="2"/>
<line x1="694.4" y1="1672.5" x2="694.4" y2="1677" stroke="#262626" stroke-width="2"/>
<line x1="726" y1="2378.5" x2="726" y2="2374" stroke="#262626" stroke-width="2"/>
<line x1="726" y1="1672.5" x2="726" y2="1677" stroke="#262626" stroke-width="2"/>
<line x1="748.5" y1="2378.5" x2="748.5" y2="2374" stroke="#262626" stroke-width="2"/>
<line x1="748.5" y1="1672.5" x2="748.5" y2="1677" stroke="#262626" stroke-width="2"/>
<line x1="765.9" y1="2378.5" x2="765.9" y2="2374" stroke="#262626" stroke-width="2"/>
<line x1="765.9" y1="1672.5" x2="765.9" y2="1677" stroke="#262626" stroke-width="2"/>
<line x1="780.2" y1="2378.5" x2="780.2" y2="2374" stroke="#262626" stroke-width="2"/>
<line x1="780.2" y1="1672.5" x2="780.2" y2="1677" stroke="#262626" stroke-width="2"/>
<line x1="792.2" y1="2378.5" x2="792.2" y2="2374" stroke="#262626" stroke-width="2"/>
<line x1="792.2" y1="1672.5" x2="792.2" y2="1677" stroke="#262626" stroke-width="2"/>
<line x1="802.7" y1="2378.5" x2="802.7" y2="2374" stroke="#262626" stroke-width="2"/>
<line x1="802.7" y1="1672.5" x2="802.7" y2="1677" stroke="#262626" stroke-width="2"/>
<line x1="811.9" y1="2378.5" x2="811.9" y2="2374" stroke="#262626" stroke-width="2"/>
<line x1="811.9" y1="1672.5" x2="811.9" y2="1677" stroke="#262626" stroke-width="2"/>
<line x1="820.1" y1="2378.5" x2="820.1" y2="2369.5" stroke="#262626" stroke-width="2"/>
<line x1="820.1" y1="1672.5" x2="820.1" y2="1681.5" stroke="#262626" stroke-width="2"/>
<line x1="874.3" y1="2378.5" x2="874.3" y2="2374" stroke="#262626" stroke-width="2"/>
<line x1="874.3" y1="1672.5" x2="874.3" y2="1677" stroke="#262626" stroke-width="2"/>
<line x1="905.9" y1="2378.5" x2="905.9" y2="2374" stroke="#262626" stroke-width="2"/>
<line x1="905.9" y1="1672.5" x2="905.9" y2="1677" stroke="#262626" stroke-width="2"/>
<line x1="928.4" y1="2378.5" x2="928.4" y2="2374" stroke="#262626" stroke-width="2"/>
<line x1="928.4" y1="1672.5" x2="928.4" y2="1677" stroke="#262626" stroke-width="2"/>
<line x1="945.8" y1="2378.5" x2="945.8" y2="2374" stroke="#262626" stroke-width="2"/>
<line x1="945.8" y1="1672.5" x2="945.8" y2="1677" stroke="#262626" stroke-width="2"/>
<line x1="960.1" y1="2378.5" x2="960.1" y2="2374" stroke="#262626" stroke-width="2"/>
<line x1="960.1" y1="1672.5" x2="960.1" y2="1677" stroke="#262626" stroke-width="2"/>
<line x1="972.1" y1="2378.5" x2="972.1" y2="2374" stroke="#262626" stroke-width="2"/>
<line x1="972.1" y1="1672.5" x2="972.1" y2="1677" stroke="#262626" stroke-width="2"/>
<line x1="982.6" y1="2378.5" x2="982.6" y2="2374" stroke="#262626" stroke-width="2"/>
<line x1="982.6" y1="1672.5" x2="982.6" y2="1677" stroke="#262626" stroke-width="2"/>
<line x1="991.8" y1="2378.5" x2="991.8" y2="2374" stroke="#262626" stroke-width="2"/>
<line x1="991.8" y1="1672.5" x2="991.8" y2="1677" stroke="#262626" stroke-width="2"/>
<line x1="1000" y1="2378.5" x2="1000" y2="2369.5" stroke="#262626" stroke-width="2"/>
<line x1="1000" y1="1672.5" x2="1000" y2="1681.5" stroke="#262626" stroke-width="2"/>
<text x="88.5" y="2388.8" font-size="30" text-anchor="end" font-family="'Liberation Serif', 'Times New Roman', serif" fill="#262626">0</text>
<line x1="100.5" y1="2260.8" x2="109.5" y2="2260.8" stroke="#262626" stroke-width="2"/>
<line x1="1000" y1="2260.8" x2="991" y2="2260.8" stroke="#262626" stroke-width="2"/>
<text x="88.5" y="2271.1" font-size="30" text-anchor="end" font-family="'Liberation Serif', 'Times New Roman', serif" fill="#262626">0.5</text>
<line x1="100.5" y1="2143.2" x2="109.5" y2="2143.2" stroke="#262626" stroke-width="2"/>
<line x1="1000" y1="2143.2" x2="991" y2="2143.2" stroke="#262626" stroke-width="2"/>
<text x="88.5" y="2153.5" font-size="30" text-anchor="end" font-family="'Liberation Serif', 'Times New Roman', serif" fill="#262626">1</text>
<line x1="100.5" y1="2025.5" x2="109.5" y2="2025.5" stroke="#262626" stroke-width="2"/>
<line x1="1000" y1="2025.5" x2="991" y2="2025.5" stroke="#262626" stroke-width="2"/>
<text x="88.5" y="2035.8" font-size="30" text-anchor="end" font-family="'Liberation Serif', 'Times New Roman', serif" fill="#262626">1.5</text>
<line x1="100.5" y1="1907.8" x2="109.5" y2="1907.8" stroke="#262626" stroke-width="2"/>
<line x1="1000" y1="1907.8" x2="991" y2="1907.8" stroke="#262626" stroke-width="2"/>
<text x="88.5" y="1918.1" font-size="30" text-anchor="end" font-family="'Liberation Serif', 'Times New Roman', serif" fill="#262626">2</text>
<line x1="100.5" y1="1790.2" x2="109.5" y2="1790.2" stroke="#262626" stroke-width="2"/>
<line x1="1000" y1="1790.2" x2="991" y2="1790.2" stroke="#262626" stroke-width="2"/>
<text x="88.5" y="1800.5" font-size="30" text-anchor="end" font-family="'Liberation Serif', 'Times New Roman', serif" fill="#262626">2.5</text>
<text x="88.5" y="1682.8" font-size="30" text-anchor="end" font-family="'Liberation Serif', 'Times New Roman', serif" fill="#262626">3</text>
<text x="101.8" y="2426.4" font-size="30.5" text-anchor="middle" font-family="'Liberation Serif', 'Times New Roman', serif" fill="#262626">10<tspan dy="-14.8" font-size="23">-3</tspan></text>
<text x="281.7" y="2426.4" font-size="30.5" text-anchor="middle" font-family="'Liberation Serif', 'Times New Roman', serif" fill="#262626">10<tspan dy="-14.8" font-size="23">-2</tspan></text>
<text x="461.6" y="2426.4" font-size="30.5" text-anchor="middle" font-family="'Liberation Serif', 'Times New Roman', serif" fill="#262626">10<tspan dy="-14.8" font-size="23">-1</tspan></text>
<text x="641.5" y="2426.4" font-size="30.5" text-anchor="middle" font-family="'Liberation Serif', 'Times New Roman', serif" fill="#262626">10<tspan dy="-14.8" font-size="23">0</tspan></text>
<text x="821.4" y="2426.4" font-size="30.5" text-anchor="middle" font-family="'Liberation Serif', 'Times New Roman', serif" fill="#262626">10<tspan dy="-14.8" font-size="23">1</tspan></text>
<text x="1001.3" y="2426.4" font-size="30.5" text-anchor="middle" font-family="'Liberation Serif', 'Times New Roman', serif" fill="#262626">10<tspan dy="-14.8" font-size="23">2</tspan></text>
<text x="391.9" y="2468" font-size="33" textLength="318.4" lengthAdjust="spacingAndGlyphs" font-family="'Liberation Serif', 'Times New Roman', serif" fill="#262626">Wave number K(1/nm)</text>
<text transform="translate(22.1,2195.5) rotate(-90)" font-size="32.5" textLength="338.9" lengthAdjust="spacingAndGlyphs" font-family="'Liberation Serif', 'Times New Roman', serif" fill="#262626">Phase Velocity C<tspan dy="15.8" font-size="24.8">p</tspan><tspan dy="-15.8"> (Km/s)</tspan></text>
<text class="cap" x="460" y="2510.8" font-size="32" font-family="'Liberation Serif', 'Times New Roman', serif" fill="#262626">(c)<tspan font-size="25.2" x="499.7">bending wave</tspan></text>
<polyline points="100.5,2346.7 154.7,2316 186.3,2285.8 208.8,2257.1 226.2,2226.2 240.5,2201 252.5,2175.7 263,2152.9 272.2,2132.1 280.4,2111.7 287.8,2093.4 294.6,2077.8 300.9,2061.8 306.7,2048.2 312.1,2036.4 317.1,2024 321.9,2012.2 326.3,2002.4 330.5,1994.1 334.6,1986.2 338.4,1978.7 342,1971.7 345.5,1965.1 348.8,1958.8 352,1952.8 355.1,1947.2 358,1941.9 360.8,1936.9 363.6,1932.1 366.2,1927.7 368.8,1923.6 371.3,1919.8 373.7,1916.2 376,1912.8 378.3,1909.6 380.5,1906.6 382.6,1903.8 384.7,1901.2 386.7,1898.7 388.7,1896.4 390.6,1894.1 392.5,1892.1 394.4,1890.1 396.2,1888.2 397.9,1886.5 399.6,1884.8 401.3,1883.2 403,1881.6 404.6,1880.1 406.1,1878.7 407.7,1877.3 409.2,1876 410.7,1874.7 412.2,1873.4 413.6,1872.2 415,1871 416.4,1869.9 417.7,1868.8 419.1,1867.7 420.4,1866.6 421.7,1865.6 423,1864.6 424.2,1863.7 425.4,1862.7 426.6,1861.9 427.8,1861 429,1860.1 430.2,1859.3 431.3,1858.5 432.4,1857.7 433.5,1857 434.6,1856.2 435.7,1855.5 436.8,1854.8 437.8,1854 438.9,1853.4 439.9,1852.7 440.9,1852 441.9,1851.3 442.9,1850.7 443.8,1850 444.8,1849.4 445.7,1848.8 446.7,1848.1 447.6,1847.5 448.5,1846.9 449.4,1846.3 450.3,1845.7 451.2,1845.1 452.1,1844.6 452.9,1844 453.8,1843.4 454.6,1842.9 455.5,1842.4 456.3,1841.8 457.1,1841.3 457.9,1840.8 458.7,1840.3 459.5,1839.8 460.3,1839.3 461.1,1838.8 461.8,1838.3 462.6,1837.8 463.4,1837.3 464.1,1836.8 464.9,1836.3 465.6,1835.8 466.3,1835.3 467,1834.8 467.7,1834.4 468.5,1833.9 469.2,1833.4 469.8,1832.9 470.5,1832.4 471.2,1831.9 471.9,1831.4 472.6,1831 473.2,1830.5 473.9,1830 474.5,1829.5 475.2,1829.1 476.5,1828.1 477.7,1827.2 479,1826.3 480.2,1825.4 481.4,1824.5 482.6,1823.6 483.7,1822.7 484.9,1821.8 486,1820.9 487.1,1820 488.2,1819.1 489.3,1818.2 490.4,1817.4 491.5,1816.5 492.5,1815.6 493.5,1814.7 494.5,1813.9 495.5,1813 496.5,1812.1 497.5,1811.1 498.5,1810.2 499.4,1809.3 500.4,1808.4 501.3,1807.5 502.2,1806.6 503.1,1805.7 504,1804.9 504.9,1804 505.8,1803.2 506.7,1802.4 507.5,1801.5 508.4,1800.7 509.2,1799.9 510,1799.1 510.9,1798.4 511.7,1797.6 512.5,1796.8 513.3,1796 514.1,1795.3 514.8,1794.6 515.6,1793.8 516.4,1793.1 517.1,1792.4 517.9,1791.6 518.6,1790.9 519.4,1790.2 520.1,1789.6 520.8,1788.9 521.5,1788.2 522.3,1787.5 523,1786.9 523.7,1786.2 524.3,1785.5 525,1784.9 525.7,1784.2 526.4,1783.6 527.1,1783 527.7,1782.3 528.4,1781.7 529,1781.1 529.7,1780.4 530.3,1779.8 530.9,1779.2 531.6,1778.6 532.2,1778 532.8,1777.4 533.4,1776.8 534,1776.2 534.7,1775.6 535.3,1775 535.9,1774.5 536.4,1773.9 537,1773.3 537.6,1772.8 538.5,1772 539.3,1771.2 540.2,1770.4 541,1769.6 541.9,1768.9 542.7,1768.1 543.5,1767.4 544.3,1766.7 545.1,1766 545.9,1765.4 546.7,1764.7 547.4,1764.1 548.2,1763.5 548.9,1762.8 549.7,1762.2 550.4,1761.6 551.2,1761 551.9,1760.4 552.6,1759.9 553.3,1759.3 554.1,1758.8 554.8,1758.2 555.5,1757.7 556.1,1757.3 556.8,1756.8 557.5,1756.4 558.4,1755.9 559.3,1755.4 560.2,1754.9 561,1754.4 561.9,1753.9 562.7,1753.4 563.6,1753 564.4,1752.5 565.2,1752.1 566,1751.8 566.8,1751.4 567.6,1751.1 568.4,1750.9 569.2,1750.7 570.2,1750.5 571.1,1750.3 572,1750.2 573,1750.1 573.9,1750 574.8,1749.9 575.7,1749.8 576.6,1749.8 577.5,1749.7 578.3,1749.7 579.2,1749.7 580,1749.6 580.9,1749.7 581.7,1749.7 582.5,1749.8 583.3,1749.9 584.1,1750.1 584.9,1750.2 585.7,1750.4 586.5,1750.6 587.4,1750.8 588.4,1751.1 589.3,1751.3 590.2,1751.5 591,1751.8 591.9,1752.1 592.8,1752.5 593.6,1752.9 594.5,1753.3 595.3,1753.7 596.1,1754.1 597,1754.6 597.8,1755.1 598.6,1755.6 599.4,1756.1 600.2,1756.6 600.9,1757.1 601.7,1757.6 602.5,1758.2 603.2,1758.7 604,1759.3 604.6,1759.8 605.2,1760.4 605.8,1760.9 606.4,1761.5 607,1762 607.6,1762.6 608.2,1763.2 608.8,1763.8 609.4,1764.4 610,1765 610.5,1765.6 611.1,1766.2 611.7,1766.8 612.2,1767.5 612.8,1768.1 613.3,1768.7 613.9,1769.3 614.4,1769.9 615,1770.5 615.5,1771.2 616,1771.8 616.6,1772.5 617.1,1773.1 617.6,1773.8 618.1,1774.4 618.7,1775.1 619.2,1775.8 619.7,1776.4 620.2,1777.1 620.7,1777.8 621.2,1778.5 621.7,1779.2 622.2,1779.9 622.7,1780.6 623.2,1781.2 623.6,1781.9 624.1,1782.6 624.6,1783.3 625.1,1784 625.5,1784.7 626,1785.4 626.5,1786.1 626.9,1786.8 627.4,1787.5 627.9,1788.2 628.3,1788.9 628.8,1789.7 629.2,1790.4 629.7,1791.1 630.1,1791.8 630.6,1792.6 631,1793.3 631.4,1794 631.9,1794.7 632.3,1795.5 632.7,1796.2 633.2,1796.9 633.6,1797.6 634,1798.4 634.4,1799.1 634.9,1799.8 635.3,1800.6 635.7,1801.3 636.1,1802 636.5,1802.7 636.9,1803.5 637.3,1804.2 637.7,1804.9 638.1,1805.6 638.5,1806.3 638.9,1807 639.3,1807.7 639.7,1808.5 640.1,1809.2 694.4,1917.8 726,1962.4 748.5,1981.1 765.9,1991.2 780.2,1997.5 792.2,2001.2 802.7,2003.8 811.9,2005.7 820.1,2007 827.5,2007.8 834.3,2008.5 840.6,2009.1 846.4,2009.6 851.8,2010 856.8,2010.3 861.6,2010.6 866,2010.8 870.2,2010.9 874.3,2011 878.1,2011.1 881.7,2011.2 885.2,2011.3 888.5,2011.3 891.7,2011.4 894.8,2011.4 897.7,2011.5 900.5,2011.6 903.3,2011.6 905.9,2011.6 908.5,2011.7 911,2011.7 913.4,2011.8 915.7,2011.8 918,2011.8 920.2,2011.9 922.3,2011.9 924.4,2011.9 926.4,2012 928.4,2012 930.3,2012 932.2,2012.1 934.1,2012.1 935.9,2012.1 937.6,2012.1 939.3,2012.1 941,2012.2 942.7,2012.2 944.3,2012.2 945.8,2012.2 947.4,2012.2 948.9,2012.2 950.4,2012.3 951.9,2012.3 953.3,2012.3 954.7,2012.3 956.1,2012.3 957.4,2012.3 958.8,2012.3 960.1,2012.3 961.4,2012.4 962.7,2012.4 963.9,2012.4 965.1,2012.4 966.3,2012.4 967.5,2012.4 968.7,2012.4 969.9,2012.4 971,2012.4 972.1,2012.4 973.2,2012.4 974.3,2012.4 975.4,2012.4 976.5,2012.4 977.5,2012.4 978.6,2012.5 979.6,2012.5 980.6,2012.5 981.6,2012.5 982.6,2012.5 983.5,2012.5 984.5,2012.5 985.4,2012.5 986.4,2012.5 987.3,2012.5 988.2,2012.5 989.1,2012.5 990,2012.5 990.9,2012.5 991.8,2012.5 992.6,2012.5 993.5,2012.5 994.3,2012.5 995.2,2012.5 996,2012.5 996.8,2012.5 997.6,2012.5 998.4,2012.5 1000,2012.5" fill="none" stroke="#0072BD" stroke-width="3.0" stroke-linejoin="round"/>
<polyline points="100.5,2321.8 154.7,2300.3 186.3,2274.6 208.8,2248.3 226.2,2219.2 240.5,2194.9 252.5,2170.3 263,2148.1 272.2,2127.6 280.4,2107.6 287.8,2089.6 294.6,2074.2 300.9,2058.4 306.7,2044.9 312.1,2033.2 317.1,2020.9 321.9,2009.2 326.3,1999.5 330.5,1991.2 334.6,1983.4 338.4,1976 342,1969 345.5,1962.4 348.8,1956.2 352,1950.2 355.1,1944.7 358,1939.4 360.8,1934.4 363.6,1929.7 366.2,1925.3 368.8,1921.2 371.3,1917.4 373.7,1913.8 376,1910.4 378.3,1907.3 380.5,1904.3 382.6,1901.5 384.7,1898.9 386.7,1896.4 388.7,1894.1 390.6,1891.9 392.5,1889.8 394.4,1887.9 396.2,1886 397.9,1884.2 399.6,1882.6 401.3,1881 403,1879.4 404.6,1877.9 406.1,1876.5 407.7,1875.1 409.2,1873.8 410.7,1872.5 412.2,1871.2 413.6,1870 415,1868.9 416.4,1867.7 417.7,1866.6 419.1,1865.5 420.4,1864.5 421.7,1863.5 423,1862.5 424.2,1861.6 425.4,1860.6 426.6,1859.7 427.8,1858.9 429,1858 430.2,1857.2 431.3,1856.4 432.4,1855.6 433.5,1854.9 434.6,1854.1 435.7,1853.4 436.8,1852.7 437.8,1852 438.9,1851.3 439.9,1850.6 440.9,1849.9 441.9,1849.3 442.9,1848.6 443.8,1848 444.8,1847.3 445.7,1846.7 446.7,1846.1 447.6,1845.5 448.5,1844.9 449.4,1844.3 450.3,1843.7 451.2,1843.1 452.1,1842.5 452.9,1842 453.8,1841.4 454.6,1840.9 455.5,1840.4 456.3,1839.8 457.1,1839.3 457.9,1838.8 458.7,1838.3 459.5,1837.8 460.3,1837.3 461.1,1836.8 461.8,1836.3 462.6,1835.8 463.4,1835.3 464.1,1834.8 464.9,1834.3 465.6,1833.9 466.3,1833.4 467,1832.9 467.7,1832.4 468.5,1831.9 469.2,1831.4 469.8,1831 470.5,1830.5 471.2,1830 471.9,1829.5 472.6,1829 473.2,1828.6 473.9,1828.1 474.5,1827.6 475.8,1826.7 477.1,1825.8 478.4,1824.8 479.6,1823.9 480.8,1823 482,1822.1 483.2,1821.2 484.3,1820.4 485.5,1819.5 486.6,1818.6 487.7,1817.7 488.8,1816.8 489.9,1816 490.9,1815.1 492,1814.2 493,1813.3 494,1812.5 495,1811.6 496,1810.7 497,1809.8 498,1808.9 499,1807.9 499.9,1807 500.8,1806.1 501.8,1805.2 502.7,1804.4 503.6,1803.5 504.5,1802.7 505.4,1801.8 506.2,1801 507.1,1800.2 507.9,1799.4 508.8,1798.6 509.6,1797.8 510.4,1797 511.3,1796.2 512.1,1795.5 512.9,1794.7 513.7,1794 514.5,1793.2 515.2,1792.5 516,1791.8 516.8,1791 517.5,1790.3 518.3,1789.6 519,1788.9 519.7,1788.2 520.5,1787.6 521.2,1786.9 521.9,1786.2 522.6,1785.5 523.3,1784.9 524,1784.2 524.7,1783.6 525.4,1783 526.1,1782.3 526.7,1781.7 527.4,1781 528,1780.4 528.7,1779.8 529.3,1779.2 530,1778.5 530.6,1777.9 531.3,1777.3 531.9,1776.7 532.5,1776.1 533.1,1775.5 533.7,1774.9 534.4,1774.4 535,1773.8 535.6,1773.2 536.1,1772.7 536.7,1772.1 537.3,1771.5 538.2,1770.7 539.1,1769.9 539.9,1769.2 540.7,1768.4 541.6,1767.6 542.4,1766.9 543.2,1766.2 544,1765.5 544.8,1764.8 545.6,1764.2 546.4,1763.5 547.2,1762.9 547.9,1762.2 548.7,1761.6 549.4,1761 550.2,1760.4 550.9,1759.8 551.7,1759.2 552.4,1758.7 553.1,1758.1 553.8,1757.6 554.5,1757.1 555.2,1756.6 555.9,1756.1 556.6,1755.6 557.3,1755.2 558.2,1754.7 559.1,1754.2 559.9,1753.7 560.8,1753.2 561.7,1752.7 562.5,1752.3 563.4,1751.8 564.2,1751.4 565,1751 565.8,1750.6 566.6,1750.3 567.4,1750 568.2,1749.7 569,1749.5 570,1749.3 570.9,1749.2 571.9,1749.1 572.8,1749 573.7,1748.9 574.6,1748.8 575.5,1748.7 576.4,1748.6 577.3,1748.6 578.2,1748.6 579,1748.6 579.9,1748.6 580.7,1748.6 581.5,1748.6 582.4,1748.7 583.2,1748.8 584,1749 584.8,1749.1 585.6,1749.3 586.4,1749.5 587.3,1749.8 588.2,1750 589.1,1750.3 590,1750.5 590.9,1750.8 591.8,1751.1 592.6,1751.5 593.5,1751.8 594.3,1752.2 595.2,1752.7 596,1753.1 596.8,1753.6 597.6,1754.1 598.4,1754.6 599.2,1755.1 600,1755.6 600.8,1756.1 601.6,1756.7 602.3,1757.2 603.1,1757.8 603.9,1758.4 604.5,1758.9 605.1,1759.4 605.7,1760 606.3,1760.5 606.9,1761.1 607.5,1761.7 608.1,1762.3 608.7,1762.9 609.3,1763.5 609.8,1764.1 610.4,1764.7 611,1765.3 611.5,1766 612.1,1766.6 612.7,1767.2 613.2,1767.8 613.8,1768.4 614.3,1769 614.9,1769.7 615.4,1770.3 615.9,1771 616.5,1771.6 617,1772.3 617.5,1772.9 618,1773.6 618.6,1774.3 619.1,1774.9 619.6,1775.6 620.1,1776.3 620.6,1777 621.1,1777.7 621.6,1778.4 622.1,1779.1 622.6,1779.7 623.1,1780.4 623.5,1781.1 624,1781.8 624.5,1782.5 625,1783.2 625.5,1783.9 625.9,1784.6 626.4,1785.3 626.9,1786 627.3,1786.8 627.8,1787.5 628.2,1788.2 628.7,1788.9 629.1,1789.6 629.6,1790.4 630,1791.1 630.5,1791.8 630.9,1792.5 631.4,1793.3 631.8,1794 632.2,1794.7 632.7,1795.5 633.1,1796.2 633.5,1796.9 633.9,1797.7 634.4,1798.4 634.8,1799.1 635.2,1799.9 635.6,1800.6 636,1801.3 636.4,1802 636.8,1802.8 637.3,1803.5 637.7,1804.2 638.1,1804.9 638.5,1805.7 638.9,1806.4 639.3,1807.1 639.7,1807.8 640,1808.5 694.4,1917.6 726,1962.3 748.5,1981 765.9,1991.1 780.2,1997.5 792.2,2001.1 802.7,2003.7 811.9,2005.7 820.1,2007 827.5,2007.8 834.3,2008.5 840.6,2009.1 846.4,2009.6 851.8,2010 856.8,2010.3 861.6,2010.6 866,2010.8 870.2,2010.9 874.3,2011 878.1,2011.1 881.7,2011.2 885.2,2011.2 888.5,2011.3 891.7,2011.4 894.8,2011.4 897.7,2011.5 900.5,2011.6 903.3,2011.6 905.9,2011.6 908.5,2011.7 911,2011.7 913.4,2011.8 915.7,2011.8 918,2011.8 920.2,2011.9 922.3,2011.9 924.4,2011.9 926.4,2012 928.4,2012 930.3,2012 932.2,2012.1 934.1,2012.1 935.9,2012.1 937.6,2012.1 939.3,2012.1 941,2012.2 942.7,2012.2 944.3,2012.2 945.8,2012.2 947.4,2012.2 948.9,2012.2 950.4,2012.3 951.9,2012.3 953.3,2012.3 954.7,2012.3 956.1,2012.3 957.4,2012.3 958.8,2012.3 960.1,2012.3 961.4,2012.4 962.7,2012.4 963.9,2012.4 965.1,2012.4 966.3,2012.4 967.5,2012.4 968.7,2012.4 969.9,2012.4 971,2012.4 972.1,2012.4 973.2,2012.4 974.3,2012.4 975.4,2012.4 976.5,2012.4 977.5,2012.4 978.6,2012.5 979.6,2012.5 980.6,2012.5 981.6,2012.5 982.6,2012.5 983.5,2012.5 984.5,2012.5 985.4,2012.5 986.4,2012.5 987.3,2012.5 988.2,2012.5 989.1,2012.5 990,2012.5 990.9,2012.5 991.8,2012.5 992.6,2012.5 993.5,2012.5 994.3,2012.5 995.2,2012.5 996,2012.5 996.8,2012.5 997.6,2012.5 998.4,2012.5 1000,2012.5" fill="none" stroke="#D95319" stroke-width="3.0" stroke-linejoin="round" stroke-dasharray="19.5 11"/>
<polyline points="100.5,2312.8 154.7,2293.6 186.3,2269.4 208.8,2244.1 226.2,2215.7 240.5,2192 252.5,2167.7 263,2145.7 272.2,2125.5 280.4,2105.6 287.8,2087.7 294.6,2072.4 300.9,2056.7 306.7,2043.2 312.1,2031.6 317.1,2019.3 321.9,2007.7 326.3,1998.1 330.5,1989.8 334.6,1982 338.4,1974.6 342,1967.7 345.5,1961.1 348.8,1954.9 352,1948.9 355.1,1943.4 358,1938.2 360.8,1933.2 363.6,1928.5 366.2,1924.1 368.8,1920 371.3,1916.2 373.7,1912.6 376,1909.2 378.3,1906.1 380.5,1903.1 382.6,1900.4 384.7,1897.8 386.7,1895.3 388.7,1893 390.6,1890.8 392.5,1888.7 394.4,1886.7 396.2,1884.9 397.9,1883.1 399.6,1881.5 401.3,1879.9 403,1878.3 404.6,1876.9 406.1,1875.4 407.7,1874 409.2,1872.7 410.7,1871.4 412.2,1870.2 413.6,1869 415,1867.8 416.4,1866.7 417.7,1865.6 419.1,1864.5 420.4,1863.4 421.7,1862.4 423,1861.5 424.2,1860.5 425.4,1859.6 426.6,1858.7 427.8,1857.8 429,1857 430.2,1856.2 431.3,1855.4 432.4,1854.6 433.5,1853.8 434.6,1853.1 435.7,1852.4 436.8,1851.7 437.8,1851 438.9,1850.3 439.9,1849.6 440.9,1848.9 441.9,1848.3 442.9,1847.6 443.8,1847 444.8,1846.3 445.7,1845.7 446.7,1845.1 447.6,1844.5 448.5,1843.8 449.4,1843.3 450.3,1842.7 451.2,1842.1 452.1,1841.5 452.9,1841 453.8,1840.4 454.6,1839.9 455.5,1839.4 456.3,1838.8 457.1,1838.3 457.9,1837.8 458.7,1837.3 459.5,1836.8 460.3,1836.3 461.1,1835.8 461.8,1835.3 462.6,1834.8 463.4,1834.3 464.1,1833.8 464.9,1833.4 465.6,1832.9 466.3,1832.4 467,1831.9 467.7,1831.4 468.5,1830.9 469.2,1830.5 469.8,1830 470.5,1829.5 471.2,1829 471.9,1828.5 472.6,1828.1 473.2,1827.6 473.9,1827.1 474.5,1826.7 475.8,1825.7 477.1,1824.8 478.4,1823.9 479.6,1823 480.8,1822.1 482,1821.2 483.2,1820.3 484.3,1819.4 485.5,1818.5 486.6,1817.7 487.7,1816.8 488.8,1815.9 489.9,1815 490.9,1814.2 492,1813.3 493,1812.4 494,1811.6 495,1810.7 496,1809.8 497,1808.9 498,1808 499,1807 499.9,1806.1 500.8,1805.2 501.8,1804.3 502.7,1803.5 503.6,1802.6 504.5,1801.8 505.4,1801 506.2,1800.1 507.1,1799.3 507.9,1798.5 508.8,1797.7 509.6,1796.9 510.4,1796.2 511.3,1795.4 512.1,1794.6 512.9,1793.9 513.7,1793.1 514.5,1792.4 515.2,1791.6 516,1790.9 516.8,1790.2 517.5,1789.5 518.3,1788.8 519,1788.1 519.7,1787.4 520.5,1786.7 521.2,1786.1 521.9,1785.4 522.6,1784.7 523.3,1784.1 524,1783.4 524.7,1782.8 525.4,1782.1 526.1,1781.5 526.7,1780.9 527.4,1780.2 528,1779.6 528.7,1779 529.3,1778.4 530,1777.8 530.6,1777.1 531.3,1776.5 531.9,1775.9 532.5,1775.3 533.1,1774.8 533.7,1774.2 534.4,1773.6 535,1773 535.6,1772.5 536.1,1771.9 536.7,1771.3 537.3,1770.8 538.2,1770 539.1,1769.2 539.9,1768.4 540.7,1767.7 541.6,1766.9 542.4,1766.2 543.2,1765.5 544,1764.8 544.8,1764.1 545.6,1763.4 546.4,1762.8 547.2,1762.2 547.9,1761.5 548.7,1760.9 549.4,1760.3 550.2,1759.7 550.9,1759.1 551.7,1758.5 552.4,1758 553.1,1757.4 553.8,1756.9 554.5,1756.4 555.2,1755.9 555.9,1755.4 556.6,1755 557.3,1754.5 558.2,1754 559.1,1753.5 559.9,1753 560.8,1752.6 561.7,1752.1 562.5,1751.6 563.4,1751.2 564.2,1750.8 565,1750.4 565.8,1750 566.6,1749.7 567.4,1749.4 568.2,1749.1 569,1748.9 570,1748.7 570.9,1748.6 571.9,1748.5 572.8,1748.4 573.7,1748.3 574.6,1748.2 575.5,1748.1 576.4,1748.1 577.3,1748 578.2,1748 579,1748 579.9,1748 580.7,1748 581.5,1748.1 582.4,1748.2 583.2,1748.3 584,1748.5 584.8,1748.6 585.6,1748.8 586.4,1749 587.1,1749.2 588.1,1749.5 589,1749.7 589.9,1750 590.7,1750.2 591.6,1750.6 592.5,1750.9 593.3,1751.3 594.2,1751.7 595,1752.1 595.9,1752.6 596.7,1753.1 597.5,1753.6 598.3,1754.1 599.1,1754.6 599.9,1755.1 600.7,1755.6 601.5,1756.1 602.2,1756.7 603,1757.3 603.7,1757.8 604.3,1758.4 605,1758.9 605.6,1759.4 606.2,1760 606.8,1760.6 607.4,1761.2 608,1761.8 608.6,1762.4 609.1,1763 609.7,1763.6 610.3,1764.2 610.9,1764.8 611.4,1765.4 612,1766.1 612.6,1766.7 613.1,1767.3 613.7,1767.9 614.2,1768.5 614.8,1769.2 615.3,1769.8 615.8,1770.5 616.4,1771.1 616.9,1771.8 617.4,1772.4 617.9,1773.1 618.4,1773.8 619,1774.5 619.5,1775.1 620,1775.8 620.5,1776.5 621,1777.2 621.5,1777.9 622,1778.6 622.5,1779.3 623,1780 623.4,1780.7 623.9,1781.4 624.4,1782.1 624.9,1782.8 625.4,1783.5 625.8,1784.2 626.3,1784.9 626.8,1785.6 627.2,1786.3 627.7,1787 628.1,1787.7 628.6,1788.5 629,1789.2 629.5,1789.9 629.9,1790.6 630.4,1791.4 630.8,1792.1 631.3,1792.8 631.7,1793.6 632.1,1794.3 632.6,1795 633,1795.8 633.4,1796.5 633.9,1797.2 634.3,1798 634.7,1798.7 635.1,1799.4 635.5,1800.2 635.9,1800.9 636.4,1801.6 636.8,1802.4 637.2,1803.1 637.6,1803.8 638,1804.5 638.4,1805.2 638.8,1806 639.2,1806.7 639.6,1807.4 640,1808.1 694.4,1917.5 726,1962.2 748.5,1981 765.9,1991.1 780.2,1997.5 792.2,2001.1 802.7,2003.7 811.9,2005.7 820.1,2007 827.5,2007.8 834.3,2008.5 840.6,2009.1 846.4,2009.6 851.8,2010 856.8,2010.3 861.6,2010.6 866,2010.8 870.2,2010.9 874.3,2011 878.1,2011.1 881.7,2011.2 885.2,2011.2 888.5,2011.3 891.7,2011.4 894.8,2011.4 897.7,2011.5 900.5,2011.6 903.3,2011.6 905.9,2011.6 908.5,2011.7 911,2011.7 913.4,2011.8 915.7,2011.8 918,2011.8 920.2,2011.9 922.3,2011.9 924.4,2011.9 926.4,2012 928.4,2012 930.3,2012 932.2,2012 934.1,2012.1 935.9,2012.1 937.6,2012.1 939.3,2012.1 941,2012.2 942.7,2012.2 944.3,2012.2 945.8,2012.2 947.4,2012.2 948.9,2012.2 950.4,2012.3 951.9,2012.3 953.3,2012.3 954.7,2012.3 956.1,2012.3 957.4,2012.3 958.8,2012.3 960.1,2012.3 961.4,2012.4 962.7,2012.4 963.9,2012.4 965.1,2012.4 966.3,2012.4 967.5,2012.4 968.7,2012.4 969.9,2012.4 971,2012.4 972.1,2012.4 973.2,2012.4 974.3,2012.4 975.4,2012.4 976.5,2012.4 977.5,2012.4 978.6,2012.5 979.6,2012.5 980.6,2012.5 981.6,2012.5 982.6,2012.5 983.5,2012.5 984.5,2012.5 985.4,2012.5 986.4,2012.5 987.3,2012.5 988.2,2012.5 989.1,2012.5 990,2012.5 990.9,2012.5 991.8,2012.5 992.6,2012.5 993.5,2012.5 994.3,2012.5 995.2,2012.5 996,2012.5 996.8,2012.5 997.6,2012.5 998.4,2012.5 1000,2012.5" fill="none" stroke="#7E2F8E" stroke-width="3.0" stroke-linejoin="round" stroke-dasharray="16 4.5 4 5.5"/>
<polyline points="100.5,2378.5 154.7,2337.3 186.3,2298.5 208.8,2266.5 226.2,2233.7 240.5,2207.4 252.5,2181.2 263,2157.8 272.2,2136.6 280.4,2115.9 287.8,2097.3 294.6,2081.5 300.9,2065.3 306.7,2051.5 312.1,2039.6 317.1,2027.1 321.9,2015.2 326.3,2005.4 330.5,1997 334.6,1989 338.4,1981.5 342,1974.4 345.5,1967.8 348.8,1961.4 352,1955.4 355.1,1949.8 358,1944.4 360.8,1939.4 363.6,1934.6 366.2,1930.2 368.8,1926.1 371.3,1922.2 373.7,1918.5 376,1915.1 378.3,1911.9 380.5,1909 382.6,1906.1 384.7,1903.5 386.7,1901 388.7,1898.6 390.6,1896.4 392.5,1894.3 394.4,1892.3 396.2,1890.5 397.9,1888.7 399.6,1887 401.3,1885.4 403,1883.8 404.6,1882.3 406.1,1880.9 407.7,1879.5 409.2,1878.1 410.7,1876.8 412.2,1875.6 413.6,1874.4 415,1873.2 416.4,1872 417.7,1870.9 419.1,1869.8 420.4,1868.8 421.7,1867.7 423,1866.8 424.2,1865.8 425.4,1864.9 426.6,1864 427.8,1863.1 429,1862.2 430.2,1861.4 431.3,1860.6 432.4,1859.8 433.5,1859 434.6,1858.3 435.7,1857.6 436.8,1856.8 437.8,1856.1 438.9,1855.4 439.9,1854.7 440.9,1854.1 441.9,1853.4 442.9,1852.7 443.8,1852.1 444.8,1851.4 445.7,1850.8 446.7,1850.2 447.6,1849.5 448.5,1848.9 449.4,1848.3 450.3,1847.7 451.2,1847.1 452.1,1846.6 452.9,1846 453.8,1845.5 454.6,1844.9 455.5,1844.4 456.3,1843.8 457.1,1843.3 457.9,1842.8 458.7,1842.3 459.5,1841.8 460.3,1841.3 461.1,1840.8 461.8,1840.3 462.6,1839.8 463.4,1839.3 464.1,1838.8 464.9,1838.3 465.6,1837.8 466.3,1837.3 467,1836.8 467.7,1836.3 468.5,1835.8 469.2,1835.3 469.8,1834.9 470.5,1834.4 471.2,1833.9 471.9,1833.4 472.6,1832.9 473.2,1832.4 473.9,1832 474.5,1831.5 475.2,1831 476.5,1830.1 477.7,1829.1 479,1828.2 480.2,1827.3 481.4,1826.4 482.6,1825.5 483.7,1824.6 484.9,1823.7 486,1822.8 487.1,1821.9 488.2,1821 489.3,1820.1 490.4,1819.2 491.5,1818.3 492.5,1817.5 493.5,1816.6 494.5,1815.7 495.5,1814.8 496.5,1813.9 497.5,1812.9 498.5,1812 499.4,1811.1 500.4,1810.2 501.3,1809.3 502.2,1808.4 503.1,1807.5 504,1806.6 504.9,1805.8 505.8,1804.9 506.7,1804.1 507.5,1803.3 508.4,1802.5 509.2,1801.7 510,1800.9 510.9,1800.1 511.7,1799.3 512.5,1798.5 513.3,1797.8 514.1,1797 514.8,1796.2 515.6,1795.5 516.4,1794.8 517.1,1794 517.9,1793.3 518.6,1792.6 519.4,1791.9 520.1,1791.2 520.8,1790.5 521.5,1789.8 522.3,1789.2 523,1788.5 523.7,1787.8 524.3,1787.2 525,1786.5 525.7,1785.9 526.4,1785.2 527.1,1784.6 527.7,1783.9 528.4,1783.3 529,1782.6 529.7,1782 530.3,1781.4 530.9,1780.8 531.6,1780.2 532.2,1779.5 532.8,1778.9 533.4,1778.3 534,1777.7 534.7,1777.2 535.3,1776.6 535.9,1776 536.4,1775.4 537,1774.9 537.6,1774.3 538.5,1773.5 539.3,1772.7 540.2,1771.9 541,1771.1 541.9,1770.4 542.7,1769.6 543.5,1768.9 544.3,1768.2 545.1,1767.5 545.9,1766.8 546.7,1766.2 547.4,1765.5 548.2,1764.9 548.9,1764.2 549.7,1763.6 550.4,1763 551.2,1762.4 551.9,1761.8 552.6,1761.2 553.3,1760.7 554.1,1760.1 554.8,1759.6 555.5,1759.1 556.1,1758.6 556.8,1758.2 557.5,1757.7 558.4,1757.2 559.3,1756.7 560.2,1756.2 561,1755.7 561.9,1755.2 562.7,1754.7 563.6,1754.2 564.4,1753.8 565.2,1753.4 566,1753 566.8,1752.7 567.6,1752.4 568.4,1752.1 569.2,1751.9 570.2,1751.7 571.1,1751.5 572,1751.4 573,1751.3 573.9,1751.2 574.8,1751.1 575.7,1751 576.6,1750.9 577.5,1750.8 578.3,1750.8 579.2,1750.8 580,1750.7 580.9,1750.8 581.7,1750.8 582.5,1750.9 583.3,1751 584.1,1751.1 584.9,1751.3 585.7,1751.4 586.5,1751.6 587.4,1751.8 588.4,1752.1 589.3,1752.3 590.2,1752.5 591,1752.8 591.9,1753.1 592.8,1753.4 593.6,1753.8 594.5,1754.2 595.3,1754.6 596.1,1755.1 597,1755.5 597.8,1756 598.6,1756.5 599.4,1757 600.2,1757.5 600.9,1758 601.7,1758.5 602.5,1759 603.2,1759.6 604,1760.2 604.6,1760.7 605.2,1761.2 605.8,1761.7 606.4,1762.3 607,1762.9 607.6,1763.4 608.2,1764 608.8,1764.6 609.4,1765.2 610,1765.8 610.5,1766.4 611.1,1767 611.7,1767.6 612.2,1768.2 612.8,1768.8 613.3,1769.4 613.9,1770 614.4,1770.7 615,1771.3 615.5,1771.9 616,1772.5 616.6,1773.2 617.1,1773.8 617.6,1774.5 618.1,1775.1 618.7,1775.8 619.2,1776.5 619.7,1777.1 620.2,1777.8 620.7,1778.5 621.2,1779.2 621.7,1779.8 622.2,1780.5 622.7,1781.2 623.2,1781.9 623.6,1782.6 624.1,1783.3 624.6,1784 625.1,1784.7 625.5,1785.3 626,1786 626.5,1786.7 626.9,1787.4 627.4,1788.1 627.9,1788.8 628.3,1789.6 628.8,1790.3 629.2,1791 629.7,1791.7 630.1,1792.4 630.6,1793.1 631,1793.9 631.4,1794.6 631.9,1795.3 632.3,1796 632.7,1796.8 633.2,1797.5 633.6,1798.2 634,1798.9 634.4,1799.7 634.9,1800.4 635.3,1801.1 635.7,1801.8 636.1,1802.6 636.5,1803.3 636.9,1804 637.3,1804.7 637.7,1805.4 638.1,1806.1 638.5,1806.9 638.9,1807.6 639.3,1808.3 639.7,1809 640.1,1809.7 694.4,1918 726,1962.5 748.5,1981.1 765.9,1991.2 780.2,1997.6 792.2,2001.2 802.7,2003.8 811.9,2005.7 820.1,2007 827.5,2007.8 834.3,2008.5 840.6,2009.1 846.4,2009.6 851.8,2010 856.8,2010.3 861.6,2010.6 866,2010.8 870.2,2010.9 874.3,2011 878.1,2011.1 881.7,2011.2 885.2,2011.3 888.5,2011.3 891.7,2011.4 894.8,2011.4 897.7,2011.5 900.5,2011.6 903.3,2011.6 905.9,2011.7 908.5,2011.7 911,2011.7 913.4,2011.8 915.7,2011.8 918,2011.8 920.2,2011.9 922.3,2011.9 924.4,2011.9 926.4,2012 928.4,2012 930.3,2012 932.2,2012.1 934.1,2012.1 935.9,2012.1 937.6,2012.1 939.3,2012.1 941,2012.2 942.7,2012.2 944.3,2012.2 945.8,2012.2 947.4,2012.2 948.9,2012.2 950.4,2012.3 951.9,2012.3 953.3,2012.3 954.7,2012.3 956.1,2012.3 957.4,2012.3 958.8,2012.3 960.1,2012.3 961.4,2012.4 962.7,2012.4 963.9,2012.4 965.1,2012.4 966.3,2012.4 967.5,2012.4 968.7,2012.4 969.9,2012.4 971,2012.4 972.1,2012.4 973.2,2012.4 974.3,2012.4 975.4,2012.4 976.5,2012.4 977.5,2012.4 978.6,2012.5 979.6,2012.5 980.6,2012.5 981.6,2012.5 982.6,2012.5 983.5,2012.5 984.5,2012.5 985.4,2012.5 986.4,2012.5 987.3,2012.5 988.2,2012.5 989.1,2012.5 990,2012.5 990.9,2012.5 991.8,2012.5 992.6,2012.5 993.5,2012.5 994.3,2012.5 995.2,2012.5 996,2012.5 996.8,2012.5 997.6,2012.5 998.4,2012.5 1000,2012.5" fill="none" stroke="#EDB120" stroke-width="3.0" stroke-linejoin="round" stroke-dasharray="19.5 11"/>
<polyline points="100.5,2378.5 154.7,2337.3 186.3,2298.5 208.8,2266.5 226.2,2233.7 240.5,2207.4 252.5,2181.2 263,2157.8 272.2,2136.6 280.4,2115.9 287.8,2097.3 294.6,2081.5 300.9,2065.3 306.7,2051.5 312.1,2039.6 317.1,2027.1 321.9,2015.2 326.3,2005.4 330.5,1997 334.6,1989 338.4,1981.5 342,1974.4 345.5,1967.8 348.8,1961.4 352,1955.4 355.1,1949.8 358,1944.4 360.8,1939.4 363.6,1934.6 366.2,1930.2 368.8,1926.1 371.3,1922.2 373.7,1918.5 376,1915.1 378.3,1911.9 380.5,1909 382.6,1906.1 384.7,1903.5 386.7,1901 388.7,1898.6 390.6,1896.4 392.5,1894.3 394.4,1892.3 396.2,1890.5 397.9,1888.7 399.6,1887 401.3,1885.4 403,1883.8 404.6,1882.3 406.1,1880.9 407.7,1879.5 409.2,1878.1 410.7,1876.8 412.2,1875.6 413.6,1874.4 415,1873.2 416.4,1872 417.7,1870.9 419.1,1869.8 420.4,1868.8 421.7,1867.7 423,1866.8 424.2,1865.8 425.4,1864.9 426.6,1864 429,1862.2 431.3,1860.6 433.5,1859 435.7,1857.6 437.8,1856.1 439.9,1854.7 441.9,1853.4 443.8,1852.1 445.7,1850.8 447.6,1849.5 449.4,1848.3 451.2,1847.1 452.9,1846 454.6,1844.9 456.3,1843.8 457.9,1842.8 459.5,1841.8 461.1,1840.8 462.6,1839.8 464.1,1838.8 465.6,1837.8 467,1836.8 468.5,1835.8 469.8,1834.9 471.2,1833.9 472.6,1832.9 473.9,1832 475.2,1831 476.5,1830.1 477.7,1829.1 479,1828.2 480.2,1827.3 481.4,1826.4 483.2,1825 484.9,1823.7 486.6,1822.3 488.2,1821 489.9,1819.7 491.5,1818.3 493,1817 494.5,1815.7 496,1814.3 497.5,1812.9 499,1811.5 500.4,1810.2 501.8,1808.8 503.1,1807.5 504.5,1806.2 505.8,1804.9 507.1,1803.7 508.4,1802.5 509.6,1801.3 510.9,1800.1 512.1,1798.9 513.3,1797.8 514.5,1796.6 515.6,1795.5 516.8,1794.4 517.9,1793.3 519,1792.3 520.1,1791.2 521.5,1789.8 523,1788.5 524.3,1787.2 525.7,1785.9 527.1,1784.6 528.4,1783.3 529.7,1782 530.9,1780.8 532.2,1779.5 533.4,1778.3 534.7,1777.2 535.9,1776 537,1774.9 538.2,1773.8 539.3,1772.7 540.5,1771.6 541.6,1770.6 542.9,1769.4 544.3,1768.2 545.6,1767 546.9,1765.9 548.2,1764.9 549.4,1763.8 550.7,1762.8 551.9,1761.8 553.1,1760.9 554.5,1759.8 555.9,1758.8 557.3,1757.9 558.6,1757 559.9,1756.3 561.5,1755.4 562.9,1754.6 564.4,1753.8 565.8,1753.1 567.2,1752.5 568.8,1752 570.3,1751.6 571.9,1751.4 573.5,1751.2 575.2,1751 576.8,1750.9 578.3,1750.8 579.9,1750.8 581.4,1750.8 583,1751 584.6,1751.2 586.2,1751.5 587.7,1751.9 589.3,1752.3 590.7,1752.7 592.2,1753.2 593.6,1753.8 595,1754.5 596.4,1755.2 597.8,1756 599.1,1756.8 600.4,1757.7 601.7,1758.5 603,1759.4 604.2,1760.4 605.5,1761.4 606.7,1762.5 607.9,1763.7 609,1764.8 610.2,1766 611.3,1767.3 612.4,1768.5 613.6,1769.7 614.6,1770.9 615.7,1772.2 616.8,1773.4 617.7,1774.6 618.7,1775.8 619.6,1777 620.5,1778.2 621.4,1779.4 622.3,1780.7 623.2,1781.9 624,1783.1 624.9,1784.4 625.7,1785.6 626.6,1786.9 627.4,1788.1 628.2,1789.4 629,1790.7 629.9,1792 630.7,1793.3 631.4,1794.6 632.2,1795.9 633,1797.2 633.8,1798.5 634.5,1799.8 635.3,1801.1 636.1,1802.6 636.9,1804 637.7,1805.4 638.5,1806.9 639.3,1808.3 640.1,1809.7 694.4,1918 726,1962.5 748.5,1981.1 765.9,1991.2 780.2,1997.6 792.2,2001.2 802.7,2003.8 811.9,2005.7 820.1,2007 827.5,2007.8 834.3,2008.5 840.6,2009.1 846.4,2009.6 851.8,2010 856.8,2010.3 861.6,2010.6 866,2010.8 870.2,2010.9 874.3,2011 878.1,2011.1 881.7,2011.2 885.2,2011.3 888.5,2011.3 891.7,2011.4 894.8,2011.4 897.7,2011.5 900.5,2011.6 903.3,2011.6 905.9,2011.7 908.5,2011.7 911,2011.7 913.4,2011.8 915.7,2011.8 918,2011.8 920.2,2011.9 922.3,2011.9 924.4,2011.9 926.4,2012 928.4,2012 930.3,2012 932.2,2012.1 934.1,2012.1 935.9,2012.1 937.6,2012.1 939.3,2012.1 941,2012.2 942.7,2012.2 944.3,2012.2 945.8,2012.2 947.4,2012.2 948.9,2012.2 951.9,2012.3 954.7,2012.3 957.4,2012.3 960.1,2012.3 962.7,2012.4 965.1,2012.4 967.5,2012.4 969.9,2012.4 972.1,2012.4 974.3,2012.4 976.5,2012.4 978.6,2012.5 980.6,2012.5 982.6,2012.5 984.5,2012.5 986.4,2012.5 988.2,2012.5 990,2012.5 991.8,2012.5 993.5,2012.5 995.2,2012.5 996.8,2012.5 998.4,2012.5 1000,2012.5" fill="none" stroke="none" stroke-width="0" stroke-linejoin="round" marker-start="url(#cY)" marker-mid="url(#cY)" marker-end="url(#cY)"/>
<polyline points="100.5,2378.5 154.7,2354.1 186.3,2305.8 208.8,2271.5 226.2,2237.5 240.5,2210.6 252.5,2184 263,2160.3 272.2,2138.9 280.4,2118 287.8,2099.3 294.6,2083.4 300.9,2067.1 306.7,2053.2 312.1,2041.2 317.1,2028.7 321.9,2016.7 326.3,2006.9 330.5,1998.4 334.6,1990.4 338.4,1982.9 342,1975.8 345.5,1969.1 348.8,1962.7 352,1956.7 355.1,1951 358,1945.7 360.8,1940.6 363.6,1935.9 366.2,1931.4 368.8,1927.3 371.3,1923.4 373.7,1919.7 376,1916.3 378.3,1913.1 380.5,1910.1 382.6,1907.3 384.7,1904.7 386.7,1902.1 388.7,1899.8 390.6,1897.6 392.5,1895.5 394.4,1893.5 396.2,1891.6 397.9,1889.8 399.6,1888.1 401.3,1886.5 403,1884.9 404.6,1883.4 406.1,1882 407.7,1880.6 409.2,1879.2 410.7,1877.9 412.2,1876.7 413.6,1875.4 415,1874.2 416.4,1873.1 417.7,1872 419.1,1870.9 420.4,1869.8 421.7,1868.8 423,1867.8 424.2,1866.9 425.4,1865.9 426.6,1865 427.8,1864.1 429,1863.3 430.2,1862.5 431.3,1861.7 432.4,1860.9 433.5,1860.1 434.6,1859.3 435.7,1858.6 436.8,1857.9 437.8,1857.2 438.9,1856.5 439.9,1855.8 440.9,1855.1 441.9,1854.4 442.9,1853.8 443.8,1853.1 444.8,1852.5 445.7,1851.8 446.7,1851.2 447.6,1850.6 448.5,1849.9 449.4,1849.3 450.3,1848.7 451.2,1848.2 452.1,1847.6 452.9,1847 453.8,1846.5 454.6,1845.9 455.5,1845.4 456.3,1844.9 457.1,1844.3 457.9,1843.8 458.7,1843.3 459.5,1842.8 460.3,1842.3 461.1,1841.8 461.8,1841.3 462.6,1840.8 463.4,1840.3 464.1,1839.8 464.9,1839.3 465.6,1838.8 466.3,1838.3 467,1837.8 467.7,1837.3 468.5,1836.8 469.2,1836.3 469.8,1835.8 470.5,1835.3 471.2,1834.9 471.9,1834.4 472.6,1833.9 473.2,1833.4 473.9,1832.9 474.5,1832.4 475.2,1832 476.5,1831 477.7,1830.1 479,1829.2 480.2,1828.3 481.4,1827.3 482.6,1826.4 483.7,1825.5 484.9,1824.6 486,1823.7 487.1,1822.8 488.2,1821.9 489.3,1821 490.4,1820.2 491.5,1819.3 492.5,1818.4 493.5,1817.5 494.5,1816.6 495.5,1815.7 496.5,1814.8 497.5,1813.9 498.5,1812.9 499.4,1812 500.4,1811.1 501.3,1810.2 502.2,1809.3 503.1,1808.4 504,1807.5 504.9,1806.7 505.8,1805.8 506.7,1805 507.5,1804.2 508.4,1803.3 509.2,1802.5 510,1801.7 510.9,1800.9 511.7,1800.2 512.5,1799.4 513.3,1798.6 514.1,1797.9 514.8,1797.1 515.6,1796.4 516.4,1795.6 517.1,1794.9 517.9,1794.2 518.6,1793.5 519.4,1792.7 520.1,1792 520.8,1791.4 521.5,1790.7 522.3,1790 523,1789.3 523.7,1788.6 524.3,1788 525,1787.3 525.7,1786.7 526.4,1786 527.1,1785.4 527.7,1784.7 528.4,1784.1 529,1783.4 529.7,1782.8 530.3,1782.2 530.9,1781.6 531.6,1780.9 532.2,1780.3 532.8,1779.7 533.4,1779.1 534,1778.5 534.7,1777.9 535.3,1777.3 535.9,1776.8 536.4,1776.2 537,1775.6 537.6,1775.1 538.5,1774.2 539.3,1773.4 540.2,1772.6 541,1771.9 541.9,1771.1 542.7,1770.3 543.5,1769.6 544.3,1768.9 545.1,1768.2 545.9,1767.5 546.7,1766.9 547.4,1766.2 548.2,1765.6 548.9,1765 549.7,1764.3 550.4,1763.7 551.2,1763.1 551.9,1762.5 552.6,1761.9 553.3,1761.4 554.1,1760.8 554.8,1760.3 555.5,1759.8 556.1,1759.3 556.8,1758.8 557.5,1758.4 558.4,1757.8 559.3,1757.3 560.2,1756.8 561,1756.3 561.9,1755.8 562.7,1755.3 563.6,1754.9 564.4,1754.4 565.2,1754 566,1753.6 566.8,1753.3 567.6,1753 568.4,1752.7 569.2,1752.5 570.2,1752.3 571.1,1752.1 572,1752 573,1751.9 573.9,1751.8 574.8,1751.6 575.7,1751.6 576.6,1751.5 577.5,1751.4 578.3,1751.4 579.2,1751.3 580,1751.3 580.9,1751.3 581.7,1751.4 582.5,1751.4 583.3,1751.5 584.1,1751.7 584.9,1751.8 585.7,1752 586.7,1752.2 587.6,1752.4 588.5,1752.6 589.4,1752.8 590.3,1753.1 591.2,1753.3 592.1,1753.6 592.9,1754 593.8,1754.4 594.6,1754.7 595.5,1755.2 596.3,1755.6 597.1,1756.1 597.9,1756.5 598.7,1757 599.5,1757.5 600.3,1758 601.1,1758.5 601.8,1759 602.6,1759.6 603.4,1760.1 604.1,1760.7 604.7,1761.2 605.3,1761.7 605.9,1762.3 606.5,1762.8 607.1,1763.4 607.7,1764 608.3,1764.5 608.9,1765.1 609.5,1765.7 610.1,1766.3 610.6,1766.9 611.2,1767.5 611.8,1768.1 612.3,1768.7 612.9,1769.3 613.4,1769.9 614,1770.5 614.5,1771.2 615.1,1771.8 615.6,1772.4 616.1,1773 616.7,1773.7 617.2,1774.3 617.7,1775 618.2,1775.6 618.8,1776.3 619.3,1776.9 619.8,1777.6 620.3,1778.3 620.8,1779 621.3,1779.6 621.8,1780.3 622.3,1781 622.8,1781.7 623.3,1782.4 623.7,1783.1 624.2,1783.7 624.7,1784.4 625.2,1785.1 625.6,1785.8 626.1,1786.5 626.6,1787.2 627,1787.9 627.5,1788.6 628,1789.3 628.4,1790 628.9,1790.7 629.3,1791.4 629.8,1792.1 630.2,1792.9 630.7,1793.6 631.1,1794.3 631.5,1795 632,1795.8 632.4,1796.5 632.8,1797.2 633.3,1797.9 633.7,1798.6 634.1,1799.4 634.5,1800.1 634.9,1800.8 635.4,1801.5 635.8,1802.3 636.2,1803 636.6,1803.7 637,1804.4 637.4,1805.1 637.8,1805.8 638.2,1806.5 638.6,1807.3 639,1808 639.4,1808.7 639.8,1809.4 640.2,1810.1 694.4,1918.1 726,1962.5 748.5,1981.2 765.9,1991.2 780.2,1997.6 792.2,2001.2 802.7,2003.8 811.9,2005.8 820.1,2007 827.5,2007.8 834.3,2008.5 840.6,2009.1 846.4,2009.6 851.8,2010 856.8,2010.3 861.6,2010.6 866,2010.8 870.2,2010.9 874.3,2011 878.1,2011.1 881.7,2011.2 885.2,2011.3 888.5,2011.3 891.7,2011.4 894.8,2011.4 897.7,2011.5 900.5,2011.6 903.3,2011.6 905.9,2011.7 908.5,2011.7 911,2011.7 913.4,2011.8 915.7,2011.8 918,2011.8 920.2,2011.9 922.3,2011.9 924.4,2011.9 926.4,2012 928.4,2012 930.3,2012 932.2,2012.1 934.1,2012.1 935.9,2012.1 937.6,2012.1 939.3,2012.1 941,2012.2 942.7,2012.2 944.3,2012.2 945.8,2012.2 947.4,2012.2 948.9,2012.2 950.4,2012.3 951.9,2012.3 953.3,2012.3 954.7,2012.3 956.1,2012.3 957.4,2012.3 958.8,2012.3 960.1,2012.3 961.4,2012.4 962.7,2012.4 963.9,2012.4 965.1,2012.4 966.3,2012.4 967.5,2012.4 968.7,2012.4 969.9,2012.4 971,2012.4 972.1,2012.4 973.2,2012.4 974.3,2012.4 975.4,2012.4 976.5,2012.4 977.5,2012.4 978.6,2012.5 979.6,2012.5 980.6,2012.5 981.6,2012.5 982.6,2012.5 983.5,2012.5 984.5,2012.5 985.4,2012.5 986.4,2012.5 987.3,2012.5 988.2,2012.5 989.1,2012.5 990,2012.5 990.9,2012.5 991.8,2012.5 992.6,2012.5 993.5,2012.5 994.3,2012.5 995.2,2012.5 996,2012.5 996.8,2012.5 997.6,2012.5 998.4,2012.5 1000,2012.5" fill="none" stroke="#77AC30" stroke-width="3.0" stroke-linejoin="round"/>
<polyline points="100.5,2378.5 154.7,2354.1 186.3,2305.8 208.8,2271.5 226.2,2237.5 240.5,2210.6 252.5,2184 263,2160.3 272.2,2138.9 280.4,2118 287.8,2099.3 294.6,2083.4 300.9,2067.1 306.7,2053.2 312.1,2041.2 317.1,2028.7 321.9,2016.7 326.3,2006.9 330.5,1998.4 334.6,1990.4 338.4,1982.9 342,1975.8 345.5,1969.1 348.8,1962.7 352,1956.7 355.1,1951 358,1945.7 360.8,1940.6 363.6,1935.9 366.2,1931.4 368.8,1927.3 371.3,1923.4 373.7,1919.7 376,1916.3 378.3,1913.1 380.5,1910.1 382.6,1907.3 384.7,1904.7 386.7,1902.1 388.7,1899.8 390.6,1897.6 392.5,1895.5 394.4,1893.5 396.2,1891.6 397.9,1889.8 399.6,1888.1 401.3,1886.5 403,1884.9 404.6,1883.4 406.1,1882 407.7,1880.6 409.2,1879.2 410.7,1877.9 412.2,1876.7 413.6,1875.4 415,1874.2 416.4,1873.1 417.7,1872 419.1,1870.9 420.4,1869.8 421.7,1868.8 423,1867.8 424.2,1866.9 425.4,1865.9 426.6,1865 429,1863.3 431.3,1861.7 433.5,1860.1 435.7,1858.6 437.8,1857.2 439.9,1855.8 441.9,1854.4 443.8,1853.1 445.7,1851.8 447.6,1850.6 449.4,1849.3 451.2,1848.2 452.9,1847 454.6,1845.9 456.3,1844.9 457.9,1843.8 459.5,1842.8 461.1,1841.8 462.6,1840.8 464.1,1839.8 465.6,1838.8 467,1837.8 468.5,1836.8 469.8,1835.8 471.2,1834.9 472.6,1833.9 473.9,1832.9 475.2,1832 476.5,1831 477.7,1830.1 479,1829.2 480.2,1828.3 481.4,1827.3 483.2,1826 484.9,1824.6 486.6,1823.3 488.2,1821.9 489.9,1820.6 491.5,1819.3 493,1817.9 494.5,1816.6 496,1815.2 497.5,1813.9 499,1812.5 500.4,1811.1 501.8,1809.7 503.1,1808.4 504.5,1807.1 505.8,1805.8 507.1,1804.6 508.4,1803.3 509.6,1802.1 510.9,1800.9 512.1,1799.8 513.3,1798.6 514.5,1797.5 515.6,1796.4 516.8,1795.3 517.9,1794.2 519,1793.1 520.1,1792 521.5,1790.7 523,1789.3 524.3,1788 525.7,1786.7 527.1,1785.4 528.4,1784.1 529.7,1782.8 530.9,1781.6 532.2,1780.3 533.4,1779.1 534.7,1777.9 535.9,1776.8 537,1775.6 538.2,1774.5 539.3,1773.4 540.5,1772.4 541.6,1771.3 542.9,1770.1 544.3,1768.9 545.6,1767.8 546.9,1766.7 548.2,1765.6 549.4,1764.5 550.7,1763.5 551.9,1762.5 553.1,1761.5 554.5,1760.5 555.9,1759.4 557.3,1758.5 558.6,1757.7 559.9,1756.9 561.2,1756.2 562.7,1755.3 564.2,1754.5 565.6,1753.8 567,1753.2 568.6,1752.7 570.2,1752.3 571.7,1752 573.2,1751.8 574.8,1751.6 576.4,1751.5 578,1751.4 579.5,1751.3 581,1751.3 582.7,1751.4 584.3,1751.7 585.9,1752 587.4,1752.4 589,1752.7 590.4,1753.1 591.9,1753.6 593.3,1754.2 594.8,1754.8 596.1,1755.5 597.5,1756.3 598.8,1757.1 600.2,1757.9 601.5,1758.8 602.7,1759.6 604,1760.6 605.2,1761.6 606.4,1762.7 607.6,1763.8 608.8,1765 610,1766.2 611.1,1767.4 612.2,1768.6 613.3,1769.8 614.4,1771 615.5,1772.3 616.6,1773.5 617.5,1774.7 618.4,1775.9 619.4,1777.1 620.3,1778.3 621.2,1779.5 622.1,1780.7 623,1782 623.8,1783.2 624.7,1784.4 625.5,1785.7 626.4,1786.9 627.2,1788.2 628.1,1789.4 628.9,1790.7 629.7,1792 630.5,1793.3 631.3,1794.6 632.1,1795.9 632.8,1797.2 633.6,1798.5 634.4,1799.8 635.1,1801.1 635.9,1802.5 636.8,1804 637.6,1805.4 638.4,1806.8 639.2,1808.2 640,1809.6 694.4,1918.1 726,1962.5 748.5,1981.2 765.9,1991.2 780.2,1997.6 792.2,2001.2 802.7,2003.8 811.9,2005.8 820.1,2007 827.5,2007.8 834.3,2008.5 840.6,2009.1 846.4,2009.6 851.8,2010 856.8,2010.3 861.6,2010.6 866,2010.8 870.2,2010.9 874.3,2011 878.1,2011.1 881.7,2011.2 885.2,2011.3 888.5,2011.3 891.7,2011.4 894.8,2011.4 897.7,2011.5 900.5,2011.6 903.3,2011.6 905.9,2011.7 908.5,2011.7 911,2011.7 913.4,2011.8 915.7,2011.8 918,2011.8 920.2,2011.9 922.3,2011.9 924.4,2011.9 926.4,2012 928.4,2012 930.3,2012 932.2,2012.1 934.1,2012.1 935.9,2012.1 937.6,2012.1 939.3,2012.1 941,2012.2 942.7,2012.2 944.3,2012.2 945.8,2012.2 947.4,2012.2 948.9,2012.2 951.9,2012.3 954.7,2012.3 957.4,2012.3 960.1,2012.3 962.7,2012.4 965.1,2012.4 967.5,2012.4 969.9,2012.4 972.1,2012.4 974.3,2012.4 976.5,2012.4 978.6,2012.5 980.6,2012.5 982.6,2012.5 984.5,2012.5 986.4,2012.5 988.2,2012.5 990,2012.5 991.8,2012.5 993.5,2012.5 995.2,2012.5 996.8,2012.5 998.4,2012.5 1000,2012.5" fill="none" stroke="none" stroke-width="0" stroke-linejoin="round" marker-start="url(#cG)" marker-mid="url(#cG)" marker-end="url(#cG)"/>
<rect x="765.3" y="2186.8" width="210.3" height="167.2" fill="#fff" stroke="#262626" stroke-width="1.8"/>
<line x1="780.6" y1="2207" x2="858.3" y2="2207" stroke="#7E2F8E" stroke-width="2.4" stroke-dasharray="16 4.5 4 5.5"/>
<line x1="780.6" y1="2238.8" x2="858.3" y2="2238.8" stroke="#D95319" stroke-width="2.4" stroke-dasharray="19.5 11"/>
<line x1="780.6" y1="2270.7" x2="858.3" y2="2270.7" stroke="#0072BD" stroke-width="2.4"/>
<line x1="780.6" y1="2302.5" x2="858.3" y2="2302.5" stroke="#EDB120" stroke-width="2.4" stroke-dasharray="19.5 11"/>
<polygon points="817.5,2296.5 815.7,2299.4 812.3,2299.5 813.9,2302.5 812.3,2305.5 815.7,2305.6 817.5,2308.5 819.3,2305.6 822.7,2305.5 821.1,2302.5 822.7,2299.5 819.3,2299.4" fill="#EDB120" stroke="#EDB120" stroke-width="1"/>
<line x1="780.6" y1="2334.4" x2="858.3" y2="2334.4" stroke="#77AC30" stroke-width="2.4"/>
<polygon points="817.5,2328.8 820.9,2334.4 817.5,2340 814.1,2334.4" fill="#77AC30" stroke="#77AC30" stroke-width="1"/>
<text x="866" y="2215.8" font-size="26.3" text-anchor="start" font-family="'Liberation Serif', 'Times New Roman', serif" fill="#262626">V=+15 V</text>
<text x="866" y="2247.6" font-size="26.3" text-anchor="start" font-family="'Liberation Serif', 'Times New Roman', serif" fill="#262626">V=+10 V</text>
<text x="866" y="2279.5" font-size="26.3" text-anchor="start" font-family="'Liberation Serif', 'Times New Roman', serif" fill="#262626">V=0 V</text>
<text x="866" y="2311.3" font-size="26.3" text-anchor="start" font-family="'Liberation Serif', 'Times New Roman', serif" fill="#262626">V=-10 V</text>
<text x="866" y="2343.2" font-size="26.3" text-anchor="start" font-family="'Liberation Serif', 'Times New Roman', serif" fill="#262626">V=-15 V</text>
</g>
</svg>
</body></html>
